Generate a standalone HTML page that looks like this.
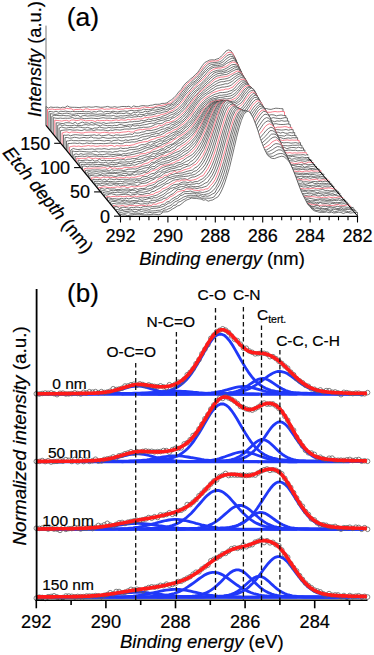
<!DOCTYPE html><html><head><meta charset="utf-8"><style>html,body{margin:0;padding:0;background:#fff;overflow:hidden}svg{display:block}</style></head><body><svg width="374" height="655" viewBox="0 0 374 655" font-family='"Liberation Sans", sans-serif'><style>text{stroke:#000;stroke-width:0.2px}</style><path d="M46.0,125.4 L46.0,106.4 L48.4,108.1 L50.7,107.0 L53.1,107.4 L55.5,107.3 L57.9,107.2 L60.2,107.9 L62.6,107.2 L65.0,107.5 L67.3,105.9 L69.7,107.1 L72.1,107.3 L74.4,107.3 L76.8,107.4 L79.2,107.6 L81.5,107.3 L83.9,107.0 L86.3,107.2 L88.7,106.8 L91.0,107.2 L93.4,107.1 L95.8,106.6 L98.1,106.9 L100.5,107.3 L102.9,107.2 L105.2,106.9 L107.6,106.4 L110.0,107.2 L112.4,107.2 L114.7,106.7 L117.1,107.3 L119.5,107.0 L121.8,106.5 L124.2,106.5 L126.6,106.6 L128.9,106.3 L131.3,107.5 L133.7,105.9 L136.1,106.6 L138.4,106.7 L140.8,105.9 L143.2,105.6 L145.5,105.9 L147.9,106.0 L150.3,105.3 L152.6,105.1 L155.0,104.3 L157.4,104.3 L159.8,104.2 L162.1,103.4 L164.5,103.4 L166.9,102.9 L169.2,101.2 L171.6,99.7 L174.0,97.7 L176.3,95.2 L178.7,92.0 L181.1,89.5 L183.5,85.8 L185.8,83.1 L188.2,81.2 L190.6,78.9 L192.9,77.2 L195.3,74.6 L197.7,72.5 L200.0,69.1 L202.4,65.5 L204.8,62.5 L207.2,61.3 L209.5,60.1 L211.9,59.8 L214.3,60.0 L216.6,59.1 L219.0,58.4 L221.4,56.0 L223.8,53.8 L226.1,50.9 L228.5,49.9 L230.9,50.7 L233.2,54.2 L235.6,59.5 L238.0,67.8 L240.3,76.9 L242.7,85.7 L245.1,93.4 L247.4,99.5 L249.8,103.7 L252.2,106.2 L254.6,106.8 L256.9,108.7 L259.3,108.7 L261.7,108.7 L264.0,108.6 L266.4,108.5 L268.8,109.2 L271.1,109.4 L273.5,108.7 L275.9,108.2 L278.3,108.4 L280.6,108.6 L283.0,108.8 L283.0,125.4" fill="#fff" stroke="#3a3a3a" stroke-width="0.72"/>
<path d="M47.5,127.2 L47.5,109.2 L49.8,109.4 L52.2,109.0 L54.6,109.6 L56.9,109.3 L59.3,109.3 L61.7,109.1 L64.1,109.2 L66.4,108.3 L68.8,108.7 L71.2,108.7 L73.5,110.1 L75.9,109.4 L78.3,109.5 L80.6,109.1 L83.0,110.2 L85.4,108.9 L87.8,108.9 L90.1,109.8 L92.5,109.7 L94.9,109.6 L97.2,109.3 L99.6,109.1 L102.0,108.5 L104.3,109.4 L106.7,109.0 L109.1,109.2 L111.5,108.6 L113.8,108.9 L116.2,108.7 L118.6,109.5 L120.9,109.1 L123.3,109.2 L125.7,108.3 L128.0,108.5 L130.4,108.7 L132.8,108.6 L135.2,108.1 L137.5,108.5 L139.9,108.4 L142.3,107.7 L144.6,106.8 L147.0,107.6 L149.4,107.5 L151.7,107.4 L154.1,107.2 L156.5,106.2 L158.9,105.7 L161.2,105.6 L163.6,105.0 L166.0,104.4 L168.3,103.5 L170.7,102.8 L173.1,100.6 L175.4,98.2 L177.8,95.7 L180.2,92.6 L182.6,89.5 L184.9,86.4 L187.3,83.5 L189.7,81.5 L192.0,79.5 L194.4,77.4 L196.8,75.1 L199.1,72.1 L201.5,69.8 L203.9,66.1 L206.3,63.8 L208.6,62.0 L211.0,61.2 L213.4,61.0 L215.7,61.0 L218.1,60.6 L220.5,59.0 L222.8,57.3 L225.2,54.9 L227.6,52.7 L230.0,52.1 L232.3,52.8 L234.7,56.9 L237.1,63.0 L239.4,71.8 L241.8,81.0 L244.2,89.6 L246.5,96.9 L248.9,103.0 L251.3,106.5 L253.7,109.2 L256.0,109.9 L258.4,111.5 L260.8,111.2 L263.1,112.0 L265.5,112.2 L267.9,112.2 L270.2,112.3 L272.6,111.8 L275.0,111.5 L277.4,111.8 L279.7,111.7 L282.1,111.3 L284.5,111.8 L284.5,127.2" fill="#fff" stroke="#f64a5e" stroke-width="0.72"/>
<path d="M48.9,129.0 L48.9,111.4 L51.3,111.6 L53.7,112.1 L56.0,111.2 L58.4,112.2 L60.8,111.2 L63.1,111.5 L65.5,111.1 L67.9,111.5 L70.3,111.8 L72.6,111.4 L75.0,111.7 L77.4,111.6 L79.7,111.5 L82.1,111.5 L84.5,111.6 L86.8,111.8 L89.2,111.6 L91.6,112.3 L94.0,111.6 L96.3,112.0 L98.7,111.1 L101.1,111.0 L103.4,112.2 L105.8,111.4 L108.2,111.5 L110.5,111.9 L112.9,111.2 L115.3,111.6 L117.7,112.0 L120.0,111.4 L122.4,111.2 L124.8,111.0 L127.1,111.4 L129.5,110.6 L131.9,110.4 L134.2,110.9 L136.6,110.6 L139.0,110.2 L141.4,110.2 L143.7,109.1 L146.1,109.5 L148.5,109.7 L150.8,109.3 L153.2,108.6 L155.6,107.4 L157.9,107.9 L160.3,107.4 L162.7,106.8 L165.1,106.4 L167.4,104.8 L169.8,104.8 L172.2,103.0 L174.5,101.2 L176.9,98.7 L179.3,96.2 L181.6,92.6 L184.0,89.8 L186.4,86.8 L188.8,84.5 L191.1,82.2 L193.5,80.0 L195.9,77.9 L198.2,75.6 L200.6,72.7 L203.0,69.7 L205.3,67.0 L207.7,64.5 L210.1,63.1 L212.5,62.7 L214.8,62.5 L217.2,62.3 L219.6,61.8 L221.9,60.6 L224.3,58.3 L226.7,55.8 L229.0,54.6 L231.4,54.2 L233.8,56.0 L236.2,60.1 L238.5,67.6 L240.9,75.6 L243.3,84.6 L245.6,93.5 L248.0,100.3 L250.4,105.9 L252.7,110.2 L255.1,112.3 L257.5,114.3 L259.9,114.6 L262.2,114.1 L264.6,115.3 L267.0,114.3 L269.3,115.1 L271.7,114.7 L274.1,115.0 L276.4,115.9 L278.8,115.3 L281.2,115.0 L283.6,115.5 L285.9,115.6 L285.9,129.0" fill="#fff" stroke="#3a3a3a" stroke-width="0.72"/>
<path d="M50.4,130.7 L50.4,113.6 L52.8,114.0 L55.1,114.4 L57.5,114.0 L59.9,113.4 L62.2,113.9 L64.6,113.4 L67.0,113.1 L69.3,113.7 L71.7,114.2 L74.1,114.2 L76.5,113.7 L78.8,113.4 L81.2,113.6 L83.6,113.5 L85.9,113.9 L88.3,113.6 L90.7,113.9 L93.0,113.8 L95.4,114.2 L97.8,114.3 L100.2,113.9 L102.5,114.1 L104.9,114.1 L107.3,113.4 L109.6,113.7 L112.0,112.6 L114.4,113.3 L116.7,113.8 L119.1,113.2 L121.5,113.3 L123.9,113.6 L126.2,112.8 L128.6,113.3 L131.0,114.1 L133.3,112.4 L135.7,112.8 L138.1,111.8 L140.4,112.4 L142.8,112.4 L145.2,111.1 L147.6,111.8 L149.9,111.0 L152.3,110.1 L154.7,110.2 L157.0,109.8 L159.4,109.3 L161.8,108.5 L164.1,108.6 L166.5,107.4 L168.9,106.5 L171.3,105.1 L173.6,104.0 L176.0,102.1 L178.4,99.2 L180.7,96.5 L183.1,93.3 L185.5,90.2 L187.8,87.1 L190.2,85.0 L192.6,82.7 L195.0,81.2 L197.3,78.8 L199.7,75.9 L202.1,73.6 L204.4,70.6 L206.8,68.0 L209.2,65.6 L211.5,64.5 L213.9,64.3 L216.3,63.9 L218.7,63.8 L221.0,63.0 L223.4,61.8 L225.8,59.3 L228.1,57.6 L230.5,56.3 L232.9,56.6 L235.2,58.9 L237.6,63.6 L240.0,71.0 L242.4,79.4 L244.7,88.6 L247.1,96.9 L249.5,104.0 L251.8,109.6 L254.2,113.9 L256.6,115.4 L258.9,116.5 L261.3,117.5 L263.7,117.7 L266.1,118.2 L268.4,118.3 L270.8,118.5 L273.2,117.6 L275.5,118.1 L277.9,118.4 L280.3,118.7 L282.6,118.2 L285.0,117.6 L287.4,118.0 L287.4,130.7" fill="#fff" stroke="#3a3a3a" stroke-width="0.72"/>
<path d="M51.8,132.5 L51.8,116.3 L54.2,115.4 L56.6,115.4 L59.0,115.6 L61.3,115.7 L63.7,115.5 L66.1,115.8 L68.4,115.7 L70.8,116.3 L73.2,115.4 L75.5,115.9 L77.9,115.2 L80.3,116.8 L82.7,115.7 L85.0,115.6 L87.4,116.1 L89.8,115.8 L92.1,115.7 L94.5,115.8 L96.9,116.2 L99.2,116.0 L101.6,115.6 L104.0,115.5 L106.4,115.9 L108.7,115.9 L111.1,115.9 L113.5,115.5 L115.8,116.3 L118.2,116.3 L120.6,115.7 L122.9,116.0 L125.3,115.7 L127.7,115.3 L130.1,115.0 L132.4,115.4 L134.8,114.5 L137.2,115.3 L139.5,114.1 L141.9,114.7 L144.3,114.3 L146.6,113.3 L149.0,113.3 L151.4,113.1 L153.8,112.5 L156.1,111.7 L158.5,111.4 L160.9,110.8 L163.2,109.8 L165.6,109.9 L168.0,109.0 L170.3,108.0 L172.7,106.2 L175.1,104.5 L177.5,102.3 L179.8,99.9 L182.2,97.0 L184.6,93.6 L186.9,90.8 L189.3,87.8 L191.7,85.3 L194.0,83.5 L196.4,81.4 L198.8,79.3 L201.2,76.5 L203.5,73.5 L205.9,71.2 L208.3,68.7 L210.6,67.3 L213.0,65.8 L215.4,65.5 L217.7,65.7 L220.1,65.1 L222.5,64.7 L224.9,62.9 L227.2,60.9 L229.6,59.4 L232.0,58.0 L234.3,58.7 L236.7,62.2 L239.1,67.6 L241.4,74.7 L243.8,83.6 L246.2,92.9 L248.6,101.0 L250.9,107.8 L253.3,112.9 L255.7,116.1 L258.0,118.5 L260.4,119.2 L262.8,120.1 L265.1,120.7 L267.5,120.7 L269.9,120.7 L272.3,120.9 L274.6,121.7 L277.0,120.9 L279.4,121.2 L281.7,120.6 L284.1,121.2 L286.5,121.0 L288.8,121.1 L288.8,132.5" fill="#fff" stroke="#3a3a3a" stroke-width="0.72"/>
<path d="M53.3,134.3 L53.3,117.6 L55.7,118.2 L58.0,118.4 L60.4,118.1 L62.8,118.4 L65.2,118.2 L67.5,118.3 L69.9,118.2 L72.3,117.5 L74.6,118.4 L77.0,118.3 L79.4,118.3 L81.7,118.0 L84.1,118.7 L86.5,118.5 L88.9,118.3 L91.2,118.1 L93.6,118.3 L96.0,118.5 L98.3,118.6 L100.7,118.1 L103.1,117.7 L105.4,118.1 L107.8,118.2 L110.2,118.1 L112.6,118.6 L114.9,118.3 L117.3,118.2 L119.7,117.9 L122.0,118.0 L124.4,118.3 L126.8,117.3 L129.1,116.9 L131.5,117.4 L133.9,116.9 L136.3,116.8 L138.6,116.3 L141.0,116.9 L143.4,115.5 L145.7,115.9 L148.1,114.9 L150.5,115.0 L152.8,114.7 L155.2,114.1 L157.6,113.1 L160.0,113.2 L162.3,112.4 L164.7,111.8 L167.1,111.5 L169.4,109.5 L171.8,108.8 L174.2,107.4 L176.5,105.3 L178.9,103.4 L181.3,100.5 L183.7,97.1 L186.0,94.1 L188.4,91.7 L190.8,89.2 L193.1,86.4 L195.5,83.9 L197.9,82.2 L200.2,79.9 L202.6,77.3 L205.0,74.9 L207.4,71.9 L209.7,69.5 L212.1,68.0 L214.5,67.2 L216.8,67.1 L219.2,66.8 L221.6,66.6 L223.9,65.4 L226.3,63.6 L228.7,62.4 L231.1,61.1 L233.4,60.3 L235.8,61.4 L238.2,64.8 L240.5,70.6 L242.9,78.8 L245.3,87.7 L247.6,96.3 L250.0,104.8 L252.4,110.8 L254.8,116.3 L257.1,119.3 L259.5,121.4 L261.9,122.6 L264.2,123.3 L266.6,124.3 L269.0,123.9 L271.3,124.1 L273.7,124.0 L276.1,123.7 L278.5,124.3 L280.8,124.5 L283.2,124.5 L285.6,124.3 L287.9,123.9 L290.3,124.5 L290.3,134.3" fill="#fff" stroke="#3a3a3a" stroke-width="0.72"/>
<path d="M54.8,136.1 L54.8,120.1 L57.1,120.5 L59.5,120.7 L61.9,121.1 L64.2,120.5 L66.6,120.3 L69.0,121.3 L71.4,120.1 L73.7,120.0 L76.1,120.5 L78.5,120.4 L80.8,119.7 L83.2,120.1 L85.6,120.9 L87.9,120.6 L90.3,120.6 L92.7,120.6 L95.1,121.5 L97.4,120.3 L99.8,120.8 L102.2,120.5 L104.5,120.6 L106.9,120.2 L109.3,120.7 L111.6,120.8 L114.0,120.3 L116.4,119.9 L118.8,120.5 L121.1,119.8 L123.5,120.1 L125.9,120.2 L128.2,119.3 L130.6,120.0 L133.0,119.1 L135.3,119.4 L137.7,118.8 L140.1,119.1 L142.5,118.7 L144.8,117.6 L147.2,117.6 L149.6,117.2 L151.9,117.0 L154.3,116.1 L156.7,116.2 L159.0,115.5 L161.4,114.5 L163.8,114.1 L166.2,113.3 L168.5,112.2 L170.9,111.2 L173.3,110.0 L175.6,108.0 L178.0,106.1 L180.4,103.6 L182.7,101.1 L185.1,98.1 L187.5,95.1 L189.9,92.0 L192.2,89.6 L194.6,87.0 L197.0,84.7 L199.3,82.5 L201.7,80.4 L204.1,78.3 L206.4,75.3 L208.8,73.0 L211.2,70.6 L213.6,69.4 L215.9,68.5 L218.3,68.0 L220.7,68.2 L223.0,67.4 L225.4,66.8 L227.8,65.4 L230.1,63.4 L232.5,62.0 L234.9,62.4 L237.3,64.1 L239.6,68.5 L242.0,74.5 L244.4,82.4 L246.7,91.6 L249.1,100.5 L251.5,108.6 L253.8,114.6 L256.2,119.2 L258.6,122.5 L261.0,124.6 L263.3,126.4 L265.7,125.8 L268.1,126.8 L270.4,127.0 L272.8,126.8 L275.2,127.9 L277.5,127.1 L279.9,127.2 L282.3,127.0 L284.7,126.6 L287.0,126.9 L289.4,127.8 L291.8,127.3 L291.8,136.1" fill="#fff" stroke="#f64a5e" stroke-width="0.72"/>
<path d="M56.2,137.9 L56.2,122.8 L58.6,122.9 L61.0,123.4 L63.3,123.6 L65.7,122.7 L68.1,122.8 L70.4,122.9 L72.8,123.6 L75.2,122.2 L77.6,124.0 L79.9,123.1 L82.3,122.1 L84.7,123.0 L87.0,122.8 L89.4,123.4 L91.8,122.4 L94.1,123.4 L96.5,122.8 L98.9,122.9 L101.3,123.3 L103.6,122.6 L106.0,123.5 L108.4,123.2 L110.7,122.9 L113.1,123.0 L115.5,122.6 L117.8,122.4 L120.2,122.8 L122.6,122.8 L125.0,122.6 L127.3,122.4 L129.7,121.8 L132.1,121.9 L134.4,121.4 L136.8,121.4 L139.2,121.3 L141.5,120.4 L143.9,120.8 L146.3,120.0 L148.7,119.0 L151.0,119.6 L153.4,118.6 L155.8,118.6 L158.1,117.6 L160.5,117.3 L162.9,116.1 L165.2,115.4 L167.6,114.4 L170.0,112.9 L172.4,112.3 L174.7,110.9 L177.1,109.3 L179.5,107.2 L181.8,104.8 L184.2,102.0 L186.6,98.6 L188.9,95.1 L191.3,92.5 L193.7,90.1 L196.1,87.4 L198.4,85.7 L200.8,83.7 L203.2,81.5 L205.5,79.0 L207.9,76.3 L210.3,73.4 L212.6,72.0 L215.0,71.0 L217.4,70.3 L219.8,70.1 L222.1,70.2 L224.5,69.2 L226.9,68.0 L229.2,66.5 L231.6,64.9 L234.0,64.4 L236.3,64.8 L238.7,66.6 L241.1,71.2 L243.5,78.5 L245.8,86.5 L248.2,95.6 L250.6,104.2 L252.9,112.0 L255.3,118.3 L257.7,122.6 L260.0,125.7 L262.4,127.7 L264.8,129.5 L267.2,130.5 L269.5,130.0 L271.9,130.4 L274.3,129.8 L276.6,129.6 L279.0,129.8 L281.4,130.1 L283.7,129.9 L286.1,129.5 L288.5,130.2 L290.9,129.6 L293.2,129.7 L293.2,137.9" fill="#fff" stroke="#3a3a3a" stroke-width="0.72"/>
<path d="M57.7,139.6 L57.7,125.2 L60.1,124.7 L62.4,125.6 L64.8,124.9 L67.2,125.6 L69.5,125.6 L71.9,125.7 L74.3,125.1 L76.6,125.6 L79.0,125.3 L81.4,125.7 L83.8,124.9 L86.1,124.6 L88.5,125.2 L90.9,124.7 L93.2,125.1 L95.6,124.5 L98.0,125.2 L100.3,125.9 L102.7,124.7 L105.1,125.3 L107.5,125.7 L109.8,125.5 L112.2,125.9 L114.6,125.3 L116.9,125.6 L119.3,124.5 L121.7,124.7 L124.0,125.5 L126.4,125.3 L128.8,124.7 L131.2,125.0 L133.5,124.1 L135.9,123.8 L138.3,123.7 L140.6,123.3 L143.0,122.6 L145.4,121.9 L147.7,121.4 L150.1,121.5 L152.5,120.7 L154.9,120.7 L157.2,119.6 L159.6,119.4 L162.0,118.0 L164.3,118.0 L166.7,117.1 L169.1,115.8 L171.4,114.6 L173.8,113.9 L176.2,112.2 L178.6,110.2 L180.9,108.0 L183.3,105.5 L185.7,102.3 L188.0,99.3 L190.4,95.9 L192.8,93.2 L195.1,91.0 L197.5,89.0 L199.9,86.4 L202.3,84.1 L204.6,82.1 L207.0,79.5 L209.4,77.3 L211.7,75.2 L214.1,73.1 L216.5,72.2 L218.8,71.6 L221.2,71.9 L223.6,71.3 L226.0,70.7 L228.3,69.3 L230.7,68.0 L233.1,66.7 L235.4,66.1 L237.8,66.6 L240.2,69.7 L242.5,75.0 L244.9,82.2 L247.3,90.7 L249.7,99.3 L252.0,108.5 L254.4,115.9 L256.8,121.3 L259.1,125.4 L261.5,128.8 L263.9,130.2 L266.2,131.3 L268.6,131.7 L271.0,132.4 L273.4,131.9 L275.7,132.5 L278.1,132.1 L280.5,133.1 L282.8,132.3 L285.2,133.2 L287.6,133.3 L289.9,132.5 L292.3,133.0 L294.7,132.5 L294.7,139.6" fill="#fff" stroke="#3a3a3a" stroke-width="0.72"/>
<path d="M59.1,141.4 L59.1,128.1 L61.5,127.0 L63.9,127.7 L66.3,128.1 L68.6,127.6 L71.0,127.3 L73.4,127.9 L75.7,127.5 L78.1,126.9 L80.5,127.3 L82.8,127.7 L85.2,127.9 L87.6,127.4 L90.0,128.2 L92.3,128.8 L94.7,127.9 L97.1,128.1 L99.4,127.0 L101.8,127.6 L104.2,128.0 L106.5,128.1 L108.9,127.4 L111.3,127.9 L113.7,127.8 L116.0,127.6 L118.4,127.4 L120.8,127.4 L123.1,127.2 L125.5,126.6 L127.9,126.3 L130.2,127.3 L132.6,125.5 L135.0,126.1 L137.4,125.4 L139.7,125.8 L142.1,125.1 L144.5,124.7 L146.8,124.4 L149.2,123.6 L151.6,123.2 L153.9,123.3 L156.3,122.3 L158.7,121.2 L161.1,120.5 L163.4,120.1 L165.8,119.2 L168.2,118.3 L170.5,117.7 L172.9,116.4 L175.3,114.5 L177.6,113.3 L180.0,111.2 L182.4,109.0 L184.8,105.9 L187.1,102.7 L189.5,100.0 L191.9,96.8 L194.2,94.2 L196.6,91.3 L199.0,89.2 L201.3,87.5 L203.7,85.0 L206.1,82.9 L208.5,80.5 L210.8,78.1 L213.2,76.2 L215.6,74.7 L217.9,73.6 L220.3,73.3 L222.7,73.3 L225.0,72.4 L227.4,72.0 L229.8,70.8 L232.2,69.4 L234.5,67.9 L236.9,67.7 L239.3,69.2 L241.6,72.5 L244.0,78.6 L246.4,85.9 L248.7,94.6 L251.1,103.5 L253.5,111.8 L255.9,119.9 L258.2,123.6 L260.6,129.2 L263.0,131.5 L265.3,133.0 L267.7,133.9 L270.1,134.7 L272.4,136.2 L274.8,135.6 L277.2,135.0 L279.6,135.6 L281.9,135.7 L284.3,136.2 L286.7,134.9 L289.0,135.1 L291.4,135.7 L293.8,135.4 L296.1,135.4 L296.1,141.4" fill="#fff" stroke="#3a3a3a" stroke-width="0.72"/>
<path d="M60.6,143.2 L60.6,130.5 L63.0,130.2 L65.3,130.0 L67.7,129.9 L70.1,129.6 L72.5,130.1 L74.8,130.2 L77.2,129.9 L79.6,130.3 L81.9,130.5 L84.3,129.6 L86.7,130.2 L89.0,130.0 L91.4,129.8 L93.8,130.5 L96.2,129.8 L98.5,129.9 L100.9,130.1 L103.3,129.9 L105.6,130.4 L108.0,130.9 L110.4,130.1 L112.7,130.4 L115.1,129.7 L117.5,129.8 L119.9,130.1 L122.2,129.7 L124.6,129.1 L127.0,129.0 L129.3,129.1 L131.7,128.8 L134.1,128.8 L136.4,128.4 L138.8,127.8 L141.2,127.7 L143.6,127.2 L145.9,127.3 L148.3,127.1 L150.7,126.6 L153.0,125.6 L155.4,124.3 L157.8,123.6 L160.1,123.7 L162.5,123.1 L164.9,121.3 L167.3,120.6 L169.6,120.3 L172.0,118.3 L174.4,117.5 L176.7,115.9 L179.1,114.3 L181.5,112.1 L183.8,109.7 L186.2,107.1 L188.6,103.9 L191.0,100.8 L193.3,97.5 L195.7,95.1 L198.1,92.8 L200.4,90.1 L202.8,88.0 L205.2,85.8 L207.5,83.6 L209.9,81.8 L212.3,79.4 L214.7,77.5 L217.0,76.0 L219.4,75.7 L221.8,75.0 L224.1,74.7 L226.5,74.5 L228.9,73.3 L231.2,71.8 L233.6,70.6 L236.0,69.5 L238.4,69.6 L240.7,71.6 L243.1,75.6 L245.5,81.8 L247.8,89.3 L250.2,98.5 L252.6,107.5 L254.9,115.5 L257.3,122.9 L259.7,127.8 L262.1,131.5 L264.4,134.4 L266.8,135.9 L269.2,136.5 L271.5,137.1 L273.9,138.2 L276.3,138.3 L278.6,137.3 L281.0,137.7 L283.4,138.7 L285.8,138.4 L288.1,137.9 L290.5,138.3 L292.9,137.7 L295.2,137.9 L297.6,137.7 L297.6,143.2" fill="#fff" stroke="#3a3a3a" stroke-width="0.72"/>
<path d="M62.1,145.0 L62.1,133.0 L64.4,132.3 L66.8,131.8 L69.2,132.8 L71.5,132.0 L73.9,132.2 L76.3,132.3 L78.7,132.6 L81.0,133.0 L83.4,132.9 L85.8,132.3 L88.1,132.2 L90.5,132.1 L92.9,132.2 L95.2,132.2 L97.6,132.7 L100.0,133.0 L102.4,132.5 L104.7,132.3 L107.1,132.5 L109.5,133.1 L111.8,132.7 L114.2,133.0 L116.6,132.4 L118.9,132.8 L121.3,132.3 L123.7,132.0 L126.1,131.9 L128.4,131.3 L130.8,132.0 L133.2,132.1 L135.5,130.6 L137.9,130.0 L140.3,129.6 L142.6,129.7 L145.0,129.2 L147.4,128.9 L149.8,129.0 L152.1,128.1 L154.5,127.1 L156.9,126.9 L159.2,125.2 L161.6,125.7 L164.0,124.4 L166.3,122.8 L168.7,122.5 L171.1,121.7 L173.5,120.6 L175.8,119.0 L178.2,117.0 L180.6,115.3 L182.9,113.0 L185.3,110.5 L187.7,107.1 L190.0,104.1 L192.4,101.0 L194.8,97.8 L197.2,95.0 L199.5,92.4 L201.9,90.5 L204.3,88.4 L206.6,86.1 L209.0,84.5 L211.4,82.5 L213.7,80.1 L216.1,78.6 L218.5,77.7 L220.9,77.1 L223.2,77.0 L225.6,76.5 L228.0,76.0 L230.3,74.7 L232.7,73.6 L235.1,72.1 L237.4,71.0 L239.8,71.6 L242.2,73.6 L244.6,78.2 L246.9,84.8 L249.3,92.9 L251.7,102.0 L254.0,111.2 L256.4,119.3 L258.8,126.1 L261.1,131.2 L263.5,134.7 L265.9,136.8 L268.3,138.4 L270.6,138.8 L273.0,139.4 L275.4,140.2 L277.7,139.6 L280.1,139.8 L282.5,140.5 L284.8,140.2 L287.2,139.9 L289.6,140.3 L292.0,140.0 L294.3,140.2 L296.7,140.1 L299.1,140.5 L299.1,145.0" fill="#fff" stroke="#f64a5e" stroke-width="0.72"/>
<path d="M63.5,146.8 L63.5,135.0 L65.9,135.3 L68.3,134.9 L70.6,135.8 L73.0,135.0 L75.4,134.7 L77.7,134.9 L80.1,135.2 L82.5,135.0 L84.9,135.5 L87.2,135.5 L89.6,135.3 L92.0,135.2 L94.3,134.8 L96.7,135.5 L99.1,134.8 L101.4,135.8 L103.8,135.5 L106.2,135.2 L108.6,134.7 L110.9,135.4 L113.3,135.9 L115.7,134.9 L118.0,135.0 L120.4,135.3 L122.8,135.2 L125.1,134.9 L127.5,134.4 L129.9,134.0 L132.3,134.5 L134.6,132.7 L137.0,133.2 L139.4,132.9 L141.7,132.1 L144.1,131.9 L146.5,130.6 L148.8,130.6 L151.2,130.6 L153.6,130.0 L156.0,129.4 L158.3,128.6 L160.7,127.4 L163.1,127.0 L165.4,125.2 L167.8,124.8 L170.2,123.8 L172.5,122.3 L174.9,121.8 L177.3,120.2 L179.7,118.2 L182.0,116.3 L184.4,113.8 L186.8,110.8 L189.1,107.9 L191.5,104.4 L193.9,101.4 L196.2,98.4 L198.6,95.1 L201.0,93.2 L203.4,91.1 L205.7,88.8 L208.1,87.0 L210.5,85.4 L212.8,83.5 L215.2,81.7 L217.6,80.7 L219.9,79.6 L222.3,79.3 L224.7,79.0 L227.1,78.5 L229.4,77.6 L231.8,76.0 L234.2,74.4 L236.5,73.6 L238.9,72.4 L241.3,73.5 L243.6,76.3 L246.0,80.8 L248.4,88.1 L250.8,96.6 L253.1,105.5 L255.5,114.8 L257.9,123.0 L260.2,129.1 L262.6,133.7 L265.0,137.4 L267.3,140.4 L269.7,141.5 L272.1,142.1 L274.5,141.7 L276.8,142.3 L279.2,142.4 L281.6,142.3 L283.9,142.9 L286.3,142.6 L288.7,142.7 L291.0,143.2 L293.4,142.9 L295.8,142.6 L298.2,143.3 L300.5,142.6 L300.5,146.8" fill="#fff" stroke="#3a3a3a" stroke-width="0.72"/>
<path d="M65.0,148.5 L65.0,137.6 L67.4,137.5 L69.7,138.2 L72.1,137.9 L74.5,137.3 L76.8,137.6 L79.2,138.2 L81.6,137.8 L84.0,137.4 L86.3,137.9 L88.7,137.8 L91.1,136.9 L93.4,137.9 L95.8,137.9 L98.2,138.3 L100.5,138.1 L102.9,137.3 L105.3,137.9 L107.7,138.3 L110.0,138.2 L112.4,137.9 L114.8,137.5 L117.1,138.1 L119.5,137.4 L121.9,137.8 L124.2,137.3 L126.6,137.0 L129.0,136.8 L131.4,136.9 L133.7,136.4 L136.1,135.7 L138.5,136.0 L140.8,135.0 L143.2,134.4 L145.6,133.7 L147.9,133.6 L150.3,133.1 L152.7,132.4 L155.1,132.1 L157.4,131.2 L159.8,130.2 L162.2,129.3 L164.5,128.8 L166.9,127.5 L169.3,127.1 L171.6,124.9 L174.0,124.2 L176.4,122.6 L178.8,121.4 L181.1,119.3 L183.5,117.0 L185.9,114.3 L188.2,111.8 L190.6,108.0 L193.0,104.8 L195.3,101.7 L197.7,98.4 L200.1,95.9 L202.5,93.7 L204.8,91.8 L207.2,89.9 L209.6,88.2 L211.9,86.5 L214.3,85.0 L216.7,83.6 L219.0,82.4 L221.4,81.7 L223.8,81.7 L226.2,81.0 L228.5,80.7 L230.9,79.8 L233.3,77.8 L235.6,76.3 L238.0,74.6 L240.4,73.9 L242.7,75.3 L245.1,78.5 L247.5,83.5 L249.9,91.4 L252.2,100.2 L254.6,109.4 L257.0,118.5 L259.3,126.3 L261.7,132.4 L264.1,138.2 L266.4,140.0 L268.8,143.0 L271.2,144.3 L273.6,144.4 L275.9,144.9 L278.3,145.6 L280.7,145.2 L283.0,145.7 L285.4,145.6 L287.8,145.9 L290.1,145.7 L292.5,145.2 L294.9,145.3 L297.3,145.2 L299.6,145.0 L302.0,145.4 L302.0,148.5" fill="#fff" stroke="#3a3a3a" stroke-width="0.72"/>
<path d="M66.5,150.3 L66.5,141.0 L68.8,140.8 L71.2,140.1 L73.6,140.7 L75.9,140.6 L78.3,140.8 L80.7,140.6 L83.0,140.6 L85.4,140.7 L87.8,140.8 L90.2,141.0 L92.5,141.0 L94.9,140.6 L97.3,140.4 L99.6,140.4 L102.0,140.7 L104.4,141.0 L106.7,140.5 L109.1,140.5 L111.5,141.3 L113.9,140.4 L116.2,140.4 L118.6,139.9 L121.0,140.9 L123.3,140.8 L125.7,139.8 L128.1,140.5 L130.4,139.8 L132.8,139.6 L135.2,139.2 L137.6,139.0 L139.9,137.9 L142.3,136.9 L144.7,136.6 L147.0,136.0 L149.4,135.8 L151.8,134.5 L154.1,134.2 L156.5,133.3 L158.9,133.5 L161.3,131.9 L163.6,131.5 L166.0,129.9 L168.4,128.8 L170.7,128.1 L173.1,126.4 L175.5,125.0 L177.8,123.7 L180.2,122.1 L182.6,120.4 L185.0,118.1 L187.3,115.4 L189.7,112.0 L192.1,108.5 L194.4,105.2 L196.8,102.0 L199.2,99.3 L201.5,96.5 L203.9,94.5 L206.3,93.0 L208.7,91.4 L211.0,89.5 L213.4,88.1 L215.8,86.3 L218.1,85.5 L220.5,85.0 L222.9,84.5 L225.2,83.8 L227.6,83.8 L230.0,82.6 L232.4,81.2 L234.7,79.1 L237.1,77.4 L239.5,76.1 L241.8,75.7 L244.2,77.4 L246.6,81.0 L248.9,87.2 L251.3,94.8 L253.7,104.3 L256.1,113.5 L258.4,122.5 L260.8,129.9 L263.2,135.9 L265.5,140.3 L267.9,143.0 L270.3,145.5 L272.6,146.8 L275.0,146.7 L277.4,147.5 L279.8,147.9 L282.1,147.3 L284.5,147.4 L286.9,148.8 L289.2,147.9 L291.6,147.5 L294.0,147.5 L296.3,148.0 L298.7,147.2 L301.1,148.1 L303.5,147.9 L303.5,150.3" fill="#fff" stroke="#3a3a3a" stroke-width="0.72"/>
<path d="M67.9,152.1 L67.9,143.5 L70.3,143.5 L72.7,143.2 L75.0,143.1 L77.4,143.5 L79.8,143.0 L82.1,143.8 L84.5,143.6 L86.9,142.9 L89.2,143.5 L91.6,143.1 L94.0,143.7 L96.4,143.6 L98.7,143.6 L101.1,143.5 L103.5,143.7 L105.8,143.5 L108.2,143.3 L110.6,143.0 L112.9,143.4 L115.3,143.2 L117.7,143.0 L120.1,143.7 L122.4,143.7 L124.8,142.4 L127.2,142.2 L129.5,142.4 L131.9,141.9 L134.3,142.0 L136.6,141.6 L139.0,140.5 L141.4,140.6 L143.8,139.1 L146.1,139.1 L148.5,138.1 L150.9,136.9 L153.2,136.3 L155.6,136.4 L158.0,135.1 L160.3,135.1 L162.7,133.9 L165.1,132.5 L167.5,130.9 L169.8,130.5 L172.2,128.8 L174.6,127.7 L176.9,126.6 L179.3,124.9 L181.7,122.9 L184.0,121.1 L186.4,118.6 L188.8,115.6 L191.2,112.8 L193.5,109.0 L195.9,105.5 L198.3,102.3 L200.6,99.5 L203.0,97.5 L205.4,95.5 L207.7,93.9 L210.1,92.5 L212.5,91.1 L214.9,89.5 L217.2,88.3 L219.6,87.9 L222.0,87.1 L224.3,87.1 L226.7,86.6 L229.1,86.1 L231.4,85.0 L233.8,82.9 L236.2,80.8 L238.6,78.9 L240.9,77.6 L243.3,77.8 L245.7,79.7 L248.0,84.1 L250.4,90.5 L252.8,99.2 L255.1,108.2 L257.5,117.5 L259.9,126.0 L262.3,133.2 L264.6,139.2 L267.0,143.7 L269.4,146.9 L271.7,148.0 L274.1,148.5 L276.5,149.0 L278.8,150.9 L281.2,150.3 L283.6,150.3 L286.0,150.6 L288.3,150.1 L290.7,150.2 L293.1,150.4 L295.4,150.2 L297.8,150.8 L300.2,150.6 L302.5,150.6 L304.9,149.9 L304.9,152.1" fill="#fff" stroke="#3a3a3a" stroke-width="0.72"/>
<path d="M69.4,153.9 L69.4,147.0 L71.7,146.4 L74.1,146.0 L76.5,146.4 L78.9,146.0 L81.2,146.6 L83.6,146.2 L86.0,146.0 L88.3,145.5 L90.7,146.1 L93.1,145.8 L95.4,146.3 L97.8,146.3 L100.2,145.7 L102.6,146.1 L104.9,145.8 L107.3,146.1 L109.7,145.5 L112.0,145.4 L114.4,146.6 L116.8,145.5 L119.1,146.0 L121.5,145.8 L123.9,145.9 L126.3,145.3 L128.6,145.7 L131.0,145.2 L133.4,144.8 L135.7,143.9 L138.1,143.1 L140.5,142.5 L142.8,142.0 L145.2,141.7 L147.6,141.5 L150.0,140.1 L152.3,139.5 L154.7,138.7 L157.1,137.6 L159.4,137.3 L161.8,136.4 L164.2,136.1 L166.5,133.9 L168.9,132.8 L171.3,131.8 L173.7,130.1 L176.0,129.3 L178.4,127.6 L180.8,125.5 L183.1,124.0 L185.5,121.8 L187.9,119.2 L190.2,116.3 L192.6,113.1 L195.0,109.3 L197.4,106.4 L199.7,103.1 L202.1,100.6 L204.5,98.4 L206.8,97.0 L209.2,95.4 L211.6,93.4 L213.9,92.3 L216.3,91.6 L218.7,90.7 L221.1,90.0 L223.4,89.9 L225.8,89.0 L228.2,89.1 L230.5,88.1 L232.9,87.1 L235.3,84.2 L237.6,82.2 L240.0,79.8 L242.4,79.2 L244.8,79.3 L247.1,82.0 L249.5,86.9 L251.9,93.6 L254.2,102.3 L256.6,112.0 L259.0,121.7 L261.3,129.7 L263.7,136.6 L266.1,142.3 L268.5,146.1 L270.8,148.8 L273.2,150.9 L275.6,151.4 L277.9,151.4 L280.3,152.7 L282.7,152.4 L285.0,152.2 L287.4,153.0 L289.8,152.6 L292.2,153.2 L294.5,152.8 L296.9,153.1 L299.3,152.9 L301.6,152.8 L304.0,152.7 L306.4,152.7 L306.4,153.9" fill="#fff" stroke="#f64a5e" stroke-width="0.72"/>
<path d="M70.8,155.7 L70.8,150.0 L73.2,148.5 L75.6,149.2 L77.9,149.5 L80.3,149.3 L82.7,148.9 L85.1,149.4 L87.4,149.2 L89.8,149.2 L92.2,148.9 L94.5,149.4 L96.9,148.9 L99.3,148.9 L101.6,149.1 L104.0,148.6 L106.4,149.0 L108.8,149.5 L111.1,148.9 L113.5,149.0 L115.9,149.0 L118.2,148.8 L120.6,147.9 L123.0,148.6 L125.3,148.3 L127.7,148.3 L130.1,147.3 L132.5,147.4 L134.8,147.2 L137.2,146.7 L139.6,145.4 L141.9,144.6 L144.3,144.8 L146.7,143.8 L149.0,142.6 L151.4,141.7 L153.8,141.9 L156.2,140.8 L158.5,139.5 L160.9,139.1 L163.3,138.0 L165.6,136.9 L168.0,135.9 L170.4,134.1 L172.7,132.7 L175.1,131.9 L177.5,130.0 L179.9,128.3 L182.2,126.9 L184.6,124.8 L187.0,122.8 L189.3,119.8 L191.7,117.2 L194.1,113.3 L196.4,110.4 L198.8,107.1 L201.2,104.1 L203.6,101.5 L205.9,99.4 L208.3,97.8 L210.7,96.4 L213.0,95.1 L215.4,94.1 L217.8,93.5 L220.1,92.6 L222.5,92.6 L224.9,92.4 L227.3,92.0 L229.6,91.1 L232.0,90.3 L234.4,88.5 L236.7,85.6 L239.1,83.0 L241.5,81.1 L243.8,80.7 L246.2,81.3 L248.6,84.3 L251.0,89.9 L253.3,97.9 L255.7,106.7 L258.1,116.6 L260.4,125.8 L262.8,133.0 L265.2,140.2 L267.5,146.2 L269.9,149.8 L272.3,151.4 L274.7,153.3 L277.0,153.7 L279.4,154.6 L281.8,154.7 L284.1,154.6 L286.5,155.2 L288.9,155.5 L291.2,155.3 L293.6,155.1 L296.0,154.9 L298.4,154.9 L300.7,154.9 L303.1,154.6 L305.5,155.2 L307.8,154.3 L307.8,155.7" fill="#fff" stroke="#3a3a3a" stroke-width="0.72"/>
<path d="M72.3,157.4 L72.3,150.9 L74.7,151.5 L77.0,151.6 L79.4,151.2 L81.8,151.4 L84.1,151.6 L86.5,151.8 L88.9,152.0 L91.3,152.1 L93.6,151.4 L96.0,151.2 L98.4,152.1 L100.7,151.7 L103.1,151.6 L105.5,151.8 L107.8,152.0 L110.2,151.8 L112.6,152.4 L115.0,151.6 L117.3,151.7 L119.7,150.7 L122.1,151.0 L124.4,151.3 L126.8,150.9 L129.2,149.9 L131.5,149.6 L133.9,149.6 L136.3,149.1 L138.7,148.9 L141.0,147.8 L143.4,147.0 L145.8,146.4 L148.1,144.7 L150.5,145.3 L152.9,143.9 L155.2,143.0 L157.6,142.2 L160.0,140.8 L162.4,141.0 L164.7,139.6 L167.1,138.0 L169.5,136.7 L171.8,135.5 L174.2,134.2 L176.6,132.1 L178.9,131.3 L181.3,129.6 L183.7,127.5 L186.1,125.5 L188.4,123.3 L190.8,120.9 L193.2,117.7 L195.5,114.3 L197.9,111.0 L200.3,107.5 L202.6,104.3 L205.0,102.1 L207.4,100.4 L209.8,98.9 L212.1,97.9 L214.5,96.5 L216.9,96.4 L219.2,95.3 L221.6,95.3 L224.0,94.9 L226.3,94.8 L228.7,93.9 L231.1,93.3 L233.5,91.2 L235.8,89.9 L238.2,87.3 L240.6,84.4 L242.9,82.4 L245.3,81.9 L247.7,83.6 L250.0,86.6 L252.4,92.9 L254.8,101.0 L257.2,110.5 L259.5,120.0 L261.9,129.4 L264.3,137.3 L266.6,143.8 L269.0,148.1 L271.4,152.1 L273.7,154.2 L276.1,155.0 L278.5,156.1 L280.9,156.6 L283.2,156.9 L285.6,156.5 L288.0,157.2 L290.3,156.8 L292.7,156.2 L295.1,156.9 L297.4,157.3 L299.8,157.5 L302.2,157.0 L304.6,157.5 L306.9,157.6 L309.3,157.3 L309.3,157.4" fill="#fff" stroke="#3a3a3a" stroke-width="0.72"/>
<path d="M73.8,159.2 L73.8,154.6 L76.1,153.8 L78.5,154.7 L80.9,153.6 L83.2,154.4 L85.6,154.1 L88.0,153.9 L90.3,154.1 L92.7,153.9 L95.1,154.5 L97.5,155.0 L99.8,154.2 L102.2,154.8 L104.6,154.4 L106.9,153.8 L109.3,154.2 L111.7,154.4 L114.0,154.5 L116.4,154.2 L118.8,154.1 L121.2,154.5 L123.5,153.6 L125.9,153.9 L128.3,153.1 L130.6,153.0 L133.0,152.0 L135.4,151.5 L137.7,151.1 L140.1,150.4 L142.5,149.4 L144.9,148.3 L147.2,147.6 L149.6,147.1 L152.0,146.3 L154.3,145.0 L156.7,145.4 L159.1,143.7 L161.4,143.3 L163.8,141.4 L166.2,140.9 L168.6,139.4 L170.9,138.4 L173.3,136.5 L175.7,134.7 L178.0,133.2 L180.4,132.3 L182.8,130.6 L185.1,127.9 L187.5,126.4 L189.9,124.1 L192.3,121.1 L194.6,118.5 L197.0,114.2 L199.4,111.1 L201.7,108.1 L204.1,104.8 L206.5,102.9 L208.8,101.2 L211.2,99.6 L213.6,98.7 L216.0,98.2 L218.3,97.6 L220.7,97.4 L223.1,97.2 L225.4,96.6 L227.8,96.4 L230.2,96.0 L232.5,95.0 L234.9,93.4 L237.3,91.0 L239.7,88.3 L242.0,85.1 L244.4,83.7 L246.8,83.1 L249.1,85.0 L251.5,89.6 L253.9,95.5 L256.2,104.5 L258.6,114.2 L261.0,123.8 L263.4,133.1 L265.7,140.6 L268.1,147.2 L270.5,151.1 L272.8,154.4 L275.2,156.9 L277.6,157.2 L279.9,158.2 L282.3,159.1 L284.7,158.7 L287.1,158.8 L289.4,158.3 L291.8,159.3 L294.2,158.7 L296.5,159.1 L298.9,158.8 L301.3,159.1 L303.6,159.1 L306.0,158.9 L308.4,159.5 L310.8,159.9 L310.8,159.2" fill="#fff" stroke="#3a3a3a" stroke-width="0.72"/>
<path d="M75.2,161.0 L75.2,156.4 L77.6,156.6 L80.0,156.3 L82.3,156.1 L84.7,156.5 L87.1,155.9 L89.4,156.4 L91.8,156.3 L94.2,156.1 L96.5,156.2 L98.9,156.4 L101.3,156.3 L103.7,156.7 L106.0,156.6 L108.4,156.3 L110.8,156.0 L113.1,156.5 L115.5,156.0 L117.9,155.5 L120.2,155.3 L122.6,156.0 L125.0,155.5 L127.4,155.4 L129.7,155.0 L132.1,154.5 L134.5,154.1 L136.8,153.4 L139.2,152.9 L141.6,152.3 L143.9,151.2 L146.3,150.3 L148.7,149.1 L151.1,148.6 L153.4,147.7 L155.8,146.6 L158.2,146.6 L160.5,145.5 L162.9,144.2 L165.3,143.2 L167.6,142.3 L170.0,140.2 L172.4,139.1 L174.8,138.0 L177.1,135.4 L179.5,134.8 L181.9,133.1 L184.2,131.5 L186.6,129.5 L189.0,127.2 L191.3,124.8 L193.7,121.7 L196.1,118.3 L198.5,114.9 L200.8,111.0 L203.2,108.0 L205.6,105.4 L207.9,103.3 L210.3,101.6 L212.7,100.4 L215.0,99.8 L217.4,99.0 L219.8,99.4 L222.2,99.2 L224.5,98.7 L226.9,99.0 L229.3,98.5 L231.6,98.0 L234.0,96.5 L236.4,94.5 L238.7,91.7 L241.1,88.8 L243.5,86.0 L245.9,84.4 L248.2,84.3 L250.6,86.7 L253.0,91.7 L255.3,99.0 L257.7,107.9 L260.1,117.4 L262.4,127.8 L264.8,136.1 L267.2,144.0 L269.6,149.3 L271.9,153.8 L274.3,157.0 L276.7,158.6 L279.0,160.5 L281.4,160.2 L283.8,160.4 L286.1,161.5 L288.5,160.5 L290.9,160.9 L293.3,160.9 L295.6,161.5 L298.0,160.7 L300.4,160.7 L302.7,161.0 L305.1,161.3 L307.5,160.7 L309.8,160.5 L312.2,160.8 L312.2,161.0" fill="#fff" stroke="#3a3a3a" stroke-width="0.72"/>
<path d="M76.7,162.8 L76.7,158.0 L79.0,158.6 L81.4,158.4 L83.8,158.3 L86.2,158.4 L88.5,157.3 L90.9,158.2 L93.3,158.6 L95.6,158.1 L98.0,158.8 L100.4,158.3 L102.7,158.1 L105.1,158.6 L107.5,158.5 L109.9,158.7 L112.2,158.3 L114.6,158.6 L117.0,157.6 L119.3,158.0 L121.7,158.2 L124.1,158.5 L126.4,157.0 L128.8,157.0 L131.2,157.0 L133.6,156.6 L135.9,156.0 L138.3,155.6 L140.7,153.9 L143.0,153.7 L145.4,153.5 L147.8,152.3 L150.1,152.1 L152.5,150.0 L154.9,149.1 L157.3,147.9 L159.6,146.9 L162.0,147.1 L164.4,145.5 L166.7,144.1 L169.1,142.9 L171.5,141.9 L173.8,139.9 L176.2,138.5 L178.6,136.9 L181.0,135.6 L183.3,134.1 L185.7,132.4 L188.1,130.3 L190.4,128.1 L192.8,125.2 L195.2,121.8 L197.5,118.3 L199.9,114.5 L202.3,111.0 L204.7,107.9 L207.0,105.6 L209.4,103.2 L211.8,101.6 L214.1,101.2 L216.5,100.6 L218.9,100.3 L221.2,100.2 L223.6,100.1 L226.0,100.3 L228.4,100.2 L230.7,100.3 L233.1,99.4 L235.5,98.0 L237.8,95.9 L240.2,92.6 L242.6,89.7 L244.9,86.8 L247.3,85.5 L249.7,85.6 L252.1,88.3 L254.4,93.8 L256.8,101.8 L259.2,110.5 L261.5,120.6 L263.9,130.5 L266.3,139.2 L268.6,146.5 L271.0,152.1 L273.4,156.6 L275.8,158.9 L278.1,160.5 L280.5,161.8 L282.9,162.5 L285.2,161.7 L287.6,162.3 L290.0,162.8 L292.3,162.9 L294.7,163.7 L297.1,163.3 L299.5,162.8 L301.8,162.2 L304.2,163.5 L306.6,163.0 L308.9,162.0 L311.3,162.5 L313.7,162.6 L313.7,162.8" fill="#fff" stroke="#f64a5e" stroke-width="0.72"/>
<path d="M78.1,164.6 L78.1,160.0 L80.5,160.5 L82.9,160.5 L85.2,160.1 L87.6,160.1 L90.0,160.8 L92.4,159.8 L94.7,161.1 L97.1,160.7 L99.5,159.2 L101.8,160.6 L104.2,160.2 L106.6,160.8 L108.9,160.5 L111.3,160.7 L113.7,160.5 L116.1,160.1 L118.4,159.6 L120.8,159.9 L123.2,159.5 L125.5,160.1 L127.9,159.2 L130.3,159.2 L132.6,158.5 L135.0,158.7 L137.4,158.0 L139.8,156.6 L142.1,156.1 L144.5,155.4 L146.9,154.8 L149.2,153.6 L151.6,152.5 L154.0,151.5 L156.3,151.1 L158.7,150.2 L161.1,149.0 L163.5,148.6 L165.8,146.7 L168.2,145.8 L170.6,144.5 L172.9,143.9 L175.3,142.0 L177.7,140.2 L180.0,138.3 L182.4,136.9 L184.8,134.9 L187.2,133.1 L189.5,131.0 L191.9,128.8 L194.3,125.2 L196.6,122.1 L199.0,118.2 L201.4,114.7 L203.7,111.0 L206.1,107.7 L208.5,105.2 L210.9,103.1 L213.2,102.1 L215.6,100.9 L218.0,101.3 L220.3,100.9 L222.7,100.8 L225.1,101.3 L227.4,101.6 L229.8,102.1 L232.2,101.3 L234.6,101.1 L236.9,99.0 L239.3,96.6 L241.7,93.3 L244.0,90.0 L246.4,87.7 L248.8,86.4 L251.1,87.0 L253.5,90.5 L255.9,95.9 L258.3,104.2 L260.6,113.7 L263.0,124.1 L265.4,133.7 L267.7,142.6 L270.1,149.4 L272.5,155.2 L274.8,158.1 L277.2,161.3 L279.6,163.6 L282.0,163.3 L284.3,164.1 L286.7,164.6 L289.1,163.4 L291.4,164.5 L293.8,165.0 L296.2,164.7 L298.5,164.4 L300.9,164.6 L303.3,164.0 L305.7,164.1 L308.0,164.8 L310.4,164.5 L312.8,164.3 L315.1,164.7 L315.1,164.6" fill="#fff" stroke="#3a3a3a" stroke-width="0.72"/>
<path d="M79.6,166.3 L79.6,162.6 L82.0,162.1 L84.3,162.2 L86.7,162.9 L89.1,162.6 L91.4,162.6 L93.8,162.5 L96.2,162.7 L98.6,161.9 L100.9,162.8 L103.3,162.8 L105.7,162.3 L108.0,163.3 L110.4,162.8 L112.8,162.1 L115.1,162.9 L117.5,162.7 L119.9,161.9 L122.3,162.0 L124.6,162.1 L127.0,161.8 L129.4,161.9 L131.7,161.2 L134.1,160.9 L136.5,159.3 L138.8,159.4 L141.2,159.0 L143.6,158.0 L146.0,157.0 L148.3,156.6 L150.7,155.5 L153.1,153.6 L155.4,153.8 L157.8,152.7 L160.2,151.2 L162.5,150.0 L164.9,150.0 L167.3,147.9 L169.7,147.2 L172.0,145.0 L174.4,143.9 L176.8,142.6 L179.1,140.7 L181.5,139.1 L183.9,137.8 L186.2,135.4 L188.6,134.0 L191.0,131.4 L193.4,129.0 L195.7,126.0 L198.1,122.3 L200.5,118.2 L202.8,114.1 L205.2,110.3 L207.6,107.4 L209.9,105.0 L212.3,103.4 L214.7,102.1 L217.1,101.5 L219.4,101.8 L221.8,101.3 L224.2,101.7 L226.5,101.9 L228.9,103.0 L231.3,103.1 L233.6,102.8 L236.0,102.2 L238.4,100.2 L240.8,97.6 L243.1,94.0 L245.5,90.7 L247.9,87.9 L250.2,87.2 L252.6,88.5 L255.0,91.9 L257.3,98.3 L259.7,106.8 L262.1,116.6 L264.5,127.2 L266.8,136.7 L269.2,145.7 L271.6,152.0 L273.9,156.9 L276.3,160.8 L278.7,163.0 L281.0,165.0 L283.4,165.6 L285.8,165.7 L288.2,166.4 L290.5,166.4 L292.9,165.2 L295.3,166.1 L297.6,166.5 L300.0,166.6 L302.4,165.7 L304.7,167.3 L307.1,166.4 L309.5,166.0 L311.9,166.5 L314.2,166.1 L316.6,166.7 L316.6,166.3" fill="#fff" stroke="#3a3a3a" stroke-width="0.72"/>
<path d="M81.1,168.1 L81.1,164.4 L83.4,164.4 L85.8,164.4 L88.2,164.3 L90.5,164.4 L92.9,164.0 L95.3,164.5 L97.6,164.6 L100.0,164.5 L102.4,164.5 L104.8,165.0 L107.1,165.1 L109.5,164.9 L111.9,164.3 L114.2,164.6 L116.6,164.5 L119.0,163.2 L121.3,163.8 L123.7,164.2 L126.1,164.2 L128.5,163.3 L130.8,163.8 L133.2,162.7 L135.6,162.4 L137.9,161.5 L140.3,161.6 L142.7,160.2 L145.0,160.3 L147.4,158.7 L149.8,157.2 L152.2,156.4 L154.5,156.4 L156.9,154.5 L159.3,153.7 L161.6,153.0 L164.0,152.3 L166.4,151.1 L168.7,150.0 L171.1,148.1 L173.5,146.8 L175.9,145.0 L178.2,143.5 L180.6,142.4 L183.0,140.5 L185.3,138.3 L187.7,137.1 L190.1,134.7 L192.4,132.4 L194.8,129.5 L197.2,125.8 L199.6,121.8 L201.9,117.7 L204.3,113.7 L206.7,109.9 L209.0,107.3 L211.4,104.4 L213.8,102.9 L216.1,102.1 L218.5,101.8 L220.9,102.1 L223.3,102.2 L225.6,103.2 L228.0,104.1 L230.4,104.4 L232.7,104.8 L235.1,104.4 L237.5,102.9 L239.8,101.2 L242.2,98.2 L244.6,94.4 L247.0,91.8 L249.3,89.0 L251.7,88.1 L254.1,89.7 L256.4,93.9 L258.8,101.4 L261.2,110.1 L263.5,120.4 L265.9,130.7 L268.3,140.4 L270.7,149.0 L273.0,154.8 L275.4,159.4 L277.8,163.4 L280.1,164.9 L282.5,166.6 L284.9,167.6 L287.2,168.6 L289.6,167.3 L292.0,167.6 L294.4,168.0 L296.7,168.1 L299.1,168.4 L301.5,167.8 L303.8,168.0 L306.2,167.8 L308.6,167.9 L310.9,168.5 L313.3,168.6 L315.7,167.8 L318.1,168.6 L318.1,168.1" fill="#fff" stroke="#3a3a3a" stroke-width="0.72"/>
<path d="M82.5,169.9 L82.5,166.2 L84.9,166.0 L87.3,166.8 L89.6,166.0 L92.0,166.3 L94.4,166.1 L96.7,166.5 L99.1,166.3 L101.5,166.1 L103.8,165.6 L106.2,166.0 L108.6,166.1 L111.0,166.8 L113.3,166.1 L115.7,166.5 L118.1,166.3 L120.4,166.1 L122.8,165.7 L125.2,165.8 L127.5,165.8 L129.9,165.6 L132.3,164.8 L134.7,165.2 L137.0,164.3 L139.4,163.2 L141.8,163.0 L144.1,161.7 L146.5,160.7 L148.9,159.3 L151.2,158.6 L153.6,158.6 L156.0,157.1 L158.4,156.0 L160.7,154.9 L163.1,154.2 L165.5,152.7 L167.8,152.0 L170.2,151.7 L172.6,150.1 L174.9,149.2 L177.3,146.2 L179.7,145.3 L182.1,143.6 L184.4,142.2 L186.8,140.2 L189.2,138.0 L191.5,135.9 L193.9,133.1 L196.3,129.8 L198.6,125.5 L201.0,121.8 L203.4,117.6 L205.8,113.2 L208.1,109.4 L210.5,106.2 L212.9,104.0 L215.2,102.8 L217.6,102.1 L220.0,102.1 L222.3,103.0 L224.7,103.2 L227.1,104.2 L229.5,105.9 L231.8,106.4 L234.2,106.4 L236.6,105.8 L238.9,104.4 L241.3,102.8 L243.7,99.5 L246.0,95.9 L248.4,92.5 L250.8,90.8 L253.2,90.2 L255.5,92.5 L257.9,97.3 L260.3,105.1 L262.6,114.1 L265.0,124.3 L267.4,134.6 L269.7,143.5 L272.1,151.8 L274.5,157.2 L276.9,162.4 L279.2,164.6 L281.6,166.5 L284.0,168.6 L286.3,168.8 L288.7,169.2 L291.1,169.8 L293.4,169.2 L295.8,169.4 L298.2,169.9 L300.6,169.6 L302.9,169.3 L305.3,169.7 L307.7,169.9 L310.0,169.0 L312.4,170.0 L314.8,169.5 L317.1,169.2 L319.5,169.3 L319.5,169.9" fill="#fff" stroke="#3a3a3a" stroke-width="0.72"/>
<path d="M84.0,171.7 L84.0,168.9 L86.4,168.3 L88.7,168.2 L91.1,168.3 L93.5,168.0 L95.8,168.0 L98.2,168.1 L100.6,168.1 L102.9,167.8 L105.3,167.7 L107.7,168.9 L110.1,167.3 L112.4,168.4 L114.8,167.9 L117.2,168.8 L119.5,168.3 L121.9,168.5 L124.3,167.6 L126.6,167.5 L129.0,167.7 L131.4,167.5 L133.8,166.9 L136.1,167.0 L138.5,166.3 L140.9,165.6 L143.2,164.2 L145.6,163.5 L148.0,163.0 L150.3,161.3 L152.7,160.2 L155.1,158.8 L157.5,158.6 L159.8,157.4 L162.2,155.8 L164.6,155.9 L166.9,155.0 L169.3,153.6 L171.7,152.9 L174.0,151.4 L176.4,150.1 L178.8,148.7 L181.2,146.4 L183.5,145.2 L185.9,143.6 L188.3,141.5 L190.6,139.3 L193.0,136.6 L195.4,133.4 L197.7,129.6 L200.1,126.1 L202.5,121.3 L204.9,117.0 L207.2,112.2 L209.6,108.3 L212.0,105.5 L214.3,103.5 L216.7,102.4 L219.1,102.3 L221.4,102.4 L223.8,103.1 L226.2,105.0 L228.6,105.8 L230.9,107.3 L233.3,108.4 L235.7,108.3 L238.0,107.6 L240.4,106.0 L242.8,103.6 L245.1,99.9 L247.5,96.8 L249.9,93.6 L252.3,91.9 L254.6,92.5 L257.0,95.5 L259.4,101.0 L261.7,108.6 L264.1,117.9 L266.5,128.6 L268.8,138.4 L271.2,146.6 L273.6,155.4 L276.0,160.3 L278.3,164.4 L280.7,167.0 L283.1,169.7 L285.4,170.0 L287.8,171.2 L290.2,170.5 L292.5,171.5 L294.9,171.1 L297.3,171.6 L299.7,171.2 L302.0,171.9 L304.4,171.2 L306.8,171.1 L309.1,171.3 L311.5,170.7 L313.9,171.2 L316.2,171.0 L318.6,171.1 L321.0,170.6 L321.0,171.7" fill="#fff" stroke="#f64a5e" stroke-width="0.72"/>
<path d="M85.4,173.5 L85.4,170.4 L87.8,170.2 L90.2,170.2 L92.6,169.9 L94.9,170.0 L97.3,169.8 L99.7,170.0 L102.0,170.3 L104.4,170.1 L106.8,169.9 L109.1,171.0 L111.5,169.6 L113.9,170.3 L116.3,170.2 L118.6,170.0 L121.0,170.1 L123.4,170.5 L125.7,170.0 L128.1,169.2 L130.5,169.1 L132.8,168.8 L135.2,169.1 L137.6,168.4 L140.0,167.3 L142.3,166.4 L144.7,166.0 L147.1,165.4 L149.4,164.7 L151.8,162.3 L154.2,162.4 L156.5,160.6 L158.9,159.5 L161.3,157.6 L163.7,158.0 L166.0,157.2 L168.4,156.1 L170.8,155.1 L173.1,153.6 L175.5,152.6 L177.9,151.7 L180.2,150.7 L182.6,148.2 L185.0,146.8 L187.4,144.5 L189.7,143.0 L192.1,140.3 L194.5,137.7 L196.8,134.3 L199.2,129.8 L201.6,125.6 L203.9,120.8 L206.3,115.7 L208.7,111.5 L211.1,107.5 L213.4,104.6 L215.8,102.3 L218.2,101.8 L220.5,102.0 L222.9,102.8 L225.3,104.5 L227.6,106.1 L230.0,108.1 L232.4,109.0 L234.8,110.0 L237.1,110.3 L239.5,109.1 L241.9,107.8 L244.2,104.6 L246.6,101.5 L249.0,98.0 L251.3,95.0 L253.7,93.4 L256.1,94.7 L258.5,98.1 L260.8,104.1 L263.2,111.6 L265.6,121.6 L267.9,131.9 L270.3,141.4 L272.7,150.4 L275.0,158.4 L277.4,163.2 L279.8,167.3 L282.2,168.6 L284.5,171.5 L286.9,171.8 L289.3,172.6 L291.6,172.9 L294.0,172.8 L296.4,172.9 L298.7,173.2 L301.1,173.4 L303.5,173.2 L305.9,173.4 L308.2,173.3 L310.6,172.9 L313.0,173.0 L315.3,172.8 L317.7,173.0 L320.1,172.2 L322.4,173.2 L322.4,173.5" fill="#fff" stroke="#3a3a3a" stroke-width="0.72"/>
<path d="M86.9,175.3 L86.9,172.4 L89.3,171.6 L91.6,172.2 L94.0,171.9 L96.4,171.6 L98.8,172.0 L101.1,172.1 L103.5,171.6 L105.9,171.8 L108.2,172.2 L110.6,172.4 L113.0,172.1 L115.3,172.6 L117.7,172.3 L120.1,172.3 L122.5,171.8 L124.8,171.5 L127.2,172.0 L129.6,171.7 L131.9,171.8 L134.3,171.6 L136.7,170.8 L139.0,169.8 L141.4,169.2 L143.8,168.3 L146.2,167.7 L148.5,167.6 L150.9,165.1 L153.3,163.8 L155.6,162.8 L158.0,161.8 L160.4,160.7 L162.7,159.2 L165.1,159.3 L167.5,158.0 L169.9,157.4 L172.2,156.5 L174.6,155.7 L177.0,154.5 L179.3,153.4 L181.7,151.3 L184.1,149.9 L186.4,148.4 L188.8,146.4 L191.2,144.3 L193.6,141.1 L195.9,138.4 L198.3,134.6 L200.7,130.5 L203.0,125.6 L205.4,120.0 L207.8,115.1 L210.1,110.4 L212.5,106.1 L214.9,103.3 L217.3,101.9 L219.6,101.6 L222.0,102.2 L224.4,103.7 L226.7,105.0 L229.1,107.7 L231.5,109.4 L233.8,111.4 L236.2,112.2 L238.6,111.9 L241.0,110.8 L243.3,108.7 L245.7,105.9 L248.1,102.4 L250.4,99.0 L252.8,96.4 L255.2,95.2 L257.5,96.4 L259.9,100.5 L262.3,107.2 L264.7,115.8 L267.0,125.4 L269.4,135.6 L271.8,145.6 L274.1,153.1 L276.5,160.4 L278.9,165.6 L281.2,169.4 L283.6,171.8 L286.0,172.5 L288.4,174.1 L290.7,174.1 L293.1,174.1 L295.5,173.8 L297.8,174.3 L300.2,174.6 L302.6,174.8 L304.9,174.3 L307.3,174.2 L309.7,174.8 L312.1,174.4 L314.4,174.7 L316.8,175.3 L319.2,175.0 L321.5,174.3 L323.9,174.1 L323.9,175.3" fill="#fff" stroke="#3a3a3a" stroke-width="0.72"/>
<path d="M88.4,177.0 L88.4,173.6 L90.7,173.9 L93.1,174.1 L95.5,173.6 L97.8,173.7 L100.2,174.5 L102.6,173.6 L105.0,174.1 L107.3,173.6 L109.7,173.6 L112.1,173.6 L114.4,173.4 L116.8,173.6 L119.2,174.2 L121.5,174.2 L123.9,173.3 L126.3,173.5 L128.7,174.2 L131.0,174.2 L133.4,172.8 L135.8,171.9 L138.1,172.0 L140.5,171.8 L142.9,170.9 L145.2,171.2 L147.6,169.5 L150.0,167.6 L152.4,166.5 L154.7,166.5 L157.1,164.1 L159.5,163.3 L161.8,162.2 L164.2,161.8 L166.6,160.9 L168.9,160.5 L171.3,159.1 L173.7,157.9 L176.1,157.5 L178.4,155.8 L180.8,154.8 L183.2,152.7 L185.5,151.2 L187.9,150.2 L190.3,147.6 L192.6,145.1 L195.0,142.6 L197.4,139.2 L199.8,135.1 L202.1,130.5 L204.5,125.1 L206.9,119.3 L209.2,114.2 L211.6,109.1 L214.0,105.4 L216.3,102.7 L218.7,101.6 L221.1,101.3 L223.5,102.1 L225.8,104.0 L228.2,106.5 L230.6,109.1 L232.9,111.4 L235.3,112.9 L237.7,113.8 L240.0,114.1 L242.4,112.4 L244.8,110.1 L247.2,106.9 L249.5,103.5 L251.9,99.6 L254.3,97.6 L256.6,97.5 L259.0,99.2 L261.4,103.3 L263.7,110.2 L266.1,119.0 L268.5,129.0 L270.9,139.1 L273.2,148.6 L275.6,157.0 L278.0,162.8 L280.3,169.0 L282.7,171.5 L285.1,172.9 L287.4,175.0 L289.8,176.0 L292.2,175.2 L294.6,175.7 L296.9,176.3 L299.3,176.5 L301.7,176.4 L304.0,176.4 L306.4,176.4 L308.8,176.6 L311.1,176.1 L313.5,176.6 L315.9,177.0 L318.3,176.8 L320.6,176.3 L323.0,176.7 L325.4,177.3 L325.4,177.0" fill="#fff" stroke="#3a3a3a" stroke-width="0.72"/>
<path d="M89.8,178.8 L89.8,175.2 L92.2,175.6 L94.6,176.0 L96.9,176.0 L99.3,175.6 L101.7,175.2 L104.0,176.0 L106.4,175.6 L108.8,176.0 L111.2,175.6 L113.5,176.2 L115.9,176.5 L118.3,175.7 L120.6,175.8 L123.0,175.4 L125.4,175.9 L127.7,175.0 L130.1,175.4 L132.5,174.6 L134.9,175.1 L137.2,174.0 L139.6,174.1 L142.0,173.4 L144.3,172.3 L146.7,172.4 L149.1,171.1 L151.4,168.8 L153.8,168.9 L156.2,167.3 L158.6,165.8 L160.9,164.3 L163.3,164.2 L165.7,163.1 L168.0,162.8 L170.4,161.7 L172.8,160.3 L175.1,159.7 L177.5,158.8 L179.9,157.4 L182.3,156.2 L184.6,154.7 L187.0,153.1 L189.4,151.4 L191.7,149.0 L194.1,146.8 L196.5,143.3 L198.8,139.4 L201.2,135.1 L203.6,129.9 L206.0,125.0 L208.3,119.0 L210.7,113.6 L213.1,108.7 L215.4,105.1 L217.8,102.5 L220.2,101.0 L222.5,101.3 L224.9,102.7 L227.3,104.9 L229.7,107.7 L232.0,110.8 L234.4,113.1 L236.8,114.8 L239.1,115.5 L241.5,115.6 L243.9,114.2 L246.2,111.6 L248.6,107.8 L251.0,104.4 L253.4,101.4 L255.7,99.5 L258.1,99.1 L260.5,101.7 L262.8,106.3 L265.2,113.5 L267.6,122.6 L269.9,132.4 L272.3,142.3 L274.7,151.0 L277.1,159.4 L279.4,165.4 L281.8,170.5 L284.2,174.0 L286.5,174.9 L288.9,175.8 L291.3,177.7 L293.6,177.7 L296.0,177.4 L298.4,177.9 L300.8,178.9 L303.1,177.6 L305.5,178.1 L307.9,177.7 L310.2,178.4 L312.6,177.7 L315.0,177.6 L317.3,178.3 L319.7,177.8 L322.1,178.3 L324.5,178.2 L326.8,178.4 L326.8,178.8" fill="#fff" stroke="#3a3a3a" stroke-width="0.72"/>
<path d="M91.3,180.6 L91.3,177.8 L93.7,177.9 L96.0,177.2 L98.4,177.7 L100.8,178.1 L103.1,177.1 L105.5,177.4 L107.9,177.2 L110.2,177.7 L112.6,177.4 L115.0,177.7 L117.4,178.0 L119.7,177.6 L122.1,177.5 L124.5,177.5 L126.8,177.2 L129.2,178.1 L131.6,177.1 L133.9,177.4 L136.3,176.9 L138.7,176.2 L141.1,175.8 L143.4,175.4 L145.8,174.0 L148.2,173.3 L150.5,171.8 L152.9,170.5 L155.3,169.9 L157.6,168.9 L160.0,167.3 L162.4,165.9 L164.8,165.2 L167.1,164.9 L169.5,164.4 L171.9,163.3 L174.2,162.6 L176.6,161.1 L179.0,160.3 L181.3,158.8 L183.7,157.9 L186.1,155.7 L188.5,154.7 L190.8,152.7 L193.2,150.6 L195.6,147.8 L197.9,144.3 L200.3,140.4 L202.7,135.5 L205.0,130.5 L207.4,124.4 L209.8,118.1 L212.2,112.7 L214.5,107.8 L216.9,104.0 L219.3,101.8 L221.6,100.9 L224.0,101.3 L226.4,103.3 L228.7,106.1 L231.1,109.4 L233.5,112.6 L235.9,114.5 L238.2,117.0 L240.6,117.7 L243.0,117.4 L245.3,115.6 L247.7,112.9 L250.1,109.3 L252.4,105.4 L254.8,102.8 L257.2,100.8 L259.6,101.1 L261.9,103.6 L264.3,109.1 L266.7,116.4 L269.0,125.9 L271.4,136.0 L273.8,145.8 L276.1,154.7 L278.5,162.6 L280.9,168.2 L283.3,172.0 L285.6,175.8 L288.0,177.1 L290.4,178.4 L292.7,179.3 L295.1,179.8 L297.5,179.4 L299.8,179.5 L302.2,179.8 L304.6,179.8 L307.0,179.7 L309.3,180.3 L311.7,179.7 L314.1,179.6 L316.4,179.1 L318.8,180.3 L321.2,180.1 L323.5,179.7 L325.9,180.0 L328.3,179.9 L328.3,180.6" fill="#fff" stroke="#f64a5e" stroke-width="0.72"/>
<path d="M92.7,182.4 L92.7,179.5 L95.1,179.7 L97.5,179.6 L99.9,179.4 L102.2,180.2 L104.6,179.3 L107.0,180.4 L109.3,178.9 L111.7,179.2 L114.1,179.8 L116.4,179.1 L118.8,179.6 L121.2,179.3 L123.6,179.2 L125.9,179.3 L128.3,179.4 L130.7,179.0 L133.0,179.2 L135.4,179.0 L137.8,178.9 L140.1,178.8 L142.5,176.9 L144.9,176.5 L147.3,176.4 L149.6,174.7 L152.0,173.6 L154.4,173.3 L156.7,171.5 L159.1,169.9 L161.5,168.1 L163.8,167.2 L166.2,166.3 L168.6,165.8 L171.0,164.8 L173.3,165.0 L175.7,163.5 L178.1,162.7 L180.4,162.5 L182.8,160.8 L185.2,159.0 L187.5,157.4 L189.9,156.1 L192.3,154.6 L194.7,152.1 L197.0,149.3 L199.4,145.4 L201.8,141.5 L204.1,136.4 L206.5,130.8 L208.9,124.2 L211.2,117.8 L213.6,112.2 L216.0,107.2 L218.4,103.4 L220.7,101.0 L223.1,101.0 L225.5,101.8 L227.8,104.1 L230.2,107.2 L232.6,110.5 L234.9,114.0 L237.3,117.0 L239.7,118.7 L242.1,119.5 L244.4,119.1 L246.8,117.1 L249.2,114.4 L251.5,110.5 L253.9,107.1 L256.3,104.3 L258.6,102.6 L261.0,103.5 L263.4,106.4 L265.8,111.9 L268.1,119.5 L270.5,129.0 L272.9,138.8 L275.2,148.3 L277.6,157.1 L280.0,165.2 L282.3,171.2 L284.7,175.0 L287.1,177.8 L289.5,180.0 L291.8,180.9 L294.2,181.5 L296.6,181.4 L298.9,180.8 L301.3,180.8 L303.7,181.9 L306.0,181.7 L308.4,182.0 L310.8,182.1 L313.2,181.5 L315.5,181.5 L317.9,181.8 L320.3,181.3 L322.6,181.7 L325.0,181.1 L327.4,181.7 L329.7,181.2 L329.7,182.4" fill="#fff" stroke="#3a3a3a" stroke-width="0.72"/>
<path d="M94.2,184.2 L94.2,181.5 L96.6,181.4 L98.9,181.2 L101.3,182.0 L103.7,181.7 L106.1,181.5 L108.4,181.6 L110.8,181.4 L113.2,181.8 L115.5,182.0 L117.9,181.5 L120.3,181.3 L122.6,181.7 L125.0,180.9 L127.4,181.1 L129.8,181.0 L132.1,180.9 L134.5,181.3 L136.9,179.9 L139.2,180.7 L141.6,179.8 L144.0,179.0 L146.3,178.4 L148.7,177.5 L151.1,176.7 L153.5,175.4 L155.8,173.9 L158.2,172.1 L160.6,171.6 L162.9,169.9 L165.3,168.9 L167.7,168.1 L170.0,167.6 L172.4,166.8 L174.8,166.7 L177.2,165.4 L179.5,164.5 L181.9,163.9 L184.3,162.5 L186.6,161.3 L189.0,160.2 L191.4,158.1 L193.7,156.3 L196.1,153.2 L198.5,150.8 L200.9,146.9 L203.2,142.3 L205.6,136.6 L208.0,130.3 L210.3,123.9 L212.7,117.5 L215.1,111.0 L217.4,106.2 L219.8,102.8 L222.2,100.9 L224.6,101.1 L226.9,102.2 L229.3,104.6 L231.7,108.8 L234.0,112.7 L236.4,116.1 L238.8,119.6 L241.1,120.8 L243.5,122.0 L245.9,121.0 L248.3,118.7 L250.6,115.3 L253.0,111.7 L255.4,108.6 L257.7,105.8 L260.1,104.3 L262.5,105.7 L264.8,108.8 L267.2,114.9 L269.6,122.6 L272.0,131.9 L274.3,142.6 L276.7,151.7 L279.1,160.1 L281.4,167.7 L283.8,173.1 L286.2,177.3 L288.5,179.6 L290.9,181.0 L293.3,181.6 L295.7,182.1 L298.0,183.1 L300.4,183.4 L302.8,182.8 L305.1,184.3 L307.5,183.8 L309.9,183.0 L312.2,182.4 L314.6,183.6 L317.0,183.2 L319.4,183.7 L321.7,183.3 L324.1,183.3 L326.5,183.6 L328.8,183.1 L331.2,183.3 L331.2,184.2" fill="#fff" stroke="#3a3a3a" stroke-width="0.72"/>
<path d="M95.7,185.9 L95.7,183.1 L98.0,183.4 L100.4,183.8 L102.8,183.3 L105.1,183.0 L107.5,183.6 L109.9,182.8 L112.3,183.2 L114.6,183.5 L117.0,183.3 L119.4,183.5 L121.7,183.7 L124.1,182.9 L126.5,182.9 L128.8,183.4 L131.2,183.2 L133.6,183.1 L136.0,182.6 L138.3,182.0 L140.7,182.4 L143.1,181.5 L145.4,181.0 L147.8,179.9 L150.2,178.6 L152.5,178.3 L154.9,177.5 L157.3,175.4 L159.7,174.6 L162.0,172.1 L164.4,171.8 L166.8,170.6 L169.1,169.5 L171.5,168.8 L173.9,168.5 L176.2,167.7 L178.6,166.8 L181.0,166.5 L183.4,164.9 L185.7,164.5 L188.1,164.3 L190.5,161.6 L192.8,160.5 L195.2,158.0 L197.6,154.9 L199.9,151.9 L202.3,148.2 L204.7,143.1 L207.1,137.1 L209.4,130.3 L211.8,123.9 L214.2,116.7 L216.5,110.7 L218.9,105.8 L221.3,102.3 L223.6,100.3 L226.0,101.2 L228.4,103.0 L230.8,105.7 L233.1,109.7 L235.5,114.4 L237.9,118.3 L240.2,121.5 L242.6,123.1 L245.0,123.8 L247.3,122.3 L249.7,120.0 L252.1,116.7 L254.5,112.9 L256.8,109.3 L259.2,106.7 L261.6,106.1 L263.9,107.4 L266.3,111.2 L268.7,117.6 L271.0,125.6 L273.4,135.4 L275.8,145.4 L278.2,154.7 L280.5,162.5 L282.9,169.4 L285.3,175.8 L287.6,178.9 L290.0,181.7 L292.4,183.2 L294.7,184.1 L297.1,184.6 L299.5,184.9 L301.9,185.0 L304.2,184.9 L306.6,185.4 L309.0,185.5 L311.3,185.4 L313.7,185.4 L316.1,184.8 L318.4,185.4 L320.8,185.0 L323.2,185.0 L325.6,184.8 L327.9,185.0 L330.3,184.6 L332.7,185.0 L332.7,185.9" fill="#fff" stroke="#3a3a3a" stroke-width="0.72"/>
<path d="M97.1,187.7 L97.1,185.1 L99.5,184.9 L101.9,185.8 L104.2,185.1 L106.6,184.6 L109.0,185.2 L111.3,185.3 L113.7,184.5 L116.1,185.2 L118.5,184.7 L120.8,186.1 L123.2,185.1 L125.6,185.4 L127.9,185.0 L130.3,184.6 L132.7,185.0 L135.0,184.9 L137.4,185.7 L139.8,184.0 L142.2,183.4 L144.5,183.3 L146.9,182.8 L149.3,181.6 L151.6,180.3 L154.0,179.3 L156.4,177.4 L158.7,177.0 L161.1,175.9 L163.5,173.9 L165.9,172.5 L168.2,172.1 L170.6,171.1 L173.0,170.7 L175.3,170.4 L177.7,169.7 L180.1,169.7 L182.4,168.2 L184.8,167.3 L187.2,166.2 L189.6,165.7 L191.9,164.2 L194.3,162.5 L196.7,160.2 L199.0,156.9 L201.4,153.0 L203.8,149.4 L206.1,143.9 L208.5,137.4 L210.9,130.9 L213.3,123.4 L215.6,116.6 L218.0,110.3 L220.4,105.0 L222.7,101.9 L225.1,100.7 L227.5,100.9 L229.8,103.3 L232.2,107.1 L234.6,111.5 L237.0,115.8 L239.3,120.3 L241.7,123.3 L244.1,125.0 L246.4,125.6 L248.8,124.1 L251.2,121.9 L253.5,117.9 L255.9,114.1 L258.3,110.4 L260.7,108.4 L263.0,107.7 L265.4,109.7 L267.8,114.1 L270.1,120.6 L272.5,129.1 L274.9,138.4 L277.2,148.5 L279.6,157.7 L282.0,165.5 L284.4,172.0 L286.7,177.2 L289.1,180.5 L291.5,183.9 L293.8,185.1 L296.2,185.7 L298.6,185.9 L300.9,186.3 L303.3,187.0 L305.7,186.8 L308.1,187.4 L310.4,186.5 L312.8,187.4 L315.2,186.7 L317.5,186.4 L319.9,186.4 L322.3,187.4 L324.6,186.7 L327.0,186.9 L329.4,186.9 L331.8,186.2 L334.1,186.7 L334.1,187.7" fill="#fff" stroke="#3a3a3a" stroke-width="0.72"/>
<path d="M98.6,189.5 L98.6,187.6 L101.0,187.5 L103.3,186.8 L105.7,187.0 L108.1,187.5 L110.4,187.7 L112.8,187.3 L115.2,187.3 L117.5,186.8 L119.9,187.3 L122.3,186.8 L124.7,186.6 L127.0,187.7 L129.4,187.2 L131.8,186.4 L134.1,187.0 L136.5,186.7 L138.9,186.1 L141.2,186.4 L143.6,185.9 L146.0,185.7 L148.4,184.1 L150.7,183.6 L153.1,182.5 L155.5,182.0 L157.8,179.3 L160.2,178.0 L162.6,177.2 L164.9,175.1 L167.3,175.3 L169.7,173.4 L172.1,173.3 L174.4,171.0 L176.8,172.5 L179.2,171.6 L181.5,171.0 L183.9,169.9 L186.3,169.2 L188.6,168.5 L191.0,167.6 L193.4,165.2 L195.8,164.4 L198.1,161.8 L200.5,158.6 L202.9,155.4 L205.2,150.6 L207.6,144.5 L210.0,138.0 L212.3,131.1 L214.7,123.4 L217.1,115.7 L219.5,109.8 L221.8,104.5 L224.2,101.5 L226.6,100.5 L228.9,100.9 L231.3,103.8 L233.7,107.8 L236.0,112.9 L238.4,117.7 L240.8,122.1 L243.2,125.4 L245.5,127.4 L247.9,127.5 L250.3,125.7 L252.6,123.3 L255.0,119.4 L257.4,115.5 L259.7,112.2 L262.1,110.2 L264.5,109.9 L266.9,111.7 L269.2,116.5 L271.6,123.5 L274.0,131.6 L276.3,141.9 L278.7,151.2 L281.1,160.5 L283.4,169.0 L285.8,175.1 L288.2,179.9 L290.6,182.7 L292.9,185.1 L295.3,187.0 L297.7,188.1 L300.0,188.8 L302.4,188.4 L304.8,189.0 L307.1,188.6 L309.5,188.6 L311.9,188.4 L314.3,188.2 L316.6,188.5 L319.0,188.4 L321.4,188.6 L323.7,188.2 L326.1,188.3 L328.5,188.0 L330.8,188.1 L333.2,188.9 L335.6,189.1 L335.6,189.5" fill="#fff" stroke="#f64a5e" stroke-width="0.72"/>
<path d="M100.0,191.3 L100.0,188.8 L102.4,188.6 L104.8,189.3 L107.2,188.4 L109.5,189.0 L111.9,189.0 L114.3,188.9 L116.6,189.5 L119.0,189.6 L121.4,189.1 L123.7,189.4 L126.1,189.0 L128.5,189.0 L130.9,189.9 L133.2,189.2 L135.6,188.5 L138.0,189.5 L140.3,188.5 L142.7,188.5 L145.1,188.3 L147.4,186.5 L149.8,185.7 L152.2,185.2 L154.6,184.1 L156.9,182.1 L159.3,180.7 L161.7,179.8 L164.0,178.0 L166.4,177.0 L168.8,176.0 L171.1,174.7 L173.5,174.3 L175.9,173.4 L178.3,173.3 L180.6,173.1 L183.0,172.8 L185.4,171.9 L187.7,171.2 L190.1,170.6 L192.5,170.0 L194.8,168.0 L197.2,166.7 L199.6,164.1 L202.0,160.8 L204.3,156.5 L206.7,151.5 L209.1,145.5 L211.4,138.4 L213.8,130.9 L216.2,123.3 L218.5,115.6 L220.9,109.2 L223.3,104.1 L225.7,101.0 L228.0,100.3 L230.4,101.8 L232.8,104.6 L235.1,109.2 L237.5,114.3 L239.9,119.6 L242.2,124.4 L244.6,127.8 L247.0,129.1 L249.4,129.1 L251.7,127.5 L254.1,124.5 L256.5,120.2 L258.8,116.6 L261.2,113.4 L263.6,111.4 L265.9,111.7 L268.3,114.0 L270.7,118.9 L273.1,126.0 L275.4,134.8 L277.8,144.6 L280.2,154.1 L282.5,163.0 L284.9,171.4 L287.3,177.5 L289.6,182.3 L292.0,184.9 L294.4,187.4 L296.8,188.3 L299.1,189.8 L301.5,189.6 L303.9,190.3 L306.2,190.4 L308.6,190.1 L311.0,190.4 L313.3,190.5 L315.7,190.0 L318.1,190.3 L320.5,189.8 L322.8,189.4 L325.2,190.5 L327.6,190.4 L329.9,190.9 L332.3,190.8 L334.7,190.1 L337.0,190.2 L337.0,191.3" fill="#fff" stroke="#3a3a3a" stroke-width="0.72"/>
<path d="M101.5,193.1 L101.5,190.8 L103.9,190.7 L106.2,191.2 L108.6,191.5 L111.0,190.5 L113.4,190.8 L115.7,190.4 L118.1,190.9 L120.5,190.6 L122.8,191.1 L125.2,190.8 L127.6,190.9 L129.9,190.7 L132.3,190.2 L134.7,190.4 L137.1,191.7 L139.4,190.4 L141.8,190.1 L144.2,189.5 L146.5,189.2 L148.9,188.9 L151.3,188.0 L153.6,186.9 L156.0,185.8 L158.4,183.6 L160.8,182.5 L163.1,181.2 L165.5,179.5 L167.9,177.7 L170.2,177.5 L172.6,176.5 L175.0,175.9 L177.3,175.8 L179.7,175.2 L182.1,175.1 L184.5,174.3 L186.8,173.9 L189.2,173.2 L191.6,173.1 L193.9,171.4 L196.3,170.7 L198.7,168.5 L201.0,165.7 L203.4,162.4 L205.8,158.2 L208.2,152.8 L210.5,146.7 L212.9,139.7 L215.3,131.9 L217.6,124.0 L220.0,116.2 L222.4,109.9 L224.7,104.9 L227.1,102.1 L229.5,101.5 L231.9,102.2 L234.2,105.8 L236.6,111.1 L239.0,116.0 L241.3,121.6 L243.7,126.6 L246.1,129.6 L248.4,131.3 L250.8,131.2 L253.2,129.3 L255.6,126.7 L257.9,122.7 L260.3,118.8 L262.7,115.8 L265.0,114.2 L267.4,114.6 L269.8,117.0 L272.1,122.6 L274.5,129.8 L276.9,137.9 L279.3,147.7 L281.6,157.1 L284.0,166.0 L286.4,173.7 L288.7,179.8 L291.1,184.0 L293.5,187.4 L295.8,189.3 L298.2,190.5 L300.6,190.9 L303.0,191.3 L305.3,191.2 L307.7,192.2 L310.1,192.0 L312.4,191.7 L314.8,191.9 L317.2,192.9 L319.5,191.9 L321.9,192.0 L324.3,192.2 L326.7,192.2 L329.0,192.3 L331.4,191.6 L333.8,191.8 L336.1,192.0 L338.5,191.6 L338.5,193.1" fill="#fff" stroke="#3a3a3a" stroke-width="0.72"/>
<path d="M103.0,194.8 L103.0,192.3 L105.3,193.0 L107.7,193.1 L110.1,193.1 L112.5,192.4 L114.8,192.7 L117.2,192.2 L119.6,192.5 L121.9,192.8 L124.3,193.1 L126.7,192.8 L129.0,191.8 L131.4,192.9 L133.8,192.9 L136.2,192.6 L138.5,191.9 L140.9,192.2 L143.3,192.3 L145.6,191.7 L148.0,191.0 L150.4,190.3 L152.7,189.1 L155.1,187.4 L157.5,186.6 L159.9,185.5 L162.2,184.3 L164.6,183.1 L167.0,181.2 L169.3,179.6 L171.7,178.7 L174.1,178.2 L176.4,177.2 L178.8,177.1 L181.2,176.8 L183.6,176.6 L185.9,176.3 L188.3,176.1 L190.7,175.2 L193.0,174.9 L195.4,174.0 L197.8,172.1 L200.1,170.4 L202.5,167.8 L204.9,164.8 L207.3,160.1 L209.6,154.9 L212.0,148.6 L214.4,141.1 L216.7,133.3 L219.1,125.2 L221.5,117.4 L223.8,110.6 L226.2,106.2 L228.6,103.0 L231.0,102.6 L233.3,103.8 L235.7,107.6 L238.1,112.3 L240.4,117.7 L242.8,123.6 L245.2,128.2 L247.5,131.9 L249.9,133.5 L252.3,133.3 L254.7,131.8 L257.0,128.7 L259.4,125.3 L261.8,121.8 L264.1,118.9 L266.5,117.6 L268.9,118.2 L271.2,121.1 L273.6,126.0 L276.0,133.0 L278.4,142.0 L280.7,151.2 L283.1,160.8 L285.5,169.1 L287.8,176.1 L290.2,182.4 L292.6,186.0 L294.9,189.3 L297.3,191.0 L299.7,192.6 L302.1,193.6 L304.4,193.4 L306.8,193.4 L309.2,193.9 L311.5,193.6 L313.9,194.1 L316.3,193.9 L318.6,193.4 L321.0,193.8 L323.4,194.2 L325.8,193.6 L328.1,193.8 L330.5,194.0 L332.9,193.6 L335.2,194.9 L337.6,193.6 L340.0,193.1 L340.0,194.8" fill="#fff" stroke="#3a3a3a" stroke-width="0.72"/>
<path d="M104.4,196.6 L104.4,194.5 L106.8,195.3 L109.2,194.1 L111.5,193.7 L113.9,194.4 L116.3,195.0 L118.7,194.8 L121.0,194.6 L123.4,194.5 L125.8,194.2 L128.1,194.4 L130.5,195.4 L132.9,194.6 L135.2,194.5 L137.6,193.7 L140.0,194.5 L142.4,194.6 L144.7,193.9 L147.1,193.3 L149.5,193.5 L151.8,191.7 L154.2,191.3 L156.6,189.8 L158.9,188.6 L161.3,187.3 L163.7,185.5 L166.1,183.9 L168.4,183.3 L170.8,181.8 L173.2,180.3 L175.5,179.8 L177.9,179.5 L180.3,178.8 L182.6,179.0 L185.0,178.7 L187.4,179.6 L189.8,178.1 L192.1,177.1 L194.5,176.9 L196.9,175.9 L199.2,174.7 L201.6,173.1 L204.0,170.1 L206.3,166.7 L208.7,162.3 L211.1,156.7 L213.5,150.2 L215.8,142.5 L218.2,134.3 L220.6,126.0 L222.9,118.5 L225.3,111.8 L227.7,107.0 L230.0,104.7 L232.4,104.2 L234.8,105.6 L237.2,109.3 L239.5,113.9 L241.9,119.9 L244.3,125.3 L246.6,130.1 L249.0,133.7 L251.4,135.5 L253.7,135.5 L256.1,134.0 L258.5,131.4 L260.9,127.8 L263.2,124.4 L265.6,121.9 L268.0,120.8 L270.3,121.5 L272.7,124.4 L275.1,129.6 L277.4,136.6 L279.8,144.5 L282.2,154.0 L284.6,163.2 L286.9,171.3 L289.3,178.3 L291.7,183.6 L294.0,187.7 L296.4,191.4 L298.8,192.1 L301.1,194.4 L303.5,194.8 L305.9,195.5 L308.3,196.0 L310.6,196.1 L313.0,194.8 L315.4,195.0 L317.7,195.9 L320.1,195.9 L322.5,195.0 L324.8,195.9 L327.2,195.4 L329.6,194.8 L332.0,195.3 L334.3,195.0 L336.7,195.5 L339.1,196.2 L341.4,195.8 L341.4,196.6" fill="#fff" stroke="#3a3a3a" stroke-width="0.72"/>
<path d="M105.9,198.4 L105.9,197.1 L108.3,196.3 L110.6,196.9 L113.0,196.4 L115.4,196.6 L117.7,196.7 L120.1,196.2 L122.5,196.6 L124.9,196.7 L127.2,196.1 L129.6,196.4 L132.0,196.9 L134.3,195.9 L136.7,196.8 L139.1,196.1 L141.4,195.9 L143.8,196.0 L146.2,195.9 L148.6,195.3 L150.9,194.7 L153.3,194.3 L155.7,192.7 L158.0,192.1 L160.4,190.9 L162.8,188.7 L165.1,188.0 L167.5,186.8 L169.9,184.8 L172.3,183.5 L174.6,182.4 L177.0,180.8 L179.4,181.2 L181.7,180.1 L184.1,180.1 L186.5,179.8 L188.8,180.4 L191.2,180.3 L193.6,179.9 L196.0,179.2 L198.3,178.0 L200.7,176.4 L203.1,175.7 L205.4,172.2 L207.8,168.7 L210.2,164.2 L212.5,158.7 L214.9,151.7 L217.3,144.4 L219.7,135.6 L222.0,127.7 L224.4,119.7 L226.8,113.1 L229.1,108.0 L231.5,105.6 L233.9,104.8 L236.2,106.6 L238.6,110.1 L241.0,115.4 L243.4,121.2 L245.7,127.2 L248.1,131.8 L250.5,135.1 L252.8,137.5 L255.2,137.8 L257.6,136.4 L259.9,133.6 L262.3,130.9 L264.7,127.1 L267.1,124.9 L269.4,123.8 L271.8,124.8 L274.2,127.4 L276.5,133.0 L278.9,139.7 L281.3,148.1 L283.6,157.3 L286.0,165.9 L288.4,173.6 L290.8,180.8 L293.1,186.3 L295.5,190.1 L297.9,193.3 L300.2,195.2 L302.6,195.9 L305.0,196.9 L307.3,196.7 L309.7,196.8 L312.1,196.7 L314.5,196.9 L316.8,197.3 L319.2,197.1 L321.6,197.7 L323.9,197.1 L326.3,197.5 L328.7,196.8 L331.0,197.5 L333.4,197.2 L335.8,197.6 L338.2,197.0 L340.5,197.0 L342.9,197.6 L342.9,198.4" fill="#fff" stroke="#f64a5e" stroke-width="0.72"/>
<path d="M107.4,200.2 L107.4,197.5 L109.7,198.1 L112.1,198.8 L114.5,198.6 L116.8,199.0 L119.2,199.0 L121.6,198.3 L123.9,199.1 L126.3,198.1 L128.7,198.9 L131.1,198.4 L133.4,197.6 L135.8,198.3 L138.2,198.2 L140.5,197.6 L142.9,198.0 L145.3,197.5 L147.6,197.7 L150.0,197.1 L152.4,196.4 L154.8,195.7 L157.1,195.0 L159.5,193.5 L161.9,192.1 L164.2,190.6 L166.6,189.4 L169.0,188.2 L171.3,186.2 L173.7,184.8 L176.1,184.4 L178.5,184.1 L180.8,182.8 L183.2,182.0 L185.6,182.0 L187.9,182.7 L190.3,181.8 L192.7,182.5 L195.0,181.6 L197.4,181.6 L199.8,180.2 L202.2,179.0 L204.5,177.3 L206.9,174.4 L209.3,171.0 L211.6,166.3 L214.0,160.4 L216.4,153.6 L218.7,145.4 L221.1,137.0 L223.5,128.7 L225.9,121.0 L228.2,114.0 L230.6,109.1 L233.0,106.3 L235.3,106.0 L237.7,107.9 L240.1,111.3 L242.4,116.8 L244.8,122.6 L247.2,128.7 L249.6,133.5 L251.9,137.3 L254.3,139.5 L256.7,139.7 L259.0,138.8 L261.4,136.2 L263.8,133.4 L266.1,130.5 L268.5,128.5 L270.9,127.2 L273.3,128.1 L275.6,131.4 L278.0,136.3 L280.4,143.4 L282.7,151.2 L285.1,160.1 L287.5,168.3 L289.8,176.3 L292.2,182.6 L294.6,188.4 L297.0,192.7 L299.3,194.8 L301.7,196.8 L304.1,197.0 L306.4,198.2 L308.8,198.1 L311.2,198.6 L313.5,199.1 L315.9,199.5 L318.3,199.1 L320.7,198.8 L323.0,199.0 L325.4,198.9 L327.8,198.9 L330.1,199.5 L332.5,198.9 L334.9,199.3 L337.2,199.0 L339.6,198.5 L342.0,199.8 L344.4,199.1 L344.4,200.2" fill="#fff" stroke="#3a3a3a" stroke-width="0.72"/>
<path d="M108.8,202.0 L108.8,200.1 L111.2,199.8 L113.6,200.2 L115.9,200.5 L118.3,199.9 L120.7,200.0 L123.0,200.8 L125.4,200.2 L127.8,200.8 L130.1,201.2 L132.5,200.5 L134.9,200.5 L137.3,200.9 L139.6,199.3 L142.0,200.4 L144.4,199.7 L146.7,199.3 L149.1,198.4 L151.5,198.9 L153.8,197.6 L156.2,197.9 L158.6,196.5 L161.0,195.5 L163.3,194.4 L165.7,192.5 L168.1,190.4 L170.4,188.7 L172.8,187.8 L175.2,187.2 L177.5,186.1 L179.9,184.7 L182.3,184.2 L184.7,184.0 L187.0,184.2 L189.4,184.5 L191.8,184.1 L194.1,184.2 L196.5,183.5 L198.9,183.8 L201.2,182.4 L203.6,180.9 L206.0,178.7 L208.4,176.3 L210.7,173.1 L213.1,168.4 L215.5,162.1 L217.8,155.3 L220.2,147.6 L222.6,138.2 L224.9,129.8 L227.3,121.7 L229.7,115.0 L232.1,109.8 L234.4,107.2 L236.8,106.9 L239.2,108.4 L241.5,112.9 L243.9,117.7 L246.3,124.1 L248.6,129.4 L251.0,135.0 L253.4,139.2 L255.8,141.6 L258.1,141.9 L260.5,140.6 L262.9,138.7 L265.2,136.4 L267.6,133.7 L270.0,130.7 L272.3,130.6 L274.7,131.8 L277.1,134.5 L279.5,139.4 L281.8,145.9 L284.2,154.2 L286.6,162.7 L288.9,170.8 L291.3,178.8 L293.7,184.8 L296.0,190.0 L298.4,193.5 L300.8,196.8 L303.2,198.5 L305.5,199.2 L307.9,199.8 L310.3,200.8 L312.6,200.8 L315.0,200.5 L317.4,200.7 L319.7,199.7 L322.1,200.3 L324.5,200.1 L326.9,200.6 L329.2,200.6 L331.6,200.6 L334.0,200.2 L336.3,200.7 L338.7,200.0 L341.1,200.9 L343.4,200.2 L345.8,200.5 L345.8,202.0" fill="#fff" stroke="#3a3a3a" stroke-width="0.72"/>
<path d="M110.3,203.7 L110.3,202.1 L112.6,201.4 L115.0,201.6 L117.4,202.1 L119.8,202.3 L122.1,201.7 L124.5,202.3 L126.9,201.8 L129.2,202.3 L131.6,201.9 L134.0,202.3 L136.3,202.0 L138.7,201.3 L141.1,201.2 L143.5,201.9 L145.8,201.7 L148.2,202.0 L150.6,200.9 L152.9,200.2 L155.3,200.3 L157.7,199.6 L160.0,198.1 L162.4,197.3 L164.8,195.7 L167.2,193.7 L169.5,192.6 L171.9,191.0 L174.3,189.0 L176.6,188.4 L179.0,187.2 L181.4,186.6 L183.7,186.5 L186.1,185.4 L188.5,186.5 L190.9,186.0 L193.2,186.6 L195.6,186.6 L198.0,186.6 L200.3,185.8 L202.7,184.7 L205.1,183.1 L207.4,182.3 L209.8,178.7 L212.2,175.1 L214.6,170.2 L216.9,164.0 L219.3,156.7 L221.7,148.5 L224.0,139.8 L226.4,130.6 L228.8,122.8 L231.1,115.9 L233.5,111.1 L235.9,107.9 L238.3,107.8 L240.6,109.7 L243.0,113.7 L245.4,118.9 L247.7,125.2 L250.1,131.3 L252.5,136.7 L254.8,140.6 L257.2,143.1 L259.6,143.8 L262.0,142.9 L264.3,140.9 L266.7,138.9 L269.1,136.4 L271.4,134.2 L273.8,134.0 L276.2,134.6 L278.5,137.7 L280.9,143.0 L283.3,149.2 L285.7,156.8 L288.0,165.2 L290.4,173.4 L292.8,180.7 L295.1,186.7 L297.5,192.2 L299.9,195.4 L302.2,198.3 L304.6,200.1 L307.0,201.3 L309.4,201.3 L311.7,202.2 L314.1,201.9 L316.5,202.8 L318.8,202.2 L321.2,202.1 L323.6,202.0 L325.9,201.8 L328.3,202.0 L330.7,202.0 L333.1,202.3 L335.4,202.6 L337.8,202.6 L340.2,202.5 L342.5,202.1 L344.9,201.8 L347.3,202.1 L347.3,203.7" fill="#fff" stroke="#3a3a3a" stroke-width="0.72"/>
<path d="M111.7,205.5 L111.7,203.8 L114.1,203.5 L116.5,204.0 L118.8,203.8 L121.2,203.9 L123.6,203.7 L126.0,203.9 L128.3,204.3 L130.7,204.0 L133.1,204.1 L135.4,203.1 L137.8,203.2 L140.2,204.0 L142.5,204.0 L144.9,203.6 L147.3,204.0 L149.7,202.7 L152.0,202.9 L154.4,202.6 L156.8,201.4 L159.1,200.5 L161.5,199.9 L163.9,198.4 L166.2,198.1 L168.6,196.3 L171.0,194.7 L173.4,193.5 L175.7,191.1 L178.1,189.2 L180.5,189.6 L182.8,188.6 L185.2,187.5 L187.6,187.9 L189.9,187.8 L192.3,188.3 L194.7,188.0 L197.1,188.6 L199.4,187.9 L201.8,187.7 L204.2,186.9 L206.5,186.1 L208.9,183.8 L211.3,180.7 L213.6,177.2 L216.0,172.1 L218.4,166.1 L220.8,158.4 L223.1,149.9 L225.5,140.8 L227.9,132.3 L230.2,124.1 L232.6,116.5 L235.0,111.4 L237.3,109.0 L239.7,108.5 L242.1,110.8 L244.5,114.4 L246.8,119.6 L249.2,125.9 L251.6,132.5 L253.9,137.8 L256.3,142.3 L258.7,144.8 L261.0,146.0 L263.4,145.3 L265.8,143.5 L268.2,141.4 L270.5,139.1 L272.9,137.4 L275.3,136.9 L277.6,138.3 L280.0,141.2 L282.4,146.1 L284.7,152.2 L287.1,159.9 L289.5,167.8 L291.9,175.8 L294.2,183.4 L296.6,189.0 L299.0,193.6 L301.3,197.4 L303.7,200.0 L306.1,201.6 L308.4,202.3 L310.8,202.9 L313.2,203.4 L315.6,204.0 L317.9,203.9 L320.3,202.4 L322.7,203.8 L325.0,203.5 L327.4,203.6 L329.8,204.3 L332.1,203.3 L334.5,203.7 L336.9,204.1 L339.3,203.5 L341.6,204.0 L344.0,203.6 L346.4,204.3 L348.7,203.8 L348.7,205.5" fill="#fff" stroke="#3a3a3a" stroke-width="0.72"/>
<path d="M113.2,207.3 L113.2,205.4 L115.6,205.9 L117.9,206.2 L120.3,206.0 L122.7,205.4 L125.0,206.3 L127.4,206.2 L129.8,205.4 L132.2,205.6 L134.5,205.7 L136.9,205.8 L139.3,205.5 L141.6,205.3 L144.0,205.4 L146.4,206.1 L148.7,205.0 L151.1,205.6 L153.5,204.0 L155.9,204.4 L158.2,203.3 L160.6,202.6 L163.0,202.0 L165.3,200.1 L167.7,199.1 L170.1,196.9 L172.4,195.9 L174.8,194.4 L177.2,192.1 L179.6,191.3 L181.9,190.8 L184.3,190.4 L186.7,188.9 L189.0,189.1 L191.4,189.2 L193.8,190.0 L196.1,190.3 L198.5,190.6 L200.9,189.9 L203.3,190.0 L205.6,189.0 L208.0,188.8 L210.4,185.5 L212.7,183.3 L215.1,179.5 L217.5,174.1 L219.8,167.3 L222.2,159.5 L224.6,151.8 L227.0,142.4 L229.3,133.0 L231.7,124.9 L234.1,117.6 L236.4,112.5 L238.8,109.4 L241.2,109.4 L243.5,111.2 L245.9,115.3 L248.3,120.7 L250.7,127.1 L253.0,133.2 L255.4,139.1 L257.8,143.3 L260.1,147.0 L262.5,148.0 L264.9,147.5 L267.2,146.2 L269.6,144.7 L272.0,142.0 L274.4,140.7 L276.7,139.8 L279.1,141.5 L281.5,144.4 L283.8,149.5 L286.2,155.4 L288.6,163.4 L290.9,170.7 L293.3,178.2 L295.7,185.6 L298.1,190.5 L300.4,195.5 L302.8,198.4 L305.2,202.0 L307.5,203.4 L309.9,203.8 L312.3,204.8 L314.6,204.7 L317.0,204.9 L319.4,205.5 L321.8,205.2 L324.1,205.1 L326.5,205.2 L328.9,205.4 L331.2,205.5 L333.6,205.4 L336.0,204.9 L338.3,204.5 L340.7,205.8 L343.1,205.7 L345.5,205.3 L347.8,204.7 L350.2,205.6 L350.2,207.3" fill="#fff" stroke="#f64a5e" stroke-width="0.72"/>
<path d="M114.7,209.1 L114.7,206.6 L117.0,206.7 L119.4,208.4 L121.8,207.3 L124.1,207.3 L126.5,207.7 L128.9,208.2 L131.2,207.4 L133.6,207.7 L136.0,207.0 L138.4,207.3 L140.7,207.8 L143.1,206.7 L145.5,206.6 L147.8,206.7 L150.2,207.0 L152.6,206.5 L154.9,206.4 L157.3,206.2 L159.7,206.0 L162.1,204.4 L164.4,204.2 L166.8,202.0 L169.2,201.4 L171.5,199.3 L173.9,197.9 L176.3,196.6 L178.6,195.1 L181.0,193.7 L183.4,191.9 L185.8,191.6 L188.1,191.5 L190.5,191.0 L192.9,191.9 L195.2,192.3 L197.6,192.4 L200.0,191.9 L202.3,192.5 L204.7,192.1 L207.1,191.4 L209.5,190.3 L211.8,187.6 L214.2,184.8 L216.6,181.2 L218.9,175.9 L221.3,169.1 L223.7,161.5 L226.0,152.5 L228.4,143.1 L230.8,134.0 L233.2,125.4 L235.5,118.3 L237.9,113.1 L240.3,110.2 L242.6,109.4 L245.0,111.8 L247.4,115.8 L249.7,121.5 L252.1,127.9 L254.5,134.6 L256.9,140.8 L259.2,144.7 L261.6,148.6 L264.0,149.7 L266.3,150.1 L268.7,148.6 L271.1,147.1 L273.4,144.7 L275.8,143.6 L278.2,143.9 L280.6,144.5 L282.9,148.2 L285.3,152.6 L287.7,158.4 L290.0,165.7 L292.4,172.9 L294.8,180.4 L297.1,187.4 L299.5,192.3 L301.9,197.3 L304.3,200.9 L306.6,202.7 L309.0,204.7 L311.4,206.1 L313.7,206.5 L316.1,205.5 L318.5,205.8 L320.8,207.3 L323.2,206.4 L325.6,206.3 L328.0,206.9 L330.3,206.5 L332.7,207.2 L335.1,206.9 L337.4,206.4 L339.8,206.8 L342.2,206.8 L344.5,206.9 L346.9,207.3 L349.3,207.2 L351.7,207.0 L351.7,209.1" fill="#fff" stroke="#3a3a3a" stroke-width="0.72"/>
<path d="M116.1,210.9 L116.1,209.4 L118.5,209.7 L120.9,208.6 L123.2,210.1 L125.6,209.8 L128.0,209.6 L130.3,209.2 L132.7,209.9 L135.1,209.3 L137.4,209.7 L139.8,209.7 L142.2,209.2 L144.6,209.0 L146.9,208.8 L149.3,209.5 L151.7,208.5 L154.0,208.2 L156.4,208.2 L158.8,207.6 L161.1,207.1 L163.5,206.3 L165.9,204.9 L168.3,203.3 L170.6,202.7 L173.0,200.9 L175.4,199.1 L177.7,198.4 L180.1,195.8 L182.5,195.0 L184.8,193.6 L187.2,193.6 L189.6,193.5 L192.0,193.2 L194.3,193.2 L196.7,194.0 L199.1,193.7 L201.4,194.3 L203.8,194.9 L206.2,194.1 L208.5,193.7 L210.9,192.3 L213.3,190.4 L215.7,187.5 L218.0,183.2 L220.4,177.5 L222.8,170.7 L225.1,162.7 L227.5,154.0 L229.9,144.2 L232.2,134.7 L234.6,126.4 L237.0,118.7 L239.4,113.0 L241.7,110.6 L244.1,110.2 L246.5,112.2 L248.8,116.5 L251.2,122.0 L253.6,128.8 L255.9,135.6 L258.3,141.8 L260.7,146.5 L263.1,150.0 L265.4,151.9 L267.8,152.1 L270.2,150.8 L272.5,149.6 L274.9,147.9 L277.3,146.6 L279.6,146.8 L282.0,148.0 L284.4,151.4 L286.8,155.6 L289.1,162.1 L291.5,168.4 L293.9,175.8 L296.2,182.9 L298.6,188.8 L301.0,194.4 L303.3,198.7 L305.7,201.7 L308.1,204.4 L310.5,205.9 L312.8,207.1 L315.2,206.9 L317.6,207.6 L319.9,208.4 L322.3,208.5 L324.7,208.5 L327.0,208.5 L329.4,207.7 L331.8,208.1 L334.2,207.8 L336.5,208.5 L338.9,208.5 L341.3,207.8 L343.6,209.0 L346.0,208.7 L348.4,209.1 L350.7,208.5 L353.1,207.2 L353.1,210.9" fill="#fff" stroke="#3a3a3a" stroke-width="0.72"/>
<path d="M117.6,212.6 L117.6,211.5 L119.9,210.8 L122.3,210.6 L124.7,211.5 L127.1,211.5 L129.4,211.1 L131.8,210.9 L134.2,211.8 L136.5,211.5 L138.9,210.5 L141.3,211.5 L143.6,211.0 L146.0,210.7 L148.4,211.1 L150.8,211.0 L153.1,210.9 L155.5,210.7 L157.9,210.3 L160.2,210.2 L162.6,209.1 L165.0,208.1 L167.3,206.7 L169.7,205.9 L172.1,204.5 L174.5,202.0 L176.8,201.1 L179.2,199.7 L181.6,198.3 L183.9,196.9 L186.3,196.2 L188.7,195.4 L191.0,195.2 L193.4,195.4 L195.8,195.3 L198.2,196.1 L200.5,195.4 L202.9,196.9 L205.3,195.9 L207.6,196.3 L210.0,195.5 L212.4,194.0 L214.7,193.0 L217.1,188.6 L219.5,184.9 L221.9,179.4 L224.2,172.6 L226.6,164.1 L229.0,155.4 L231.3,145.0 L233.7,135.8 L236.1,126.7 L238.4,119.3 L240.8,114.0 L243.2,111.0 L245.6,110.7 L247.9,112.4 L250.3,116.9 L252.7,122.7 L255.0,129.5 L257.4,136.4 L259.8,142.7 L262.1,147.7 L264.5,151.8 L266.9,153.9 L269.3,154.2 L271.6,153.7 L274.0,152.3 L276.4,150.7 L278.7,149.8 L281.1,150.0 L283.5,151.7 L285.8,154.4 L288.2,158.9 L290.6,164.5 L293.0,171.3 L295.3,178.3 L297.7,185.0 L300.1,191.5 L302.4,196.9 L304.8,200.7 L307.2,203.9 L309.5,205.8 L311.9,207.6 L314.3,209.0 L316.7,208.6 L319.0,208.8 L321.4,210.0 L323.8,209.8 L326.1,209.3 L328.5,209.6 L330.9,210.2 L333.2,209.2 L335.6,209.6 L338.0,209.5 L340.4,209.2 L342.7,209.9 L345.1,209.9 L347.5,209.4 L349.8,209.3 L352.2,209.6 L354.6,209.2 L354.6,212.6" fill="#fff" stroke="#3a3a3a" stroke-width="0.72"/>
<path d="M119.0,214.4 L119.0,212.8 L121.4,212.6 L123.8,213.3 L126.1,213.1 L128.5,212.6 L130.9,213.3 L133.3,213.3 L135.6,213.0 L138.0,213.1 L140.4,213.3 L142.7,213.6 L145.1,212.4 L147.5,212.9 L149.8,212.3 L152.2,213.0 L154.6,212.5 L157.0,212.3 L159.3,211.8 L161.7,211.9 L164.1,210.2 L166.4,209.9 L168.8,208.6 L171.2,207.8 L173.5,205.4 L175.9,205.0 L178.3,202.1 L180.7,201.4 L183.0,199.9 L185.4,198.8 L187.8,197.0 L190.1,197.3 L192.5,197.0 L194.9,197.0 L197.2,196.8 L199.6,197.3 L202.0,198.3 L204.4,198.2 L206.7,198.1 L209.1,198.3 L211.5,197.8 L213.8,197.1 L216.2,194.0 L218.6,191.1 L220.9,187.2 L223.3,181.3 L225.7,174.6 L228.1,165.6 L230.4,156.5 L232.8,146.5 L235.2,136.3 L237.5,127.8 L239.9,119.7 L242.3,114.4 L244.6,111.5 L247.0,110.6 L249.4,113.0 L251.8,117.6 L254.1,123.3 L256.5,130.5 L258.9,137.6 L261.2,144.0 L263.6,149.2 L266.0,153.6 L268.3,155.9 L270.7,156.2 L273.1,156.4 L275.5,155.1 L277.8,154.0 L280.2,153.5 L282.6,153.6 L284.9,154.9 L287.3,157.9 L289.7,162.1 L292.0,167.7 L294.4,173.9 L296.8,180.8 L299.2,187.5 L301.5,193.1 L303.9,198.3 L306.3,202.2 L308.6,205.6 L311.0,207.8 L313.4,209.2 L315.7,210.6 L318.1,210.4 L320.5,211.1 L322.9,211.3 L325.2,211.2 L327.6,210.3 L330.0,211.4 L332.3,210.6 L334.7,211.9 L337.1,211.2 L339.4,210.4 L341.8,211.1 L344.2,211.0 L346.6,211.3 L348.9,211.9 L351.3,210.9 L353.7,210.8 L356.0,210.7 L356.0,214.4" fill="#fff" stroke="#3a3a3a" stroke-width="0.72"/>
<path d="M120.5,216.2 L120.5,214.1 L122.9,214.9 L125.2,214.7 L127.6,215.7 L130.0,215.0 L132.3,214.8 L134.7,214.4 L137.1,214.2 L139.5,214.2 L141.8,214.7 L144.2,214.9 L146.6,214.8 L148.9,214.7 L151.3,214.6 L153.7,214.1 L156.1,214.4 L158.4,214.7 L160.8,214.1 L163.2,212.0 L165.5,211.9 L167.9,211.7 L170.3,210.5 L172.6,208.9 L175.0,207.6 L177.4,206.0 L179.8,205.2 L182.1,203.4 L184.5,201.4 L186.9,199.9 L189.2,199.1 L191.6,198.0 L194.0,198.4 L196.3,198.4 L198.7,198.8 L201.1,199.0 L203.4,200.2 L205.8,199.7 L208.2,201.2 L210.6,200.4 L212.9,199.9 L215.3,198.3 L217.7,197.1 L220.0,193.8 L222.4,188.9 L224.8,182.8 L227.1,175.5 L229.5,167.6 L231.9,157.6 L234.3,147.3 L236.6,137.3 L239.0,128.0 L241.4,120.4 L243.7,114.7 L246.1,111.9 L248.5,111.0 L250.8,113.8 L253.2,117.8 L255.6,124.1 L258.0,130.9 L260.3,138.5 L262.7,144.9 L265.1,150.6 L267.4,154.8 L269.8,157.3 L272.2,158.4 L274.5,158.6 L276.9,157.6 L279.3,156.8 L281.7,156.2 L284.0,156.7 L286.4,158.8 L288.8,161.2 L291.1,165.4 L293.5,170.9 L295.9,177.1 L298.2,183.4 L300.6,189.8 L303.0,195.2 L305.4,199.8 L307.7,204.2 L310.1,206.8 L312.5,209.7 L314.8,211.0 L317.2,211.6 L319.6,212.4 L321.9,212.3 L324.3,212.4 L326.7,211.9 L329.1,212.8 L331.4,212.1 L333.8,213.0 L336.2,212.7 L338.5,212.2 L340.9,212.4 L343.3,213.5 L345.6,212.6 L348.0,212.4 L350.4,213.1 L352.8,212.7 L355.1,212.7 L357.5,212.4 L357.5,216.2" fill="#fff" stroke="#3a3a3a" stroke-width="0.72"/>
<line x1="308" y1="157.5" x2="357.8" y2="216.3" stroke="#000" stroke-width="1"/>
<line x1="46" y1="25.6" x2="46" y2="125.5" stroke="#777" stroke-width="1"/>
<line x1="46" y1="125.4" x2="120.6" y2="216.3" stroke="#000" stroke-width="1.2"/>
<line x1="120.5" y1="216.3" x2="357.8" y2="216.3" stroke="#000" stroke-width="1.2"/>
<line x1="120.5" y1="216.3" x2="120.5" y2="222.5" stroke="#000" stroke-width="1.1"/>
<text x="120.5" y="242.2" font-size="18" text-anchor="middle">292</text>
<line x1="130.0" y1="216.3" x2="130.0" y2="220.3" stroke="#000" stroke-width="1.1"/>
<line x1="139.5" y1="216.3" x2="139.5" y2="220.3" stroke="#000" stroke-width="1.1"/>
<line x1="148.9" y1="216.3" x2="148.9" y2="220.3" stroke="#000" stroke-width="1.1"/>
<line x1="158.4" y1="216.3" x2="158.4" y2="220.3" stroke="#000" stroke-width="1.1"/>
<line x1="167.9" y1="216.3" x2="167.9" y2="222.5" stroke="#000" stroke-width="1.1"/>
<text x="167.9" y="242.2" font-size="18" text-anchor="middle">290</text>
<line x1="177.4" y1="216.3" x2="177.4" y2="220.3" stroke="#000" stroke-width="1.1"/>
<line x1="186.9" y1="216.3" x2="186.9" y2="220.3" stroke="#000" stroke-width="1.1"/>
<line x1="196.3" y1="216.3" x2="196.3" y2="220.3" stroke="#000" stroke-width="1.1"/>
<line x1="205.8" y1="216.3" x2="205.8" y2="220.3" stroke="#000" stroke-width="1.1"/>
<line x1="215.3" y1="216.3" x2="215.3" y2="222.5" stroke="#000" stroke-width="1.1"/>
<text x="215.3" y="242.2" font-size="18" text-anchor="middle">288</text>
<line x1="224.8" y1="216.3" x2="224.8" y2="220.3" stroke="#000" stroke-width="1.1"/>
<line x1="234.3" y1="216.3" x2="234.3" y2="220.3" stroke="#000" stroke-width="1.1"/>
<line x1="243.7" y1="216.3" x2="243.7" y2="220.3" stroke="#000" stroke-width="1.1"/>
<line x1="253.2" y1="216.3" x2="253.2" y2="220.3" stroke="#000" stroke-width="1.1"/>
<line x1="262.7" y1="216.3" x2="262.7" y2="222.5" stroke="#000" stroke-width="1.1"/>
<text x="262.7" y="242.2" font-size="18" text-anchor="middle">286</text>
<line x1="272.2" y1="216.3" x2="272.2" y2="220.3" stroke="#000" stroke-width="1.1"/>
<line x1="281.7" y1="216.3" x2="281.7" y2="220.3" stroke="#000" stroke-width="1.1"/>
<line x1="291.1" y1="216.3" x2="291.1" y2="220.3" stroke="#000" stroke-width="1.1"/>
<line x1="300.6" y1="216.3" x2="300.6" y2="220.3" stroke="#000" stroke-width="1.1"/>
<line x1="310.1" y1="216.3" x2="310.1" y2="222.5" stroke="#000" stroke-width="1.1"/>
<text x="310.1" y="242.2" font-size="18" text-anchor="middle">284</text>
<line x1="319.6" y1="216.3" x2="319.6" y2="220.3" stroke="#000" stroke-width="1.1"/>
<line x1="329.1" y1="216.3" x2="329.1" y2="220.3" stroke="#000" stroke-width="1.1"/>
<line x1="338.5" y1="216.3" x2="338.5" y2="220.3" stroke="#000" stroke-width="1.1"/>
<line x1="348.0" y1="216.3" x2="348.0" y2="220.3" stroke="#000" stroke-width="1.1"/>
<line x1="357.5" y1="216.3" x2="357.5" y2="222.5" stroke="#000" stroke-width="1.1"/>
<text x="357.5" y="242.2" font-size="18" text-anchor="middle">282</text>
<line x1="54.2" y1="143.3" x2="60.7" y2="143.3" stroke="#000" stroke-width="1.1"/>
<text x="50.2" y="149.6" font-size="18" text-anchor="end">150</text>
<line x1="74.1" y1="167.6" x2="80.6" y2="167.6" stroke="#000" stroke-width="1.1"/>
<text x="70.1" y="173.9" font-size="18" text-anchor="end">100</text>
<line x1="94.1" y1="191.9" x2="100.6" y2="191.9" stroke="#000" stroke-width="1.1"/>
<text x="90.1" y="198.2" font-size="18" text-anchor="end">50</text>
<line x1="114.0" y1="216.2" x2="120.5" y2="216.2" stroke="#000" stroke-width="1.1"/>
<text x="110.0" y="222.5" font-size="18" text-anchor="end">0</text>
<text x="222" y="265.1" font-size="18.4" text-anchor="middle"><tspan font-style="italic">Binding energy</tspan> (nm)</text>
<text transform="translate(40.5,59) rotate(-90)" font-size="18.3" text-anchor="middle"><tspan font-style="italic">Intensity</tspan> (a.u.)</text>
<text transform="translate(2,153) rotate(50.8)" font-size="18.4"><tspan font-style="italic">Etch depth</tspan> (nm)</text>
<text x="83" y="26" font-size="26.5" text-anchor="middle">(a)</text>
<polyline points="259.0,394.1 256.5,394.1 254.0,394.1 251.5,394.1 249.0,394.1 246.5,394.1 244.0,394.0 241.5,394.0 239.0,394.0 236.5,394.0 234.0,394.0 231.5,394.0 229.0,394.0 226.5,394.0 224.0,394.0 221.5,394.0 219.0,394.0 216.5,394.0 214.0,394.0 211.5,394.0 209.0,394.0 206.5,394.0 204.0,394.0 201.5,394.0 199.0,394.0 196.5,393.9 194.0,393.9 191.5,393.9 189.0,393.9 186.4,393.8 183.9,393.8 181.4,393.7 178.9,393.6 176.4,393.5 173.9,393.3 171.4,393.1 168.9,392.9 166.4,392.5 163.9,392.1 161.4,391.6 158.9,391.0 156.4,390.3 153.9,389.6 151.4,388.9 148.9,388.1 146.4,387.4 143.9,386.8 141.4,386.4 138.9,386.2 136.4,386.1 133.9,386.3 131.4,386.7 128.9,387.2 126.4,387.9 123.9,388.6 121.4,389.3 118.9,390.1 116.4,390.8 113.9,391.4 111.4,391.9 108.9,392.4 106.4,392.7 103.9,393.0 101.4,393.3 98.9,393.5 96.4,393.6 93.9,393.7 91.4,393.8 88.9,393.8 86.3,393.9 83.8,393.9 81.3,393.9 78.8,393.9 76.3,393.9 73.8,394.0 71.3,394.0 68.8,394.0 66.3,394.0 63.8,394.0 61.3,394.0 58.8,394.0 56.3,394.0 53.8,394.0 51.3,394.0 48.8,394.0 46.3,394.0 43.8,394.0 41.3,394.0 38.8,394.0 36.3,394.0" fill="none" stroke="#2038f8" stroke-width="2.8"/>
<polyline points="297.3,394.1 294.6,394.1 291.8,394.1 289.1,394.1 286.4,394.1 283.6,394.1 280.9,394.1 278.1,394.1 275.4,394.1 272.7,394.1 269.9,394.1 267.2,394.1 264.5,394.1 261.7,394.1 259.0,394.1 256.2,394.1 253.5,394.0 250.8,394.0 248.0,394.0 245.3,394.0 242.6,394.0 239.8,394.0 237.1,394.0 234.3,394.0 231.6,394.0 228.9,394.0 226.1,393.9 223.4,393.9 220.7,393.8 217.9,393.8 215.2,393.7 212.5,393.6 209.7,393.4 207.0,393.3 204.2,393.1 201.5,392.9 198.8,392.7 196.0,392.4 193.3,392.2 190.6,391.9 187.8,391.7 185.1,391.5 182.3,391.3 179.6,391.2 176.9,391.1 174.1,391.1 171.4,391.2 168.7,391.3 165.9,391.5 163.2,391.7 160.4,391.9 157.7,392.2 155.0,392.4 152.2,392.7 149.5,392.9 146.8,393.1 144.0,393.3 141.3,393.4 138.5,393.6 135.8,393.7 133.1,393.8 130.3,393.8 127.6,393.9 124.9,393.9 122.1,394.0 119.4,394.0 116.7,394.0 113.9,394.0 111.2,394.0 108.4,394.0 105.7,394.0 103.0,394.0 100.2,394.0 97.5,394.0 94.8,394.1 92.0,394.1 89.3,394.1 86.5,394.1 83.8,394.1 81.1,394.1 78.3,394.1 75.6,394.1 72.9,394.1 70.1,394.1 67.4,394.1 64.6,394.1 61.9,394.1 59.2,394.1 56.4,394.1 53.7,394.1" fill="none" stroke="#2038f8" stroke-width="2.8"/>
<polyline points="342.2,393.6 339.5,393.6 336.7,393.6 334.0,393.6 331.2,393.6 328.5,393.5 325.8,393.5 323.0,393.5 320.3,393.4 317.6,393.4 314.8,393.4 312.1,393.3 309.3,393.3 306.6,393.2 303.9,393.2 301.1,393.1 298.4,393.0 295.7,393.0 292.9,392.9 290.2,392.7 287.5,392.6 284.7,392.4 282.0,392.2 279.2,391.9 276.5,391.5 273.8,390.9 271.0,390.3 268.3,389.4 265.6,388.2 262.8,386.7 260.1,384.9 257.3,382.7 254.6,380.0 251.9,376.8 249.1,373.2 246.4,369.1 243.7,364.6 240.9,359.9 238.2,355.0 235.4,350.1 232.7,345.5 230.0,341.4 227.2,338.0 224.5,335.5 221.8,334.3 219.0,334.3 216.3,335.5 213.5,338.0 210.8,341.4 208.1,345.5 205.3,350.1 202.6,355.0 199.9,359.9 197.1,364.6 194.4,369.1 191.7,373.2 188.9,376.8 186.2,380.0 183.4,382.7 180.7,384.9 178.0,386.7 175.2,388.2 172.5,389.4 169.8,390.3 167.0,390.9 164.3,391.5 161.5,391.9 158.8,392.2 156.1,392.4 153.3,392.6 150.6,392.7 147.9,392.9 145.1,393.0 142.4,393.0 139.6,393.1 136.9,393.2 134.2,393.2 131.4,393.3 128.7,393.3 126.0,393.4 123.2,393.4 120.5,393.4 117.8,393.5 115.0,393.5 112.3,393.5 109.5,393.6 106.8,393.6 104.1,393.6 101.3,393.6 98.6,393.6" fill="none" stroke="#2038f8" stroke-width="2.8"/>
<polyline points="363.4,394.1 360.7,394.1 358.0,394.1 355.3,394.1 352.5,394.1 349.8,394.1 347.1,394.0 344.4,394.0 341.7,394.0 339.0,394.0 336.2,394.0 333.5,394.0 330.8,394.0 328.1,394.0 325.4,394.0 322.7,394.0 319.9,394.0 317.2,394.0 314.5,394.0 311.8,394.0 309.1,394.0 306.4,394.0 303.6,394.0 300.9,393.9 298.2,393.9 295.5,393.9 292.8,393.9 290.0,393.8 287.3,393.7 284.6,393.6 281.9,393.5 279.2,393.3 276.5,393.1 273.7,392.7 271.0,392.3 268.3,391.8 265.6,391.3 262.9,390.6 260.2,389.9 257.4,389.1 254.7,388.3 252.0,387.6 249.3,387.1 246.6,386.7 243.8,386.5 241.1,386.6 238.4,386.9 235.7,387.4 233.0,388.1 230.3,388.8 227.5,389.6 224.8,390.3 222.1,391.0 219.4,391.6 216.7,392.2 214.0,392.6 211.2,393.0 208.5,393.2 205.8,393.4 203.1,393.6 200.4,393.7 197.7,393.8 194.9,393.8 192.2,393.9 189.5,393.9 186.8,393.9 184.1,393.9 181.3,394.0 178.6,394.0 175.9,394.0 173.2,394.0 170.5,394.0 167.8,394.0 165.0,394.0 162.3,394.0 159.6,394.0 156.9,394.0 154.2,394.0 151.5,394.0 148.7,394.0 146.0,394.0 143.3,394.0 140.6,394.0 137.9,394.1 135.1,394.1 132.4,394.1 129.7,394.1 127.0,394.1 124.3,394.1 121.6,394.1" fill="none" stroke="#2038f8" stroke-width="2.8"/>
<polyline points="363.4,394.0 360.9,394.0 358.4,394.0 355.9,394.0 353.4,394.0 350.9,394.0 348.4,394.0 345.9,394.0 343.4,394.0 340.9,394.0 338.4,394.0 335.9,394.0 333.4,393.9 330.9,393.9 328.4,393.9 325.9,393.9 323.4,393.9 320.9,393.9 318.4,393.9 315.9,393.8 313.4,393.8 310.9,393.8 308.4,393.7 305.9,393.7 303.4,393.6 300.9,393.4 298.4,393.2 295.9,393.0 293.4,392.6 290.8,392.1 288.3,391.4 285.8,390.5 283.3,389.4 280.8,388.0 278.3,386.5 275.8,384.8 273.3,383.1 270.8,381.5 268.3,380.0 265.8,379.0 263.3,378.5 260.8,378.6 258.3,379.3 255.8,380.5 253.3,382.0 250.8,383.7 248.3,385.4 245.8,387.0 243.3,388.5 240.8,389.8 238.3,390.8 235.8,391.6 233.3,392.3 230.8,392.7 228.3,393.1 225.8,393.3 223.3,393.5 220.8,393.6 218.3,393.7 215.8,393.7 213.3,393.8 210.8,393.8 208.3,393.8 205.8,393.9 203.3,393.9 200.8,393.9 198.3,393.9 195.8,393.9 193.3,393.9 190.7,393.9 188.2,394.0 185.7,394.0 183.2,394.0 180.7,394.0 178.2,394.0 175.7,394.0 173.2,394.0 170.7,394.0 168.2,394.0 165.7,394.0 163.2,394.0 160.7,394.0 158.2,394.0 155.7,394.0 153.2,394.0 150.7,394.0 148.2,394.0 145.7,394.0 143.2,394.0 140.7,394.0" fill="none" stroke="#2038f8" stroke-width="2.8"/>
<polyline points="363.4,393.8 361.1,393.8 358.8,393.8 356.5,393.8 354.2,393.7 351.9,393.7 349.6,393.7 347.2,393.7 344.9,393.6 342.6,393.6 340.3,393.6 338.0,393.5 335.7,393.4 333.4,393.3 331.1,393.2 328.8,393.0 326.4,392.8 324.1,392.6 321.8,392.2 319.5,391.8 317.2,391.3 314.9,390.6 312.6,389.8 310.3,388.8 308.0,387.7 305.6,386.4 303.3,385.0 301.0,383.5 298.7,381.8 296.4,380.0 294.1,378.3 291.8,376.6 289.5,375.0 287.2,373.6 284.9,372.5 282.5,371.8 280.2,371.4 277.9,371.5 275.6,372.0 273.3,372.9 271.0,374.2 268.7,375.6 266.4,377.3 264.1,379.0 261.7,380.8 259.4,382.5 257.1,384.1 254.8,385.6 252.5,387.0 250.2,388.2 247.9,389.3 245.6,390.1 243.3,390.9 240.9,391.5 238.6,392.0 236.3,392.4 234.0,392.7 231.7,392.9 229.4,393.1 227.1,393.3 224.8,393.4 222.5,393.4 220.1,393.5 217.8,393.6 215.5,393.6 213.2,393.7 210.9,393.7 208.6,393.7 206.3,393.7 204.0,393.8 201.7,393.8 199.3,393.8 197.0,393.8 194.7,393.8 192.4,393.8 190.1,393.9 187.8,393.9 185.5,393.9 183.2,393.9 180.9,393.9 178.5,393.9 176.2,393.9 173.9,393.9 171.6,393.9 169.3,393.9 167.0,393.9 164.7,393.9 162.4,394.0 160.1,394.0 157.8,394.0" fill="none" stroke="#2038f8" stroke-width="2.8"/>
<line x1="36.5" y1="394.1" x2="349.5" y2="394.1" stroke="#2038f8" stroke-width="2.8"/>
<circle cx="36.3" cy="393.8" r="2.3" fill="none" stroke="#606060" stroke-width="0.8"/>
<circle cx="39.3" cy="394.0" r="2.3" fill="none" stroke="#606060" stroke-width="0.8"/>
<circle cx="42.2" cy="393.5" r="2.3" fill="none" stroke="#606060" stroke-width="0.8"/>
<circle cx="45.2" cy="393.0" r="2.3" fill="none" stroke="#606060" stroke-width="0.8"/>
<circle cx="48.1" cy="393.3" r="2.3" fill="none" stroke="#606060" stroke-width="0.8"/>
<circle cx="51.1" cy="392.9" r="2.3" fill="none" stroke="#606060" stroke-width="0.8"/>
<circle cx="54.0" cy="393.7" r="2.3" fill="none" stroke="#606060" stroke-width="0.8"/>
<circle cx="57.0" cy="394.7" r="2.3" fill="none" stroke="#606060" stroke-width="0.8"/>
<circle cx="60.0" cy="393.2" r="2.3" fill="none" stroke="#606060" stroke-width="0.8"/>
<circle cx="62.9" cy="393.1" r="2.3" fill="none" stroke="#606060" stroke-width="0.8"/>
<circle cx="65.9" cy="394.0" r="2.3" fill="none" stroke="#606060" stroke-width="0.8"/>
<circle cx="68.8" cy="393.9" r="2.3" fill="none" stroke="#606060" stroke-width="0.8"/>
<circle cx="71.8" cy="393.6" r="2.3" fill="none" stroke="#606060" stroke-width="0.8"/>
<circle cx="74.8" cy="392.8" r="2.3" fill="none" stroke="#606060" stroke-width="0.8"/>
<circle cx="77.7" cy="393.5" r="2.3" fill="none" stroke="#606060" stroke-width="0.8"/>
<circle cx="80.7" cy="394.0" r="2.3" fill="none" stroke="#606060" stroke-width="0.8"/>
<circle cx="83.6" cy="392.3" r="2.3" fill="none" stroke="#606060" stroke-width="0.8"/>
<circle cx="86.6" cy="393.0" r="2.3" fill="none" stroke="#606060" stroke-width="0.8"/>
<circle cx="89.5" cy="391.7" r="2.3" fill="none" stroke="#606060" stroke-width="0.8"/>
<circle cx="92.5" cy="392.1" r="2.3" fill="none" stroke="#606060" stroke-width="0.8"/>
<circle cx="95.5" cy="391.6" r="2.3" fill="none" stroke="#606060" stroke-width="0.8"/>
<circle cx="98.4" cy="392.7" r="2.3" fill="none" stroke="#606060" stroke-width="0.8"/>
<circle cx="101.4" cy="391.6" r="2.3" fill="none" stroke="#606060" stroke-width="0.8"/>
<circle cx="104.3" cy="392.5" r="2.3" fill="none" stroke="#606060" stroke-width="0.8"/>
<circle cx="107.3" cy="392.0" r="2.3" fill="none" stroke="#606060" stroke-width="0.8"/>
<circle cx="110.2" cy="391.2" r="2.3" fill="none" stroke="#606060" stroke-width="0.8"/>
<circle cx="113.2" cy="388.7" r="2.3" fill="none" stroke="#606060" stroke-width="0.8"/>
<circle cx="116.2" cy="389.5" r="2.3" fill="none" stroke="#606060" stroke-width="0.8"/>
<circle cx="119.1" cy="389.0" r="2.3" fill="none" stroke="#606060" stroke-width="0.8"/>
<circle cx="122.1" cy="388.2" r="2.3" fill="none" stroke="#606060" stroke-width="0.8"/>
<circle cx="125.0" cy="386.0" r="2.3" fill="none" stroke="#606060" stroke-width="0.8"/>
<circle cx="128.0" cy="385.9" r="2.3" fill="none" stroke="#606060" stroke-width="0.8"/>
<circle cx="131.0" cy="384.7" r="2.3" fill="none" stroke="#606060" stroke-width="0.8"/>
<circle cx="133.9" cy="384.2" r="2.3" fill="none" stroke="#606060" stroke-width="0.8"/>
<circle cx="136.9" cy="385.3" r="2.3" fill="none" stroke="#606060" stroke-width="0.8"/>
<circle cx="139.8" cy="383.8" r="2.3" fill="none" stroke="#606060" stroke-width="0.8"/>
<circle cx="142.8" cy="384.5" r="2.3" fill="none" stroke="#606060" stroke-width="0.8"/>
<circle cx="145.7" cy="385.6" r="2.3" fill="none" stroke="#606060" stroke-width="0.8"/>
<circle cx="148.7" cy="384.9" r="2.3" fill="none" stroke="#606060" stroke-width="0.8"/>
<circle cx="151.7" cy="385.8" r="2.3" fill="none" stroke="#606060" stroke-width="0.8"/>
<circle cx="154.6" cy="386.4" r="2.3" fill="none" stroke="#606060" stroke-width="0.8"/>
<circle cx="157.6" cy="386.7" r="2.3" fill="none" stroke="#606060" stroke-width="0.8"/>
<circle cx="160.5" cy="385.8" r="2.3" fill="none" stroke="#606060" stroke-width="0.8"/>
<circle cx="163.5" cy="386.8" r="2.3" fill="none" stroke="#606060" stroke-width="0.8"/>
<circle cx="166.5" cy="387.6" r="2.3" fill="none" stroke="#606060" stroke-width="0.8"/>
<circle cx="169.4" cy="384.7" r="2.3" fill="none" stroke="#606060" stroke-width="0.8"/>
<circle cx="172.4" cy="385.9" r="2.3" fill="none" stroke="#606060" stroke-width="0.8"/>
<circle cx="175.3" cy="384.2" r="2.3" fill="none" stroke="#606060" stroke-width="0.8"/>
<circle cx="178.3" cy="382.1" r="2.3" fill="none" stroke="#606060" stroke-width="0.8"/>
<circle cx="181.2" cy="382.4" r="2.3" fill="none" stroke="#606060" stroke-width="0.8"/>
<circle cx="184.2" cy="379.1" r="2.3" fill="none" stroke="#606060" stroke-width="0.8"/>
<circle cx="187.2" cy="374.7" r="2.3" fill="none" stroke="#606060" stroke-width="0.8"/>
<circle cx="190.1" cy="372.3" r="2.3" fill="none" stroke="#606060" stroke-width="0.8"/>
<circle cx="193.1" cy="368.8" r="2.3" fill="none" stroke="#606060" stroke-width="0.8"/>
<circle cx="196.0" cy="363.7" r="2.3" fill="none" stroke="#606060" stroke-width="0.8"/>
<circle cx="199.0" cy="359.6" r="2.3" fill="none" stroke="#606060" stroke-width="0.8"/>
<circle cx="201.9" cy="353.8" r="2.3" fill="none" stroke="#606060" stroke-width="0.8"/>
<circle cx="204.9" cy="349.2" r="2.3" fill="none" stroke="#606060" stroke-width="0.8"/>
<circle cx="207.9" cy="344.7" r="2.3" fill="none" stroke="#606060" stroke-width="0.8"/>
<circle cx="210.8" cy="338.3" r="2.3" fill="none" stroke="#606060" stroke-width="0.8"/>
<circle cx="213.8" cy="335.1" r="2.3" fill="none" stroke="#606060" stroke-width="0.8"/>
<circle cx="216.7" cy="331.6" r="2.3" fill="none" stroke="#606060" stroke-width="0.8"/>
<circle cx="219.7" cy="330.3" r="2.3" fill="none" stroke="#606060" stroke-width="0.8"/>
<circle cx="222.7" cy="328.8" r="2.3" fill="none" stroke="#606060" stroke-width="0.8"/>
<circle cx="225.6" cy="330.1" r="2.3" fill="none" stroke="#606060" stroke-width="0.8"/>
<circle cx="228.6" cy="332.4" r="2.3" fill="none" stroke="#606060" stroke-width="0.8"/>
<circle cx="231.5" cy="335.9" r="2.3" fill="none" stroke="#606060" stroke-width="0.8"/>
<circle cx="234.5" cy="339.3" r="2.3" fill="none" stroke="#606060" stroke-width="0.8"/>
<circle cx="237.4" cy="340.6" r="2.3" fill="none" stroke="#606060" stroke-width="0.8"/>
<circle cx="240.4" cy="344.1" r="2.3" fill="none" stroke="#606060" stroke-width="0.8"/>
<circle cx="243.4" cy="348.1" r="2.3" fill="none" stroke="#606060" stroke-width="0.8"/>
<circle cx="246.3" cy="348.2" r="2.3" fill="none" stroke="#606060" stroke-width="0.8"/>
<circle cx="249.3" cy="351.0" r="2.3" fill="none" stroke="#606060" stroke-width="0.8"/>
<circle cx="252.2" cy="352.3" r="2.3" fill="none" stroke="#606060" stroke-width="0.8"/>
<circle cx="255.2" cy="353.9" r="2.3" fill="none" stroke="#606060" stroke-width="0.8"/>
<circle cx="258.1" cy="353.6" r="2.3" fill="none" stroke="#606060" stroke-width="0.8"/>
<circle cx="261.1" cy="353.0" r="2.3" fill="none" stroke="#606060" stroke-width="0.8"/>
<circle cx="264.1" cy="353.3" r="2.3" fill="none" stroke="#606060" stroke-width="0.8"/>
<circle cx="267.0" cy="354.1" r="2.3" fill="none" stroke="#606060" stroke-width="0.8"/>
<circle cx="270.0" cy="356.7" r="2.3" fill="none" stroke="#606060" stroke-width="0.8"/>
<circle cx="272.9" cy="356.6" r="2.3" fill="none" stroke="#606060" stroke-width="0.8"/>
<circle cx="275.9" cy="358.6" r="2.3" fill="none" stroke="#606060" stroke-width="0.8"/>
<circle cx="278.9" cy="361.3" r="2.3" fill="none" stroke="#606060" stroke-width="0.8"/>
<circle cx="281.8" cy="363.4" r="2.3" fill="none" stroke="#606060" stroke-width="0.8"/>
<circle cx="284.8" cy="366.1" r="2.3" fill="none" stroke="#606060" stroke-width="0.8"/>
<circle cx="287.7" cy="368.2" r="2.3" fill="none" stroke="#606060" stroke-width="0.8"/>
<circle cx="290.7" cy="372.1" r="2.3" fill="none" stroke="#606060" stroke-width="0.8"/>
<circle cx="293.6" cy="374.7" r="2.3" fill="none" stroke="#606060" stroke-width="0.8"/>
<circle cx="296.6" cy="378.7" r="2.3" fill="none" stroke="#606060" stroke-width="0.8"/>
<circle cx="299.6" cy="380.9" r="2.3" fill="none" stroke="#606060" stroke-width="0.8"/>
<circle cx="302.5" cy="382.7" r="2.3" fill="none" stroke="#606060" stroke-width="0.8"/>
<circle cx="305.5" cy="385.3" r="2.3" fill="none" stroke="#606060" stroke-width="0.8"/>
<circle cx="308.4" cy="386.3" r="2.3" fill="none" stroke="#606060" stroke-width="0.8"/>
<circle cx="311.4" cy="388.9" r="2.3" fill="none" stroke="#606060" stroke-width="0.8"/>
<circle cx="314.4" cy="389.2" r="2.3" fill="none" stroke="#606060" stroke-width="0.8"/>
<circle cx="317.3" cy="390.7" r="2.3" fill="none" stroke="#606060" stroke-width="0.8"/>
<circle cx="320.3" cy="389.9" r="2.3" fill="none" stroke="#606060" stroke-width="0.8"/>
<circle cx="323.2" cy="391.8" r="2.3" fill="none" stroke="#606060" stroke-width="0.8"/>
<circle cx="326.2" cy="390.6" r="2.3" fill="none" stroke="#606060" stroke-width="0.8"/>
<circle cx="329.1" cy="390.6" r="2.3" fill="none" stroke="#606060" stroke-width="0.8"/>
<circle cx="332.1" cy="392.2" r="2.3" fill="none" stroke="#606060" stroke-width="0.8"/>
<circle cx="335.1" cy="391.9" r="2.3" fill="none" stroke="#606060" stroke-width="0.8"/>
<circle cx="338.0" cy="392.9" r="2.3" fill="none" stroke="#606060" stroke-width="0.8"/>
<circle cx="341.0" cy="394.7" r="2.3" fill="none" stroke="#606060" stroke-width="0.8"/>
<circle cx="343.9" cy="392.3" r="2.3" fill="none" stroke="#606060" stroke-width="0.8"/>
<circle cx="346.9" cy="392.6" r="2.3" fill="none" stroke="#606060" stroke-width="0.8"/>
<circle cx="349.8" cy="393.3" r="2.3" fill="none" stroke="#606060" stroke-width="0.8"/>
<circle cx="352.8" cy="393.6" r="2.3" fill="none" stroke="#606060" stroke-width="0.8"/>
<circle cx="355.8" cy="393.1" r="2.3" fill="none" stroke="#606060" stroke-width="0.8"/>
<circle cx="358.7" cy="393.1" r="2.3" fill="none" stroke="#606060" stroke-width="0.8"/>
<circle cx="361.7" cy="393.9" r="2.3" fill="none" stroke="#606060" stroke-width="0.8"/>
<circle cx="364.6" cy="393.8" r="2.3" fill="none" stroke="#606060" stroke-width="0.8"/>
<circle cx="367.6" cy="392.6" r="2.3" fill="none" stroke="#606060" stroke-width="0.8"/>
<polyline points="36.3,393.8 37.1,393.8 38.0,393.8 38.8,393.7 39.6,393.7 40.4,393.7 41.3,393.7 42.1,393.7 42.9,393.7 43.8,393.7 44.6,393.7 45.4,393.7 46.2,393.7 47.1,393.7 47.9,393.7 48.7,393.7 49.6,393.7 50.4,393.7 51.2,393.7 52.0,393.7 52.9,393.7 53.7,393.7 54.5,393.7 55.4,393.7 56.2,393.7 57.0,393.7 57.8,393.7 58.7,393.6 59.5,393.6 60.3,393.6 61.2,393.6 62.0,393.6 62.8,393.6 63.6,393.6 64.5,393.6 65.3,393.6 66.1,393.6 67.0,393.6 67.8,393.6 68.6,393.6 69.4,393.6 70.3,393.6 71.1,393.5 71.9,393.5 72.8,393.5 73.6,393.5 74.4,393.5 75.2,393.5 76.1,393.5 76.9,393.5 77.7,393.5 78.6,393.5 79.4,393.5 80.2,393.4 81.0,393.4 81.9,393.4 82.7,393.4 83.5,393.4 84.4,393.4 85.2,393.4 86.0,393.4 86.8,393.3 87.7,393.3 88.5,393.3 89.3,393.3 90.2,393.2 91.0,393.2 91.8,393.2 92.6,393.2 93.5,393.1 94.3,393.1 95.1,393.1 96.0,393.0 96.8,393.0 97.6,392.9 98.4,392.9 99.3,392.8 100.1,392.7 100.9,392.7 101.8,392.6 102.6,392.5 103.4,392.4 104.2,392.3 105.1,392.2 105.9,392.1 106.7,392.0 107.6,391.8 108.4,391.7 109.2,391.6 110.0,391.4 110.9,391.2 111.7,391.1 112.5,390.9 113.4,390.7 114.2,390.5 115.0,390.3 115.8,390.0 116.7,389.8 117.5,389.6 118.3,389.3 119.2,389.1 120.0,388.8 120.8,388.6 121.6,388.3 122.5,388.0 123.3,387.8 124.1,387.5 125.0,387.2 125.8,387.0 126.6,386.7 127.4,386.4 128.3,386.2 129.1,386.0 129.9,385.7 130.8,385.5 131.6,385.3 132.4,385.1 133.2,385.0 134.1,384.8 134.9,384.7 135.7,384.6 136.6,384.5 137.4,384.5 138.2,384.4 139.0,384.4 139.9,384.4 140.7,384.4 141.5,384.5 142.4,384.5 143.2,384.6 144.0,384.7 144.8,384.8 145.7,384.9 146.5,385.0 147.3,385.2 148.2,385.3 149.0,385.4 149.8,385.6 150.6,385.7 151.5,385.8 152.3,386.0 153.1,386.1 154.0,386.2 154.8,386.3 155.6,386.4 156.4,386.5 157.3,386.6 158.1,386.7 158.9,386.7 159.8,386.7 160.6,386.8 161.4,386.8 162.2,386.8 163.1,386.8 163.9,386.7 164.7,386.7 165.6,386.6 166.4,386.5 167.2,386.4 168.0,386.2 168.9,386.1 169.7,385.9 170.5,385.7 171.4,385.5 172.2,385.2 173.0,385.0 173.8,384.7 174.7,384.4 175.5,384.0 176.3,383.6 177.2,383.2 178.0,382.8 178.8,382.3 179.6,381.9 180.5,381.3 181.3,380.8 182.1,380.2 183.0,379.5 183.8,378.8 184.6,378.1 185.4,377.4 186.3,376.6 187.1,375.7 187.9,374.8 188.8,373.9 189.6,372.9 190.4,371.9 191.2,370.8 192.1,369.7 192.9,368.6 193.7,367.4 194.6,366.2 195.4,364.9 196.2,363.6 197.0,362.3 197.9,360.9 198.7,359.5 199.5,358.1 200.4,356.7 201.2,355.2 202.0,353.8 202.8,352.3 203.7,350.8 204.5,349.3 205.3,347.9 206.2,346.4 207.0,345.0 207.8,343.6 208.6,342.2 209.5,340.9 210.3,339.6 211.1,338.4 212.0,337.2 212.8,336.1 213.6,335.1 214.4,334.1 215.3,333.3 216.1,332.5 216.9,331.8 217.8,331.2 218.6,330.7 219.4,330.3 220.2,330.0 221.1,329.8 221.9,329.8 222.7,329.8 223.6,329.9 224.4,330.1 225.2,330.4 226.0,330.8 226.9,331.3 227.7,331.9 228.5,332.5 229.4,333.2 230.2,333.9 231.0,334.7 231.8,335.5 232.7,336.4 233.5,337.3 234.3,338.2 235.2,339.1 236.0,340.0 236.8,340.9 237.6,341.8 238.5,342.7 239.3,343.6 240.1,344.5 241.0,345.3 241.8,346.1 242.6,346.9 243.4,347.6 244.3,348.3 245.1,348.9 245.9,349.5 246.8,350.1 247.6,350.6 248.4,351.0 249.2,351.4 250.1,351.7 250.9,352.0 251.7,352.3 252.6,352.5 253.4,352.7 254.2,352.8 255.0,352.9 255.9,353.0 256.7,353.0 257.5,353.0 258.4,353.1 259.2,353.1 260.0,353.1 260.8,353.2 261.7,353.3 262.5,353.3 263.3,353.5 264.2,353.6 265.0,353.8 265.8,354.0 266.6,354.2 267.5,354.5 268.3,354.8 269.1,355.1 270.0,355.4 270.8,355.8 271.6,356.2 272.4,356.7 273.3,357.1 274.1,357.6 274.9,358.2 275.8,358.7 276.6,359.3 277.4,359.9 278.2,360.5 279.1,361.1 279.9,361.8 280.7,362.5 281.6,363.2 282.4,364.0 283.2,364.7 284.0,365.5 284.9,366.3 285.7,367.1 286.5,367.9 287.4,368.8 288.2,369.6 289.0,370.4 289.8,371.2 290.7,372.1 291.5,372.9 292.3,373.7 293.2,374.5 294.0,375.3 294.8,376.1 295.6,376.9 296.5,377.7 297.3,378.4 298.1,379.2 299.0,379.9 299.8,380.6 300.6,381.3 301.4,381.9 302.3,382.6 303.1,383.2 303.9,383.8 304.8,384.3 305.6,384.9 306.4,385.4 307.2,385.9 308.1,386.4 308.9,386.8 309.7,387.3 310.6,387.7 311.4,388.0 312.2,388.4 313.0,388.7 313.9,389.1 314.7,389.4 315.5,389.6 316.4,389.9 317.2,390.2 318.0,390.4 318.8,390.6 319.7,390.8 320.5,391.0 321.3,391.1 322.2,391.3 323.0,391.4 323.8,391.6 324.6,391.7 325.5,391.8 326.3,391.9 327.1,392.0 328.0,392.1 328.8,392.2 329.6,392.3 330.4,392.3 331.3,392.4 332.1,392.5 332.9,392.5 333.8,392.6 334.6,392.6 335.4,392.7 336.2,392.7 337.1,392.7 337.9,392.8 338.7,392.8 339.6,392.8 340.4,392.9 341.2,392.9 342.0,392.9 342.9,393.0 343.7,393.0 344.5,393.0 345.4,393.0 346.2,393.0 347.0,393.1 347.8,393.1 348.7,393.1 349.5,393.1 350.3,393.1 351.2,393.2 352.0,393.2 352.8,393.2 353.6,393.2 354.5,393.2 355.3,393.2 356.1,393.2 357.0,393.3 357.8,393.3 358.6,393.3 359.4,393.3 360.3,393.3 361.1,393.3 361.9,393.3 362.8,393.3 363.6,393.4 364.4,393.4 365.2,393.4 366.1,393.4 366.9,393.4" fill="none" stroke="#ff1a1a" stroke-width="3.6" stroke-linejoin="round"/>
<polyline points="259.0,461.8 256.5,461.7 254.0,461.7 251.5,461.7 249.0,461.7 246.5,461.7 244.0,461.7 241.5,461.7 239.0,461.7 236.5,461.7 234.0,461.7 231.5,461.7 229.0,461.7 226.5,461.7 224.0,461.7 221.5,461.7 219.0,461.7 216.5,461.7 214.0,461.7 211.5,461.7 209.0,461.7 206.5,461.7 204.0,461.6 201.5,461.6 199.0,461.6 196.5,461.6 194.0,461.6 191.5,461.5 189.0,461.5 186.4,461.4 183.9,461.3 181.4,461.2 178.9,461.1 176.4,460.9 173.9,460.7 171.4,460.4 168.9,460.1 166.4,459.7 163.9,459.2 161.4,458.7 158.9,458.1 156.4,457.5 153.9,456.8 151.4,456.1 148.9,455.5 146.4,454.9 143.9,454.4 141.4,454.0 138.9,453.8 136.4,453.8 133.9,454.0 131.4,454.3 128.9,454.7 126.4,455.3 123.9,455.9 121.4,456.6 118.9,457.2 116.4,457.9 113.9,458.5 111.4,459.1 108.9,459.5 106.4,460.0 103.9,460.3 101.4,460.6 98.9,460.9 96.4,461.1 93.9,461.2 91.4,461.3 88.9,461.4 86.3,461.5 83.8,461.5 81.3,461.6 78.8,461.6 76.3,461.6 73.8,461.6 71.3,461.6 68.8,461.7 66.3,461.7 63.8,461.7 61.3,461.7 58.8,461.7 56.3,461.7 53.8,461.7 51.3,461.7 48.8,461.7 46.3,461.7 43.8,461.7 41.3,461.7 38.8,461.7 36.3,461.7" fill="none" stroke="#2038f8" stroke-width="2.8"/>
<polyline points="297.3,461.8 294.6,461.8 291.8,461.8 289.1,461.8 286.4,461.7 283.6,461.7 280.9,461.7 278.1,461.7 275.4,461.7 272.7,461.7 269.9,461.7 267.2,461.7 264.5,461.7 261.7,461.7 259.0,461.7 256.2,461.7 253.5,461.7 250.8,461.7 248.0,461.7 245.3,461.7 242.6,461.7 239.8,461.6 237.1,461.6 234.3,461.6 231.6,461.6 228.9,461.5 226.1,461.4 223.4,461.4 220.7,461.2 217.9,461.1 215.2,460.9 212.5,460.7 209.7,460.5 207.0,460.1 204.2,459.8 201.5,459.4 198.8,458.9 196.0,458.4 193.3,457.9 190.6,457.5 187.8,457.0 185.1,456.6 182.3,456.2 179.6,455.9 176.9,455.8 174.1,455.8 171.4,455.9 168.7,456.2 165.9,456.6 163.2,457.0 160.4,457.5 157.7,457.9 155.0,458.4 152.2,458.9 149.5,459.4 146.8,459.8 144.0,460.1 141.3,460.5 138.5,460.7 135.8,460.9 133.1,461.1 130.3,461.2 127.6,461.4 124.9,461.4 122.1,461.5 119.4,461.6 116.7,461.6 113.9,461.6 111.2,461.6 108.4,461.7 105.7,461.7 103.0,461.7 100.2,461.7 97.5,461.7 94.8,461.7 92.0,461.7 89.3,461.7 86.5,461.7 83.8,461.7 81.1,461.7 78.3,461.7 75.6,461.7 72.9,461.7 70.1,461.7 67.4,461.7 64.6,461.7 61.9,461.8 59.2,461.8 56.4,461.8 53.7,461.8" fill="none" stroke="#2038f8" stroke-width="2.8"/>
<polyline points="343.9,461.4 341.2,461.3 338.5,461.3 335.7,461.3 333.0,461.3 330.2,461.3 327.5,461.2 324.8,461.2 322.0,461.2 319.3,461.1 316.6,461.1 313.8,461.0 311.1,461.0 308.3,461.0 305.6,460.9 302.9,460.8 300.1,460.8 297.4,460.7 294.7,460.6 291.9,460.5 289.2,460.3 286.5,460.2 283.7,459.9 281.0,459.6 278.2,459.3 275.5,458.7 272.8,458.1 270.0,457.2 267.3,456.1 264.6,454.7 261.8,452.9 259.1,450.8 256.3,448.2 253.6,445.1 250.9,441.6 248.1,437.6 245.4,433.3 242.7,428.7 239.9,424.0 237.2,419.3 234.4,414.8 231.7,410.8 229.0,407.5 226.2,405.2 223.5,404.0 220.8,404.0 218.0,405.2 215.3,407.5 212.6,410.8 209.8,414.8 207.1,419.3 204.3,424.0 201.6,428.7 198.9,433.3 196.1,437.6 193.4,441.6 190.7,445.1 187.9,448.2 185.2,450.8 182.4,452.9 179.7,454.7 177.0,456.1 174.2,457.2 171.5,458.1 168.8,458.7 166.0,459.3 163.3,459.6 160.5,459.9 157.8,460.2 155.1,460.3 152.3,460.5 149.6,460.6 146.9,460.7 144.1,460.8 141.4,460.8 138.7,460.9 135.9,461.0 133.2,461.0 130.4,461.0 127.7,461.1 125.0,461.1 122.2,461.2 119.5,461.2 116.8,461.2 114.0,461.3 111.3,461.3 108.5,461.3 105.8,461.3 103.1,461.3 100.3,461.4" fill="none" stroke="#2038f8" stroke-width="2.8"/>
<polyline points="363.4,461.7 360.7,461.7 358.0,461.7 355.3,461.7 352.5,461.7 349.8,461.7 347.1,461.7 344.4,461.7 341.7,461.7 339.0,461.7 336.2,461.7 333.5,461.7 330.8,461.7 328.1,461.7 325.4,461.7 322.7,461.7 319.9,461.7 317.2,461.7 314.5,461.7 311.8,461.7 309.1,461.6 306.4,461.6 303.6,461.6 300.9,461.6 298.2,461.6 295.5,461.5 292.8,461.5 290.0,461.4 287.3,461.3 284.6,461.2 281.9,461.0 279.2,460.8 276.5,460.4 273.7,460.0 271.0,459.5 268.3,458.8 265.6,458.1 262.9,457.2 260.2,456.2 257.4,455.2 254.7,454.2 252.0,453.3 249.3,452.5 246.6,452.0 243.8,451.8 241.1,451.9 238.4,452.3 235.7,453.0 233.0,453.9 230.3,454.8 227.5,455.8 224.8,456.8 222.1,457.7 219.4,458.6 216.7,459.3 214.0,459.8 211.2,460.3 208.5,460.7 205.8,460.9 203.1,461.1 200.4,461.3 197.7,461.4 194.9,461.5 192.2,461.5 189.5,461.5 186.8,461.6 184.1,461.6 181.3,461.6 178.6,461.6 175.9,461.6 173.2,461.7 170.5,461.7 167.8,461.7 165.0,461.7 162.3,461.7 159.6,461.7 156.9,461.7 154.2,461.7 151.5,461.7 148.7,461.7 146.0,461.7 143.3,461.7 140.6,461.7 137.9,461.7 135.1,461.7 132.4,461.7 129.7,461.7 127.0,461.7 124.3,461.7 121.6,461.8" fill="none" stroke="#2038f8" stroke-width="2.8"/>
<polyline points="363.4,461.7 360.9,461.7 358.4,461.7 355.9,461.7 353.4,461.7 350.9,461.7 348.4,461.6 345.9,461.6 343.4,461.6 340.9,461.6 338.4,461.6 335.9,461.6 333.4,461.6 330.9,461.6 328.4,461.5 325.9,461.5 323.4,461.5 320.9,461.5 318.4,461.4 315.9,461.4 313.4,461.4 310.9,461.3 308.4,461.3 305.9,461.2 303.4,461.0 300.9,460.8 298.4,460.6 295.9,460.2 293.4,459.7 290.8,458.9 288.3,457.9 285.8,456.6 283.3,455.0 280.8,453.1 278.3,450.9 275.8,448.5 273.3,446.1 270.8,443.7 268.3,441.7 265.8,440.3 263.3,439.5 260.8,439.7 258.3,440.7 255.8,442.4 253.3,444.5 250.8,446.9 248.3,449.3 245.8,451.7 243.3,453.8 240.8,455.6 238.3,457.1 235.8,458.3 233.3,459.2 230.8,459.9 228.3,460.3 225.8,460.7 223.3,460.9 220.8,461.1 218.3,461.2 215.8,461.3 213.3,461.3 210.8,461.4 208.3,461.4 205.8,461.5 203.3,461.5 200.8,461.5 198.3,461.5 195.8,461.5 193.3,461.6 190.7,461.6 188.2,461.6 185.7,461.6 183.2,461.6 180.7,461.6 178.2,461.6 175.7,461.6 173.2,461.7 170.7,461.7 168.2,461.7 165.7,461.7 163.2,461.7 160.7,461.7 158.2,461.7 155.7,461.7 153.2,461.7 150.7,461.7 148.2,461.7 145.7,461.7 143.2,461.7 140.7,461.7" fill="none" stroke="#2038f8" stroke-width="2.8"/>
<polyline points="363.4,461.4 361.1,461.4 358.8,461.3 356.5,461.3 354.2,461.3 351.9,461.3 349.6,461.2 347.3,461.2 345.0,461.1 342.7,461.1 340.4,461.0 338.0,461.0 335.7,460.9 333.4,460.8 331.1,460.6 328.8,460.5 326.5,460.2 324.2,459.9 321.9,459.5 319.6,459.0 317.3,458.3 315.0,457.4 312.7,456.2 310.4,454.7 308.1,453.0 305.7,450.8 303.4,448.4 301.1,445.6 298.8,442.5 296.5,439.2 294.2,435.8 291.9,432.4 289.6,429.1 287.3,426.3 285.0,424.0 282.7,422.5 280.4,421.8 278.1,422.1 275.8,423.3 273.4,425.3 271.1,427.9 268.8,431.0 266.5,434.4 264.2,437.8 261.9,441.2 259.6,444.3 257.3,447.3 255.0,449.9 252.7,452.1 250.4,454.1 248.1,455.6 245.8,456.9 243.5,457.9 241.2,458.7 238.8,459.3 236.5,459.8 234.2,460.1 231.9,460.4 229.6,460.6 227.3,460.7 225.0,460.8 222.7,460.9 220.4,461.0 218.1,461.1 215.8,461.1 213.5,461.2 211.2,461.2 208.9,461.2 206.5,461.3 204.2,461.3 201.9,461.3 199.6,461.4 197.3,461.4 195.0,461.4 192.7,461.4 190.4,461.4 188.1,461.5 185.8,461.5 183.5,461.5 181.2,461.5 178.9,461.5 176.6,461.5 174.2,461.5 171.9,461.6 169.6,461.6 167.3,461.6 165.0,461.6 162.7,461.6 160.4,461.6 158.1,461.6" fill="none" stroke="#2038f8" stroke-width="2.8"/>
<line x1="36.5" y1="461.8" x2="349.5" y2="461.8" stroke="#2038f8" stroke-width="2.8"/>
<circle cx="36.3" cy="461.4" r="2.3" fill="none" stroke="#606060" stroke-width="0.8"/>
<circle cx="39.3" cy="461.4" r="2.3" fill="none" stroke="#606060" stroke-width="0.8"/>
<circle cx="42.2" cy="460.5" r="2.3" fill="none" stroke="#606060" stroke-width="0.8"/>
<circle cx="45.2" cy="461.6" r="2.3" fill="none" stroke="#606060" stroke-width="0.8"/>
<circle cx="48.1" cy="460.7" r="2.3" fill="none" stroke="#606060" stroke-width="0.8"/>
<circle cx="51.1" cy="462.1" r="2.3" fill="none" stroke="#606060" stroke-width="0.8"/>
<circle cx="54.0" cy="461.5" r="2.3" fill="none" stroke="#606060" stroke-width="0.8"/>
<circle cx="57.0" cy="461.4" r="2.3" fill="none" stroke="#606060" stroke-width="0.8"/>
<circle cx="60.0" cy="460.8" r="2.3" fill="none" stroke="#606060" stroke-width="0.8"/>
<circle cx="62.9" cy="461.2" r="2.3" fill="none" stroke="#606060" stroke-width="0.8"/>
<circle cx="65.9" cy="459.6" r="2.3" fill="none" stroke="#606060" stroke-width="0.8"/>
<circle cx="68.8" cy="460.3" r="2.3" fill="none" stroke="#606060" stroke-width="0.8"/>
<circle cx="71.8" cy="461.5" r="2.3" fill="none" stroke="#606060" stroke-width="0.8"/>
<circle cx="74.8" cy="459.4" r="2.3" fill="none" stroke="#606060" stroke-width="0.8"/>
<circle cx="77.7" cy="461.8" r="2.3" fill="none" stroke="#606060" stroke-width="0.8"/>
<circle cx="80.7" cy="459.6" r="2.3" fill="none" stroke="#606060" stroke-width="0.8"/>
<circle cx="83.6" cy="461.6" r="2.3" fill="none" stroke="#606060" stroke-width="0.8"/>
<circle cx="86.6" cy="460.2" r="2.3" fill="none" stroke="#606060" stroke-width="0.8"/>
<circle cx="89.5" cy="461.4" r="2.3" fill="none" stroke="#606060" stroke-width="0.8"/>
<circle cx="92.5" cy="460.7" r="2.3" fill="none" stroke="#606060" stroke-width="0.8"/>
<circle cx="95.5" cy="459.2" r="2.3" fill="none" stroke="#606060" stroke-width="0.8"/>
<circle cx="98.4" cy="461.2" r="2.3" fill="none" stroke="#606060" stroke-width="0.8"/>
<circle cx="101.4" cy="461.0" r="2.3" fill="none" stroke="#606060" stroke-width="0.8"/>
<circle cx="104.3" cy="459.4" r="2.3" fill="none" stroke="#606060" stroke-width="0.8"/>
<circle cx="107.3" cy="458.8" r="2.3" fill="none" stroke="#606060" stroke-width="0.8"/>
<circle cx="110.2" cy="458.3" r="2.3" fill="none" stroke="#606060" stroke-width="0.8"/>
<circle cx="113.2" cy="456.9" r="2.3" fill="none" stroke="#606060" stroke-width="0.8"/>
<circle cx="116.2" cy="457.8" r="2.3" fill="none" stroke="#606060" stroke-width="0.8"/>
<circle cx="119.1" cy="455.7" r="2.3" fill="none" stroke="#606060" stroke-width="0.8"/>
<circle cx="122.1" cy="455.2" r="2.3" fill="none" stroke="#606060" stroke-width="0.8"/>
<circle cx="125.0" cy="453.7" r="2.3" fill="none" stroke="#606060" stroke-width="0.8"/>
<circle cx="128.0" cy="453.0" r="2.3" fill="none" stroke="#606060" stroke-width="0.8"/>
<circle cx="131.0" cy="451.7" r="2.3" fill="none" stroke="#606060" stroke-width="0.8"/>
<circle cx="133.9" cy="453.1" r="2.3" fill="none" stroke="#606060" stroke-width="0.8"/>
<circle cx="136.9" cy="451.6" r="2.3" fill="none" stroke="#606060" stroke-width="0.8"/>
<circle cx="139.8" cy="452.2" r="2.3" fill="none" stroke="#606060" stroke-width="0.8"/>
<circle cx="142.8" cy="451.4" r="2.3" fill="none" stroke="#606060" stroke-width="0.8"/>
<circle cx="145.7" cy="450.9" r="2.3" fill="none" stroke="#606060" stroke-width="0.8"/>
<circle cx="148.7" cy="451.4" r="2.3" fill="none" stroke="#606060" stroke-width="0.8"/>
<circle cx="151.7" cy="451.3" r="2.3" fill="none" stroke="#606060" stroke-width="0.8"/>
<circle cx="154.6" cy="451.9" r="2.3" fill="none" stroke="#606060" stroke-width="0.8"/>
<circle cx="157.6" cy="451.6" r="2.3" fill="none" stroke="#606060" stroke-width="0.8"/>
<circle cx="160.5" cy="451.6" r="2.3" fill="none" stroke="#606060" stroke-width="0.8"/>
<circle cx="163.5" cy="450.5" r="2.3" fill="none" stroke="#606060" stroke-width="0.8"/>
<circle cx="166.5" cy="450.6" r="2.3" fill="none" stroke="#606060" stroke-width="0.8"/>
<circle cx="169.4" cy="452.1" r="2.3" fill="none" stroke="#606060" stroke-width="0.8"/>
<circle cx="172.4" cy="449.6" r="2.3" fill="none" stroke="#606060" stroke-width="0.8"/>
<circle cx="175.3" cy="448.4" r="2.3" fill="none" stroke="#606060" stroke-width="0.8"/>
<circle cx="178.3" cy="448.5" r="2.3" fill="none" stroke="#606060" stroke-width="0.8"/>
<circle cx="181.2" cy="447.9" r="2.3" fill="none" stroke="#606060" stroke-width="0.8"/>
<circle cx="184.2" cy="443.9" r="2.3" fill="none" stroke="#606060" stroke-width="0.8"/>
<circle cx="187.2" cy="442.7" r="2.3" fill="none" stroke="#606060" stroke-width="0.8"/>
<circle cx="190.1" cy="439.7" r="2.3" fill="none" stroke="#606060" stroke-width="0.8"/>
<circle cx="193.1" cy="435.5" r="2.3" fill="none" stroke="#606060" stroke-width="0.8"/>
<circle cx="196.0" cy="433.8" r="2.3" fill="none" stroke="#606060" stroke-width="0.8"/>
<circle cx="199.0" cy="428.9" r="2.3" fill="none" stroke="#606060" stroke-width="0.8"/>
<circle cx="201.9" cy="424.3" r="2.3" fill="none" stroke="#606060" stroke-width="0.8"/>
<circle cx="204.9" cy="418.7" r="2.3" fill="none" stroke="#606060" stroke-width="0.8"/>
<circle cx="207.9" cy="414.7" r="2.3" fill="none" stroke="#606060" stroke-width="0.8"/>
<circle cx="210.8" cy="409.1" r="2.3" fill="none" stroke="#606060" stroke-width="0.8"/>
<circle cx="213.8" cy="405.0" r="2.3" fill="none" stroke="#606060" stroke-width="0.8"/>
<circle cx="216.7" cy="400.6" r="2.3" fill="none" stroke="#606060" stroke-width="0.8"/>
<circle cx="219.7" cy="397.9" r="2.3" fill="none" stroke="#606060" stroke-width="0.8"/>
<circle cx="222.7" cy="398.4" r="2.3" fill="none" stroke="#606060" stroke-width="0.8"/>
<circle cx="225.6" cy="396.6" r="2.3" fill="none" stroke="#606060" stroke-width="0.8"/>
<circle cx="228.6" cy="398.0" r="2.3" fill="none" stroke="#606060" stroke-width="0.8"/>
<circle cx="231.5" cy="399.3" r="2.3" fill="none" stroke="#606060" stroke-width="0.8"/>
<circle cx="234.5" cy="401.1" r="2.3" fill="none" stroke="#606060" stroke-width="0.8"/>
<circle cx="237.4" cy="403.4" r="2.3" fill="none" stroke="#606060" stroke-width="0.8"/>
<circle cx="240.4" cy="406.5" r="2.3" fill="none" stroke="#606060" stroke-width="0.8"/>
<circle cx="243.4" cy="407.6" r="2.3" fill="none" stroke="#606060" stroke-width="0.8"/>
<circle cx="246.3" cy="408.9" r="2.3" fill="none" stroke="#606060" stroke-width="0.8"/>
<circle cx="249.3" cy="409.6" r="2.3" fill="none" stroke="#606060" stroke-width="0.8"/>
<circle cx="252.2" cy="410.2" r="2.3" fill="none" stroke="#606060" stroke-width="0.8"/>
<circle cx="255.2" cy="408.8" r="2.3" fill="none" stroke="#606060" stroke-width="0.8"/>
<circle cx="258.1" cy="407.1" r="2.3" fill="none" stroke="#606060" stroke-width="0.8"/>
<circle cx="261.1" cy="404.9" r="2.3" fill="none" stroke="#606060" stroke-width="0.8"/>
<circle cx="264.1" cy="403.0" r="2.3" fill="none" stroke="#606060" stroke-width="0.8"/>
<circle cx="267.0" cy="404.2" r="2.3" fill="none" stroke="#606060" stroke-width="0.8"/>
<circle cx="270.0" cy="404.1" r="2.3" fill="none" stroke="#606060" stroke-width="0.8"/>
<circle cx="272.9" cy="403.9" r="2.3" fill="none" stroke="#606060" stroke-width="0.8"/>
<circle cx="275.9" cy="405.9" r="2.3" fill="none" stroke="#606060" stroke-width="0.8"/>
<circle cx="278.9" cy="408.5" r="2.3" fill="none" stroke="#606060" stroke-width="0.8"/>
<circle cx="281.8" cy="411.9" r="2.3" fill="none" stroke="#606060" stroke-width="0.8"/>
<circle cx="284.8" cy="416.3" r="2.3" fill="none" stroke="#606060" stroke-width="0.8"/>
<circle cx="287.7" cy="420.2" r="2.3" fill="none" stroke="#606060" stroke-width="0.8"/>
<circle cx="290.7" cy="427.1" r="2.3" fill="none" stroke="#606060" stroke-width="0.8"/>
<circle cx="293.6" cy="430.2" r="2.3" fill="none" stroke="#606060" stroke-width="0.8"/>
<circle cx="296.6" cy="437.1" r="2.3" fill="none" stroke="#606060" stroke-width="0.8"/>
<circle cx="299.6" cy="441.5" r="2.3" fill="none" stroke="#606060" stroke-width="0.8"/>
<circle cx="302.5" cy="445.9" r="2.3" fill="none" stroke="#606060" stroke-width="0.8"/>
<circle cx="305.5" cy="450.3" r="2.3" fill="none" stroke="#606060" stroke-width="0.8"/>
<circle cx="308.4" cy="452.8" r="2.3" fill="none" stroke="#606060" stroke-width="0.8"/>
<circle cx="311.4" cy="453.0" r="2.3" fill="none" stroke="#606060" stroke-width="0.8"/>
<circle cx="314.4" cy="454.4" r="2.3" fill="none" stroke="#606060" stroke-width="0.8"/>
<circle cx="317.3" cy="457.7" r="2.3" fill="none" stroke="#606060" stroke-width="0.8"/>
<circle cx="320.3" cy="457.2" r="2.3" fill="none" stroke="#606060" stroke-width="0.8"/>
<circle cx="323.2" cy="458.7" r="2.3" fill="none" stroke="#606060" stroke-width="0.8"/>
<circle cx="326.2" cy="459.8" r="2.3" fill="none" stroke="#606060" stroke-width="0.8"/>
<circle cx="329.1" cy="458.2" r="2.3" fill="none" stroke="#606060" stroke-width="0.8"/>
<circle cx="332.1" cy="458.1" r="2.3" fill="none" stroke="#606060" stroke-width="0.8"/>
<circle cx="335.1" cy="460.2" r="2.3" fill="none" stroke="#606060" stroke-width="0.8"/>
<circle cx="338.0" cy="460.2" r="2.3" fill="none" stroke="#606060" stroke-width="0.8"/>
<circle cx="341.0" cy="460.1" r="2.3" fill="none" stroke="#606060" stroke-width="0.8"/>
<circle cx="343.9" cy="460.4" r="2.3" fill="none" stroke="#606060" stroke-width="0.8"/>
<circle cx="346.9" cy="459.8" r="2.3" fill="none" stroke="#606060" stroke-width="0.8"/>
<circle cx="349.8" cy="459.4" r="2.3" fill="none" stroke="#606060" stroke-width="0.8"/>
<circle cx="352.8" cy="460.5" r="2.3" fill="none" stroke="#606060" stroke-width="0.8"/>
<circle cx="355.8" cy="459.9" r="2.3" fill="none" stroke="#606060" stroke-width="0.8"/>
<circle cx="358.7" cy="459.5" r="2.3" fill="none" stroke="#606060" stroke-width="0.8"/>
<circle cx="361.7" cy="461.2" r="2.3" fill="none" stroke="#606060" stroke-width="0.8"/>
<circle cx="364.6" cy="460.8" r="2.3" fill="none" stroke="#606060" stroke-width="0.8"/>
<circle cx="367.6" cy="461.3" r="2.3" fill="none" stroke="#606060" stroke-width="0.8"/>
<polyline points="36.3,461.4 37.1,461.4 38.0,461.4 38.8,461.4 39.6,461.4 40.4,461.4 41.3,461.4 42.1,461.4 42.9,461.4 43.8,461.4 44.6,461.4 45.4,461.4 46.2,461.4 47.1,461.4 47.9,461.4 48.7,461.3 49.6,461.3 50.4,461.3 51.2,461.3 52.0,461.3 52.9,461.3 53.7,461.3 54.5,461.3 55.4,461.3 56.2,461.3 57.0,461.3 57.8,461.3 58.7,461.3 59.5,461.3 60.3,461.3 61.2,461.3 62.0,461.3 62.8,461.2 63.6,461.2 64.5,461.2 65.3,461.2 66.1,461.2 67.0,461.2 67.8,461.2 68.6,461.2 69.4,461.2 70.3,461.2 71.1,461.2 71.9,461.2 72.8,461.1 73.6,461.1 74.4,461.1 75.2,461.1 76.1,461.1 76.9,461.1 77.7,461.1 78.6,461.1 79.4,461.1 80.2,461.0 81.0,461.0 81.9,461.0 82.7,461.0 83.5,461.0 84.4,460.9 85.2,460.9 86.0,460.9 86.8,460.9 87.7,460.8 88.5,460.8 89.3,460.8 90.2,460.7 91.0,460.7 91.8,460.7 92.6,460.6 93.5,460.6 94.3,460.5 95.1,460.5 96.0,460.4 96.8,460.3 97.6,460.3 98.4,460.2 99.3,460.1 100.1,460.0 100.9,459.9 101.8,459.8 102.6,459.7 103.4,459.6 104.2,459.5 105.1,459.4 105.9,459.2 106.7,459.1 107.6,459.0 108.4,458.8 109.2,458.6 110.0,458.5 110.9,458.3 111.7,458.1 112.5,457.9 113.4,457.7 114.2,457.5 115.0,457.3 115.8,457.0 116.7,456.8 117.5,456.6 118.3,456.3 119.2,456.1 120.0,455.9 120.8,455.6 121.6,455.4 122.5,455.1 123.3,454.9 124.1,454.6 125.0,454.4 125.8,454.1 126.6,453.9 127.4,453.6 128.3,453.4 129.1,453.2 129.9,453.0 130.8,452.8 131.6,452.6 132.4,452.4 133.2,452.3 134.1,452.1 134.9,452.0 135.7,451.9 136.6,451.7 137.4,451.7 138.2,451.6 139.0,451.5 139.9,451.5 140.7,451.4 141.5,451.4 142.4,451.4 143.2,451.4 144.0,451.4 144.8,451.5 145.7,451.5 146.5,451.5 147.3,451.6 148.2,451.6 149.0,451.6 149.8,451.7 150.6,451.7 151.5,451.8 152.3,451.8 153.1,451.8 154.0,451.9 154.8,451.9 155.6,451.9 156.4,451.9 157.3,451.9 158.1,451.9 158.9,451.9 159.8,451.9 160.6,451.8 161.4,451.8 162.2,451.7 163.1,451.7 163.9,451.6 164.7,451.5 165.6,451.4 166.4,451.3 167.2,451.2 168.0,451.0 168.9,450.9 169.7,450.7 170.5,450.6 171.4,450.4 172.2,450.2 173.0,450.0 173.8,449.7 174.7,449.5 175.5,449.2 176.3,448.9 177.2,448.6 178.0,448.3 178.8,448.0 179.6,447.6 180.5,447.2 181.3,446.8 182.1,446.3 183.0,445.8 183.8,445.3 184.6,444.8 185.4,444.2 186.3,443.6 187.1,442.9 187.9,442.2 188.8,441.5 189.6,440.7 190.4,439.9 191.2,439.0 192.1,438.1 192.9,437.2 193.7,436.2 194.6,435.1 195.4,434.1 196.2,432.9 197.0,431.8 197.9,430.6 198.7,429.4 199.5,428.1 200.4,426.8 201.2,425.5 202.0,424.1 202.8,422.8 203.7,421.4 204.5,420.0 205.3,418.6 206.2,417.2 207.0,415.8 207.8,414.4 208.6,413.0 209.5,411.7 210.3,410.3 211.1,409.0 212.0,407.8 212.8,406.5 213.6,405.4 214.4,404.2 215.3,403.2 216.1,402.2 216.9,401.3 217.8,400.5 218.6,399.7 219.4,399.0 220.2,398.5 221.1,398.0 221.9,397.6 222.7,397.3 223.6,397.1 224.4,397.0 225.2,397.0 226.0,397.1 226.9,397.2 227.7,397.4 228.5,397.7 229.4,398.1 230.2,398.5 231.0,399.0 231.8,399.6 232.7,400.1 233.5,400.7 234.3,401.4 235.2,402.0 236.0,402.6 236.8,403.3 237.6,404.0 238.5,404.6 239.3,405.2 240.1,405.8 241.0,406.4 241.8,406.9 242.6,407.4 243.4,407.9 244.3,408.3 245.1,408.6 245.9,408.9 246.8,409.2 247.6,409.4 248.4,409.5 249.2,409.6 250.1,409.5 250.9,409.5 251.7,409.4 252.6,409.2 253.4,408.9 254.2,408.7 255.0,408.3 255.9,408.0 256.7,407.6 257.5,407.2 258.4,406.7 259.2,406.3 260.0,405.9 260.8,405.5 261.7,405.1 262.5,404.7 263.3,404.4 264.2,404.1 265.0,403.9 265.8,403.6 266.6,403.5 267.5,403.4 268.3,403.3 269.1,403.3 270.0,403.4 270.8,403.5 271.6,403.6 272.4,403.8 273.3,404.1 274.1,404.5 274.9,404.9 275.8,405.4 276.6,405.9 277.4,406.6 278.2,407.3 279.1,408.1 279.9,408.9 280.7,409.9 281.6,410.9 282.4,412.0 283.2,413.2 284.0,414.4 284.9,415.7 285.7,417.1 286.5,418.5 287.4,419.9 288.2,421.3 289.0,422.8 289.8,424.3 290.7,425.8 291.5,427.3 292.3,428.9 293.2,430.3 294.0,431.8 294.8,433.3 295.6,434.7 296.5,436.1 297.3,437.5 298.1,438.9 299.0,440.2 299.8,441.4 300.6,442.6 301.4,443.8 302.3,444.9 303.1,446.0 303.9,447.0 304.8,448.0 305.6,448.9 306.4,449.7 307.2,450.6 308.1,451.3 308.9,452.1 309.7,452.7 310.6,453.4 311.4,453.9 312.2,454.5 313.0,455.0 313.9,455.5 314.7,455.9 315.5,456.3 316.4,456.6 317.2,457.0 318.0,457.3 318.8,457.6 319.7,457.8 320.5,458.1 321.3,458.3 322.2,458.5 323.0,458.6 323.8,458.8 324.6,458.9 325.5,459.1 326.3,459.2 327.1,459.3 328.0,459.4 328.8,459.5 329.6,459.6 330.4,459.7 331.3,459.7 332.1,459.8 332.9,459.9 333.8,459.9 334.6,460.0 335.4,460.0 336.2,460.1 337.1,460.1 337.9,460.2 338.7,460.2 339.6,460.2 340.4,460.3 341.2,460.3 342.0,460.3 342.9,460.4 343.7,460.4 344.5,460.4 345.4,460.4 346.2,460.5 347.0,460.5 347.8,460.5 348.7,460.5 349.5,460.6 350.3,460.6 351.2,460.6 352.0,460.6 352.8,460.6 353.6,460.7 354.5,460.7 355.3,460.7 356.1,460.7 357.0,460.7 357.8,460.8 358.6,460.8 359.4,460.8 360.3,460.8 361.1,460.8 361.9,460.8 362.8,460.9 363.6,460.9 364.4,460.9 365.2,460.9 366.1,460.9 366.9,460.9" fill="none" stroke="#ff1a1a" stroke-width="3.6" stroke-linejoin="round"/>
<polyline points="259.0,529.3 256.5,529.3 254.0,529.3 251.5,529.3 249.0,529.3 246.5,529.3 244.0,529.3 241.5,529.3 239.0,529.3 236.5,529.3 234.0,529.3 231.5,529.3 229.0,529.3 226.5,529.3 224.0,529.3 221.5,529.3 219.0,529.3 216.5,529.3 214.0,529.2 211.5,529.2 209.0,529.2 206.5,529.2 204.0,529.2 201.5,529.1 199.0,529.1 196.5,529.0 194.0,529.0 191.5,528.9 189.0,528.8 186.4,528.7 183.9,528.5 181.4,528.4 178.9,528.2 176.4,527.9 173.9,527.7 171.4,527.4 168.9,527.1 166.4,526.8 163.9,526.4 161.4,526.0 158.9,525.7 156.4,525.3 153.9,524.9 151.4,524.5 148.9,524.2 146.4,523.9 143.9,523.7 141.4,523.5 138.9,523.4 136.4,523.4 133.9,523.5 131.4,523.6 128.9,523.8 126.4,524.1 123.9,524.4 121.4,524.8 118.9,525.1 116.4,525.5 113.9,525.9 111.4,526.3 108.9,526.6 106.4,527.0 103.9,527.3 101.4,527.6 98.9,527.9 96.4,528.1 93.9,528.3 91.4,528.5 88.9,528.6 86.3,528.7 83.8,528.8 81.3,528.9 78.8,529.0 76.3,529.1 73.8,529.1 71.3,529.1 68.8,529.2 66.3,529.2 63.8,529.2 61.3,529.2 58.8,529.3 56.3,529.3 53.8,529.3 51.3,529.3 48.8,529.3 46.3,529.3 43.8,529.3 41.3,529.3 38.8,529.3 36.3,529.3" fill="none" stroke="#2038f8" stroke-width="2.8"/>
<polyline points="297.3,529.3 294.6,529.3 291.8,529.3 289.1,529.3 286.4,529.3 283.6,529.3 280.9,529.3 278.1,529.3 275.4,529.3 272.7,529.3 269.9,529.3 267.2,529.3 264.5,529.2 261.7,529.2 259.0,529.2 256.2,529.2 253.5,529.2 250.8,529.2 248.0,529.2 245.3,529.1 242.6,529.1 239.8,529.1 237.1,529.0 234.3,528.9 231.6,528.8 228.9,528.7 226.1,528.6 223.4,528.4 220.7,528.1 217.9,527.9 215.2,527.5 212.5,527.1 209.7,526.6 207.0,526.1 204.2,525.4 201.5,524.8 198.8,524.0 196.0,523.3 193.3,522.5 190.6,521.8 187.8,521.1 185.1,520.5 182.3,520.0 179.6,519.6 176.9,519.4 174.1,519.4 171.4,519.6 168.7,520.0 165.9,520.5 163.2,521.1 160.4,521.8 157.7,522.5 155.0,523.3 152.2,524.0 149.5,524.8 146.8,525.4 144.0,526.1 141.3,526.6 138.5,527.1 135.8,527.5 133.1,527.9 130.3,528.1 127.6,528.4 124.9,528.6 122.1,528.7 119.4,528.8 116.7,528.9 113.9,529.0 111.2,529.1 108.4,529.1 105.7,529.1 103.0,529.2 100.2,529.2 97.5,529.2 94.8,529.2 92.0,529.2 89.3,529.2 86.5,529.2 83.8,529.3 81.1,529.3 78.3,529.3 75.6,529.3 72.9,529.3 70.1,529.3 67.4,529.3 64.6,529.3 61.9,529.3 59.2,529.3 56.4,529.3 53.7,529.3" fill="none" stroke="#2038f8" stroke-width="2.8"/>
<polyline points="339.1,529.1 336.3,529.1 333.6,529.1 330.8,529.1 328.1,529.0 325.4,529.0 322.6,529.0 319.9,529.0 317.2,529.0 314.4,528.9 311.7,528.9 309.0,528.9 306.2,528.9 303.5,528.8 300.7,528.8 298.0,528.8 295.3,528.7 292.5,528.7 289.8,528.6 287.1,528.5 284.3,528.4 281.6,528.3 278.8,528.1 276.1,527.9 273.4,527.7 270.6,527.3 267.9,526.9 265.2,526.3 262.4,525.6 259.7,524.6 256.9,523.4 254.2,522.0 251.5,520.2 248.7,518.2 246.0,515.8 243.3,513.2 240.5,510.3 237.8,507.2 235.1,504.0 232.3,500.8 229.6,497.8 226.8,495.1 224.1,492.9 221.4,491.3 218.6,490.5 215.9,490.5 213.2,491.3 210.4,492.9 207.7,495.1 204.9,497.8 202.2,500.8 199.5,504.0 196.7,507.2 194.0,510.3 191.3,513.2 188.5,515.8 185.8,518.2 183.0,520.2 180.3,522.0 177.6,523.4 174.8,524.6 172.1,525.6 169.4,526.3 166.6,526.9 163.9,527.3 161.1,527.7 158.4,527.9 155.7,528.1 152.9,528.3 150.2,528.4 147.5,528.5 144.7,528.6 142.0,528.7 139.3,528.7 136.5,528.8 133.8,528.8 131.0,528.8 128.3,528.9 125.6,528.9 122.8,528.9 120.1,528.9 117.4,529.0 114.6,529.0 111.9,529.0 109.1,529.0 106.4,529.0 103.7,529.1 100.9,529.1 98.2,529.1 95.5,529.1" fill="none" stroke="#2038f8" stroke-width="2.8"/>
<polyline points="361.7,529.3 358.9,529.3 356.2,529.3 353.5,529.3 350.7,529.3 348.0,529.3 345.3,529.2 342.5,529.2 339.8,529.2 337.0,529.2 334.3,529.2 331.6,529.2 328.8,529.2 326.1,529.2 323.4,529.2 320.6,529.1 317.9,529.1 315.1,529.1 312.4,529.1 309.7,529.1 306.9,529.0 304.2,529.0 301.5,529.0 298.7,528.9 296.0,528.9 293.3,528.8 290.5,528.7 287.8,528.5 285.0,528.4 282.3,528.1 279.6,527.7 276.8,527.2 274.1,526.5 271.4,525.6 268.6,524.4 265.9,522.9 263.1,521.2 260.4,519.1 257.7,516.8 254.9,514.4 252.2,512.0 249.5,509.7 246.7,507.7 244.0,506.3 241.2,505.5 238.5,505.5 235.8,506.3 233.0,507.7 230.3,509.7 227.6,512.0 224.8,514.4 222.1,516.8 219.4,519.1 216.6,521.2 213.9,522.9 211.1,524.4 208.4,525.6 205.7,526.5 202.9,527.2 200.2,527.7 197.5,528.1 194.7,528.4 192.0,528.5 189.2,528.7 186.5,528.8 183.8,528.9 181.0,528.9 178.3,529.0 175.6,529.0 172.8,529.0 170.1,529.1 167.3,529.1 164.6,529.1 161.9,529.1 159.1,529.1 156.4,529.2 153.7,529.2 150.9,529.2 148.2,529.2 145.5,529.2 142.7,529.2 140.0,529.2 137.2,529.2 134.5,529.2 131.8,529.3 129.0,529.3 126.3,529.3 123.6,529.3 120.8,529.3 118.1,529.3" fill="none" stroke="#2038f8" stroke-width="2.8"/>
<polyline points="363.4,529.3 360.9,529.3 358.4,529.3 355.9,529.3 353.3,529.3 350.8,529.3 348.3,529.3 345.8,529.3 343.2,529.3 340.7,529.3 338.2,529.3 335.7,529.2 333.2,529.2 330.6,529.2 328.1,529.2 325.6,529.2 323.1,529.2 320.5,529.2 318.0,529.1 315.5,529.1 313.0,529.1 310.5,529.1 307.9,529.0 305.4,529.0 302.9,528.9 300.4,528.8 297.8,528.6 295.3,528.3 292.8,528.0 290.3,527.5 287.8,526.8 285.2,525.9 282.7,524.8 280.2,523.4 277.7,521.8 275.1,520.0 272.6,518.2 270.1,516.3 267.6,514.7 265.1,513.3 262.5,512.6 260.0,512.4 257.5,513.0 255.0,514.1 252.5,515.6 249.9,517.4 247.4,519.3 244.9,521.1 242.4,522.8 239.8,524.3 237.3,525.5 234.8,526.5 232.3,527.2 229.8,527.8 227.2,528.2 224.7,528.5 222.2,528.7 219.7,528.8 217.1,528.9 214.6,529.0 212.1,529.0 209.6,529.1 207.1,529.1 204.5,529.1 202.0,529.2 199.5,529.2 197.0,529.2 194.4,529.2 191.9,529.2 189.4,529.2 186.9,529.2 184.4,529.3 181.8,529.3 179.3,529.3 176.8,529.3 174.3,529.3 171.7,529.3 169.2,529.3 166.7,529.3 164.2,529.3 161.7,529.3 159.1,529.3 156.6,529.3 154.1,529.3 151.6,529.3 149.0,529.3 146.5,529.3 144.0,529.3 141.5,529.3 139.0,529.3" fill="none" stroke="#2038f8" stroke-width="2.8"/>
<polyline points="363.4,528.8 361.1,528.8 358.8,528.7 356.5,528.7 354.2,528.7 351.9,528.6 349.6,528.6 347.2,528.5 344.9,528.4 342.6,528.4 340.3,528.2 338.0,528.1 335.7,528.0 333.4,527.8 331.1,527.5 328.8,527.2 326.4,526.7 324.1,526.2 321.8,525.5 319.5,524.6 317.2,523.4 314.9,522.1 312.6,520.4 310.3,518.4 308.0,516.1 305.6,513.4 303.3,510.4 301.0,507.1 298.7,503.6 296.4,500.0 294.1,496.3 291.8,492.8 289.5,489.4 287.2,486.5 284.9,484.2 282.5,482.7 280.2,481.9 277.9,482.1 275.6,483.2 273.3,485.1 271.0,487.7 268.7,490.8 266.4,494.2 264.1,497.8 261.7,501.5 259.4,505.1 257.1,508.5 254.8,511.7 252.5,514.5 250.2,517.1 247.9,519.3 245.6,521.1 243.3,522.7 240.9,523.9 238.6,525.0 236.3,525.8 234.0,526.4 231.7,526.9 229.4,527.3 227.1,527.6 224.8,527.9 222.5,528.0 220.1,528.2 217.8,528.3 215.5,528.4 213.2,528.5 210.9,528.5 208.6,528.6 206.3,528.6 204.0,528.7 201.7,528.7 199.3,528.8 197.0,528.8 194.7,528.8 192.4,528.9 190.1,528.9 187.8,528.9 185.5,528.9 183.2,528.9 180.9,529.0 178.5,529.0 176.2,529.0 173.9,529.0 171.6,529.0 169.3,529.1 167.0,529.1 164.7,529.1 162.4,529.1 160.1,529.1 157.8,529.1" fill="none" stroke="#2038f8" stroke-width="2.8"/>
<line x1="36.5" y1="529.4" x2="349.5" y2="529.4" stroke="#2038f8" stroke-width="2.8"/>
<circle cx="36.3" cy="528.2" r="2.3" fill="none" stroke="#606060" stroke-width="0.8"/>
<circle cx="39.3" cy="528.4" r="2.3" fill="none" stroke="#606060" stroke-width="0.8"/>
<circle cx="42.2" cy="528.1" r="2.3" fill="none" stroke="#606060" stroke-width="0.8"/>
<circle cx="45.2" cy="528.2" r="2.3" fill="none" stroke="#606060" stroke-width="0.8"/>
<circle cx="48.1" cy="529.1" r="2.3" fill="none" stroke="#606060" stroke-width="0.8"/>
<circle cx="51.1" cy="528.3" r="2.3" fill="none" stroke="#606060" stroke-width="0.8"/>
<circle cx="54.0" cy="529.1" r="2.3" fill="none" stroke="#606060" stroke-width="0.8"/>
<circle cx="57.0" cy="529.1" r="2.3" fill="none" stroke="#606060" stroke-width="0.8"/>
<circle cx="60.0" cy="530.4" r="2.3" fill="none" stroke="#606060" stroke-width="0.8"/>
<circle cx="62.9" cy="527.7" r="2.3" fill="none" stroke="#606060" stroke-width="0.8"/>
<circle cx="65.9" cy="529.4" r="2.3" fill="none" stroke="#606060" stroke-width="0.8"/>
<circle cx="68.8" cy="528.6" r="2.3" fill="none" stroke="#606060" stroke-width="0.8"/>
<circle cx="71.8" cy="528.6" r="2.3" fill="none" stroke="#606060" stroke-width="0.8"/>
<circle cx="74.8" cy="527.4" r="2.3" fill="none" stroke="#606060" stroke-width="0.8"/>
<circle cx="77.7" cy="528.1" r="2.3" fill="none" stroke="#606060" stroke-width="0.8"/>
<circle cx="80.7" cy="529.0" r="2.3" fill="none" stroke="#606060" stroke-width="0.8"/>
<circle cx="83.6" cy="528.2" r="2.3" fill="none" stroke="#606060" stroke-width="0.8"/>
<circle cx="86.6" cy="528.2" r="2.3" fill="none" stroke="#606060" stroke-width="0.8"/>
<circle cx="89.5" cy="527.7" r="2.3" fill="none" stroke="#606060" stroke-width="0.8"/>
<circle cx="92.5" cy="528.6" r="2.3" fill="none" stroke="#606060" stroke-width="0.8"/>
<circle cx="95.5" cy="527.4" r="2.3" fill="none" stroke="#606060" stroke-width="0.8"/>
<circle cx="98.4" cy="525.4" r="2.3" fill="none" stroke="#606060" stroke-width="0.8"/>
<circle cx="101.4" cy="526.2" r="2.3" fill="none" stroke="#606060" stroke-width="0.8"/>
<circle cx="104.3" cy="524.8" r="2.3" fill="none" stroke="#606060" stroke-width="0.8"/>
<circle cx="107.3" cy="523.3" r="2.3" fill="none" stroke="#606060" stroke-width="0.8"/>
<circle cx="110.2" cy="525.0" r="2.3" fill="none" stroke="#606060" stroke-width="0.8"/>
<circle cx="113.2" cy="526.0" r="2.3" fill="none" stroke="#606060" stroke-width="0.8"/>
<circle cx="116.2" cy="524.4" r="2.3" fill="none" stroke="#606060" stroke-width="0.8"/>
<circle cx="119.1" cy="522.8" r="2.3" fill="none" stroke="#606060" stroke-width="0.8"/>
<circle cx="122.1" cy="522.4" r="2.3" fill="none" stroke="#606060" stroke-width="0.8"/>
<circle cx="125.0" cy="523.5" r="2.3" fill="none" stroke="#606060" stroke-width="0.8"/>
<circle cx="128.0" cy="522.1" r="2.3" fill="none" stroke="#606060" stroke-width="0.8"/>
<circle cx="131.0" cy="521.4" r="2.3" fill="none" stroke="#606060" stroke-width="0.8"/>
<circle cx="133.9" cy="520.8" r="2.3" fill="none" stroke="#606060" stroke-width="0.8"/>
<circle cx="136.9" cy="520.3" r="2.3" fill="none" stroke="#606060" stroke-width="0.8"/>
<circle cx="139.8" cy="520.4" r="2.3" fill="none" stroke="#606060" stroke-width="0.8"/>
<circle cx="142.8" cy="519.7" r="2.3" fill="none" stroke="#606060" stroke-width="0.8"/>
<circle cx="145.7" cy="519.0" r="2.3" fill="none" stroke="#606060" stroke-width="0.8"/>
<circle cx="148.7" cy="517.5" r="2.3" fill="none" stroke="#606060" stroke-width="0.8"/>
<circle cx="151.7" cy="518.2" r="2.3" fill="none" stroke="#606060" stroke-width="0.8"/>
<circle cx="154.6" cy="516.7" r="2.3" fill="none" stroke="#606060" stroke-width="0.8"/>
<circle cx="157.6" cy="517.5" r="2.3" fill="none" stroke="#606060" stroke-width="0.8"/>
<circle cx="160.5" cy="514.9" r="2.3" fill="none" stroke="#606060" stroke-width="0.8"/>
<circle cx="163.5" cy="515.2" r="2.3" fill="none" stroke="#606060" stroke-width="0.8"/>
<circle cx="166.5" cy="514.5" r="2.3" fill="none" stroke="#606060" stroke-width="0.8"/>
<circle cx="169.4" cy="512.7" r="2.3" fill="none" stroke="#606060" stroke-width="0.8"/>
<circle cx="172.4" cy="514.3" r="2.3" fill="none" stroke="#606060" stroke-width="0.8"/>
<circle cx="175.3" cy="513.1" r="2.3" fill="none" stroke="#606060" stroke-width="0.8"/>
<circle cx="178.3" cy="510.5" r="2.3" fill="none" stroke="#606060" stroke-width="0.8"/>
<circle cx="181.2" cy="510.3" r="2.3" fill="none" stroke="#606060" stroke-width="0.8"/>
<circle cx="184.2" cy="508.6" r="2.3" fill="none" stroke="#606060" stroke-width="0.8"/>
<circle cx="187.2" cy="504.5" r="2.3" fill="none" stroke="#606060" stroke-width="0.8"/>
<circle cx="190.1" cy="504.7" r="2.3" fill="none" stroke="#606060" stroke-width="0.8"/>
<circle cx="193.1" cy="502.1" r="2.3" fill="none" stroke="#606060" stroke-width="0.8"/>
<circle cx="196.0" cy="499.6" r="2.3" fill="none" stroke="#606060" stroke-width="0.8"/>
<circle cx="199.0" cy="495.7" r="2.3" fill="none" stroke="#606060" stroke-width="0.8"/>
<circle cx="201.9" cy="493.2" r="2.3" fill="none" stroke="#606060" stroke-width="0.8"/>
<circle cx="204.9" cy="490.0" r="2.3" fill="none" stroke="#606060" stroke-width="0.8"/>
<circle cx="207.9" cy="487.8" r="2.3" fill="none" stroke="#606060" stroke-width="0.8"/>
<circle cx="210.8" cy="484.1" r="2.3" fill="none" stroke="#606060" stroke-width="0.8"/>
<circle cx="213.8" cy="481.0" r="2.3" fill="none" stroke="#606060" stroke-width="0.8"/>
<circle cx="216.7" cy="479.9" r="2.3" fill="none" stroke="#606060" stroke-width="0.8"/>
<circle cx="219.7" cy="476.5" r="2.3" fill="none" stroke="#606060" stroke-width="0.8"/>
<circle cx="222.7" cy="475.3" r="2.3" fill="none" stroke="#606060" stroke-width="0.8"/>
<circle cx="225.6" cy="473.4" r="2.3" fill="none" stroke="#606060" stroke-width="0.8"/>
<circle cx="228.6" cy="475.6" r="2.3" fill="none" stroke="#606060" stroke-width="0.8"/>
<circle cx="231.5" cy="475.0" r="2.3" fill="none" stroke="#606060" stroke-width="0.8"/>
<circle cx="234.5" cy="475.1" r="2.3" fill="none" stroke="#606060" stroke-width="0.8"/>
<circle cx="237.4" cy="475.2" r="2.3" fill="none" stroke="#606060" stroke-width="0.8"/>
<circle cx="240.4" cy="475.2" r="2.3" fill="none" stroke="#606060" stroke-width="0.8"/>
<circle cx="243.4" cy="475.7" r="2.3" fill="none" stroke="#606060" stroke-width="0.8"/>
<circle cx="246.3" cy="475.5" r="2.3" fill="none" stroke="#606060" stroke-width="0.8"/>
<circle cx="249.3" cy="475.3" r="2.3" fill="none" stroke="#606060" stroke-width="0.8"/>
<circle cx="252.2" cy="474.9" r="2.3" fill="none" stroke="#606060" stroke-width="0.8"/>
<circle cx="255.2" cy="475.1" r="2.3" fill="none" stroke="#606060" stroke-width="0.8"/>
<circle cx="258.1" cy="473.0" r="2.3" fill="none" stroke="#606060" stroke-width="0.8"/>
<circle cx="261.1" cy="471.2" r="2.3" fill="none" stroke="#606060" stroke-width="0.8"/>
<circle cx="264.1" cy="469.7" r="2.3" fill="none" stroke="#606060" stroke-width="0.8"/>
<circle cx="267.0" cy="468.9" r="2.3" fill="none" stroke="#606060" stroke-width="0.8"/>
<circle cx="270.0" cy="470.4" r="2.3" fill="none" stroke="#606060" stroke-width="0.8"/>
<circle cx="272.9" cy="469.7" r="2.3" fill="none" stroke="#606060" stroke-width="0.8"/>
<circle cx="275.9" cy="470.2" r="2.3" fill="none" stroke="#606060" stroke-width="0.8"/>
<circle cx="278.9" cy="471.6" r="2.3" fill="none" stroke="#606060" stroke-width="0.8"/>
<circle cx="281.8" cy="473.8" r="2.3" fill="none" stroke="#606060" stroke-width="0.8"/>
<circle cx="284.8" cy="478.3" r="2.3" fill="none" stroke="#606060" stroke-width="0.8"/>
<circle cx="287.7" cy="483.5" r="2.3" fill="none" stroke="#606060" stroke-width="0.8"/>
<circle cx="290.7" cy="487.4" r="2.3" fill="none" stroke="#606060" stroke-width="0.8"/>
<circle cx="293.6" cy="492.7" r="2.3" fill="none" stroke="#606060" stroke-width="0.8"/>
<circle cx="296.6" cy="497.9" r="2.3" fill="none" stroke="#606060" stroke-width="0.8"/>
<circle cx="299.6" cy="503.1" r="2.3" fill="none" stroke="#606060" stroke-width="0.8"/>
<circle cx="302.5" cy="506.3" r="2.3" fill="none" stroke="#606060" stroke-width="0.8"/>
<circle cx="305.5" cy="511.5" r="2.3" fill="none" stroke="#606060" stroke-width="0.8"/>
<circle cx="308.4" cy="514.5" r="2.3" fill="none" stroke="#606060" stroke-width="0.8"/>
<circle cx="311.4" cy="518.9" r="2.3" fill="none" stroke="#606060" stroke-width="0.8"/>
<circle cx="314.4" cy="519.9" r="2.3" fill="none" stroke="#606060" stroke-width="0.8"/>
<circle cx="317.3" cy="522.9" r="2.3" fill="none" stroke="#606060" stroke-width="0.8"/>
<circle cx="320.3" cy="525.1" r="2.3" fill="none" stroke="#606060" stroke-width="0.8"/>
<circle cx="323.2" cy="524.7" r="2.3" fill="none" stroke="#606060" stroke-width="0.8"/>
<circle cx="326.2" cy="525.3" r="2.3" fill="none" stroke="#606060" stroke-width="0.8"/>
<circle cx="329.1" cy="526.6" r="2.3" fill="none" stroke="#606060" stroke-width="0.8"/>
<circle cx="332.1" cy="526.9" r="2.3" fill="none" stroke="#606060" stroke-width="0.8"/>
<circle cx="335.1" cy="526.4" r="2.3" fill="none" stroke="#606060" stroke-width="0.8"/>
<circle cx="338.0" cy="527.8" r="2.3" fill="none" stroke="#606060" stroke-width="0.8"/>
<circle cx="341.0" cy="529.2" r="2.3" fill="none" stroke="#606060" stroke-width="0.8"/>
<circle cx="343.9" cy="527.6" r="2.3" fill="none" stroke="#606060" stroke-width="0.8"/>
<circle cx="346.9" cy="527.7" r="2.3" fill="none" stroke="#606060" stroke-width="0.8"/>
<circle cx="349.8" cy="527.2" r="2.3" fill="none" stroke="#606060" stroke-width="0.8"/>
<circle cx="352.8" cy="528.4" r="2.3" fill="none" stroke="#606060" stroke-width="0.8"/>
<circle cx="355.8" cy="527.2" r="2.3" fill="none" stroke="#606060" stroke-width="0.8"/>
<circle cx="358.7" cy="527.4" r="2.3" fill="none" stroke="#606060" stroke-width="0.8"/>
<circle cx="361.7" cy="529.3" r="2.3" fill="none" stroke="#606060" stroke-width="0.8"/>
<circle cx="364.6" cy="527.7" r="2.3" fill="none" stroke="#606060" stroke-width="0.8"/>
<circle cx="367.6" cy="529.3" r="2.3" fill="none" stroke="#606060" stroke-width="0.8"/>
<polyline points="36.3,529.0 37.1,529.0 38.0,529.0 38.8,529.0 39.6,529.0 40.4,529.0 41.3,528.9 42.1,528.9 42.9,528.9 43.8,528.9 44.6,528.9 45.4,528.9 46.2,528.9 47.1,528.9 47.9,528.9 48.7,528.9 49.6,528.9 50.4,528.9 51.2,528.9 52.0,528.9 52.9,528.9 53.7,528.9 54.5,528.9 55.4,528.8 56.2,528.8 57.0,528.8 57.8,528.8 58.7,528.8 59.5,528.8 60.3,528.8 61.2,528.8 62.0,528.8 62.8,528.8 63.6,528.8 64.5,528.8 65.3,528.7 66.1,528.7 67.0,528.7 67.8,528.7 68.6,528.7 69.4,528.7 70.3,528.7 71.1,528.6 71.9,528.6 72.8,528.6 73.6,528.6 74.4,528.6 75.2,528.5 76.1,528.5 76.9,528.5 77.7,528.5 78.6,528.4 79.4,528.4 80.2,528.4 81.0,528.4 81.9,528.3 82.7,528.3 83.5,528.3 84.4,528.2 85.2,528.2 86.0,528.1 86.8,528.1 87.7,528.0 88.5,528.0 89.3,527.9 90.2,527.9 91.0,527.8 91.8,527.7 92.6,527.7 93.5,527.6 94.3,527.5 95.1,527.5 96.0,527.4 96.8,527.3 97.6,527.2 98.4,527.1 99.3,527.0 100.1,526.9 100.9,526.8 101.8,526.7 102.6,526.6 103.4,526.5 104.2,526.4 105.1,526.3 105.9,526.1 106.7,526.0 107.6,525.9 108.4,525.8 109.2,525.6 110.0,525.5 110.9,525.3 111.7,525.2 112.5,525.0 113.4,524.9 114.2,524.7 115.0,524.6 115.8,524.4 116.7,524.3 117.5,524.1 118.3,523.9 119.2,523.8 120.0,523.6 120.8,523.4 121.6,523.3 122.5,523.1 123.3,522.9 124.1,522.7 125.0,522.6 125.8,522.4 126.6,522.2 127.4,522.1 128.3,521.9 129.1,521.7 129.9,521.6 130.8,521.4 131.6,521.2 132.4,521.1 133.2,520.9 134.1,520.8 134.9,520.6 135.7,520.5 136.6,520.3 137.4,520.2 138.2,520.0 139.0,519.9 139.9,519.8 140.7,519.6 141.5,519.5 142.4,519.3 143.2,519.2 144.0,519.1 144.8,518.9 145.7,518.8 146.5,518.7 147.3,518.5 148.2,518.4 149.0,518.2 149.8,518.1 150.6,517.9 151.5,517.8 152.3,517.6 153.1,517.5 154.0,517.3 154.8,517.2 155.6,517.0 156.4,516.8 157.3,516.7 158.1,516.5 158.9,516.3 159.8,516.1 160.6,515.9 161.4,515.8 162.2,515.6 163.1,515.4 163.9,515.2 164.7,515.0 165.6,514.7 166.4,514.5 167.2,514.3 168.0,514.1 168.9,513.9 169.7,513.6 170.5,513.4 171.4,513.2 172.2,512.9 173.0,512.7 173.8,512.4 174.7,512.2 175.5,511.9 176.3,511.6 177.2,511.3 178.0,511.0 178.8,510.7 179.6,510.4 180.5,510.0 181.3,509.7 182.1,509.3 183.0,508.9 183.8,508.5 184.6,508.0 185.4,507.6 186.3,507.1 187.1,506.6 187.9,506.1 188.8,505.5 189.6,504.9 190.4,504.3 191.2,503.7 192.1,503.0 192.9,502.3 193.7,501.6 194.6,500.9 195.4,500.1 196.2,499.3 197.0,498.5 197.9,497.7 198.7,496.9 199.5,496.0 200.4,495.1 201.2,494.2 202.0,493.3 202.8,492.4 203.7,491.5 204.5,490.6 205.3,489.7 206.2,488.8 207.0,487.8 207.8,486.9 208.6,486.1 209.5,485.2 210.3,484.3 211.1,483.5 212.0,482.7 212.8,481.9 213.6,481.2 214.4,480.5 215.3,479.8 216.1,479.2 216.9,478.6 217.8,478.0 218.6,477.5 219.4,477.1 220.2,476.6 221.1,476.3 221.9,475.9 222.7,475.6 223.6,475.3 224.4,475.1 225.2,474.9 226.0,474.7 226.9,474.6 227.7,474.5 228.5,474.4 229.4,474.3 230.2,474.3 231.0,474.3 231.8,474.3 232.7,474.3 233.5,474.3 234.3,474.4 235.2,474.4 236.0,474.5 236.8,474.6 237.6,474.7 238.5,474.8 239.3,474.9 240.1,475.0 241.0,475.2 241.8,475.3 242.6,475.4 243.4,475.5 244.3,475.6 245.1,475.6 245.9,475.7 246.8,475.7 247.6,475.7 248.4,475.6 249.2,475.5 250.1,475.4 250.9,475.2 251.7,475.0 252.6,474.8 253.4,474.5 254.2,474.2 255.0,473.9 255.9,473.6 256.7,473.2 257.5,472.8 258.4,472.5 259.2,472.1 260.0,471.7 260.8,471.4 261.7,471.0 262.5,470.7 263.3,470.4 264.2,470.2 265.0,469.9 265.8,469.7 266.6,469.5 267.5,469.3 268.3,469.2 269.1,469.1 270.0,469.1 270.8,469.1 271.6,469.1 272.4,469.2 273.3,469.3 274.1,469.5 274.9,469.8 275.8,470.1 276.6,470.5 277.4,470.9 278.2,471.5 279.1,472.1 279.9,472.8 280.7,473.5 281.6,474.4 282.4,475.3 283.2,476.3 284.0,477.3 284.9,478.5 285.7,479.6 286.5,480.9 287.4,482.2 288.2,483.5 289.0,484.8 289.8,486.2 290.7,487.7 291.5,489.1 292.3,490.6 293.2,492.0 294.0,493.5 294.8,494.9 295.6,496.4 296.5,497.8 297.3,499.2 298.1,500.6 299.0,502.0 299.8,503.4 300.6,504.7 301.4,506.0 302.3,507.2 303.1,508.4 303.9,509.6 304.8,510.7 305.6,511.8 306.4,512.9 307.2,513.9 308.1,514.8 308.9,515.7 309.7,516.6 310.6,517.4 311.4,518.1 312.2,518.9 313.0,519.6 313.9,520.2 314.7,520.8 315.5,521.4 316.4,521.9 317.2,522.4 318.0,522.8 318.8,523.2 319.7,523.6 320.5,524.0 321.3,524.3 322.2,524.6 323.0,524.9 323.8,525.2 324.6,525.4 325.5,525.6 326.3,525.8 327.1,526.0 328.0,526.2 328.8,526.3 329.6,526.5 330.4,526.6 331.3,526.7 332.1,526.9 332.9,527.0 333.8,527.0 334.6,527.1 335.4,527.2 336.2,527.3 337.1,527.4 337.9,527.4 338.7,527.5 339.6,527.5 340.4,527.6 341.2,527.6 342.0,527.7 342.9,527.7 343.7,527.8 344.5,527.8 345.4,527.8 346.2,527.9 347.0,527.9 347.8,527.9 348.7,528.0 349.5,528.0 350.3,528.0 351.2,528.0 352.0,528.1 352.8,528.1 353.6,528.1 354.5,528.1 355.3,528.2 356.1,528.2 357.0,528.2 357.8,528.2 358.6,528.2 359.4,528.3 360.3,528.3 361.1,528.3 361.9,528.3 362.8,528.3 363.6,528.4 364.4,528.4 365.2,528.4 366.1,528.4 366.9,528.4" fill="none" stroke="#ff1a1a" stroke-width="3.6" stroke-linejoin="round"/>
<polyline points="259.0,597.2 256.5,597.2 254.0,597.2 251.5,597.2 249.0,597.2 246.5,597.2 244.0,597.2 241.5,597.2 239.0,597.2 236.5,597.2 234.0,597.2 231.5,597.2 229.0,597.2 226.5,597.2 224.0,597.2 221.5,597.2 219.0,597.2 216.5,597.2 214.0,597.2 211.5,597.2 209.0,597.1 206.5,597.1 204.0,597.1 201.5,597.1 199.0,597.0 196.5,597.0 194.0,596.9 191.5,596.9 189.0,596.8 186.4,596.7 183.9,596.6 181.4,596.4 178.9,596.3 176.4,596.1 173.9,595.9 171.4,595.6 168.9,595.4 166.4,595.1 163.9,594.8 161.4,594.5 158.9,594.2 156.4,593.9 153.9,593.5 151.4,593.2 148.9,593.0 146.4,592.7 143.9,592.5 141.4,592.4 138.9,592.3 136.4,592.3 133.9,592.4 131.4,592.5 128.9,592.7 126.4,592.9 123.9,593.1 121.4,593.4 118.9,593.7 116.4,594.1 113.9,594.4 111.4,594.7 108.9,595.0 106.4,595.3 103.9,595.6 101.4,595.8 98.9,596.0 96.4,596.2 93.9,596.4 91.4,596.5 88.9,596.6 86.3,596.8 83.8,596.8 81.3,596.9 78.8,597.0 76.3,597.0 73.8,597.1 71.3,597.1 68.8,597.1 66.3,597.1 63.8,597.2 61.3,597.2 58.8,597.2 56.3,597.2 53.8,597.2 51.3,597.2 48.8,597.2 46.3,597.2 43.8,597.2 41.3,597.2 38.8,597.2 36.3,597.2" fill="none" stroke="#2038f8" stroke-width="2.8"/>
<polyline points="297.3,597.2 294.6,597.2 291.8,597.2 289.1,597.2 286.4,597.2 283.6,597.2 280.9,597.2 278.1,597.2 275.4,597.2 272.7,597.2 269.9,597.2 267.2,597.2 264.5,597.2 261.7,597.2 259.0,597.2 256.2,597.1 253.5,597.1 250.8,597.1 248.0,597.1 245.3,597.1 242.6,597.1 239.8,597.0 237.1,597.0 234.3,596.9 231.6,596.8 228.9,596.8 226.1,596.6 223.4,596.5 220.7,596.3 217.9,596.1 215.2,595.8 212.5,595.5 209.7,595.1 207.0,594.6 204.2,594.1 201.5,593.6 198.8,593.0 196.0,592.4 193.3,591.8 190.6,591.2 187.8,590.6 185.1,590.2 182.3,589.8 179.6,589.5 176.9,589.3 174.1,589.3 171.4,589.5 168.7,589.8 165.9,590.2 163.2,590.6 160.4,591.2 157.7,591.8 155.0,592.4 152.2,593.0 149.5,593.6 146.8,594.1 144.0,594.6 141.3,595.1 138.5,595.5 135.8,595.8 133.1,596.1 130.3,596.3 127.6,596.5 124.9,596.6 122.1,596.8 119.4,596.8 116.7,596.9 113.9,597.0 111.2,597.0 108.4,597.1 105.7,597.1 103.0,597.1 100.2,597.1 97.5,597.1 94.8,597.1 92.0,597.2 89.3,597.2 86.5,597.2 83.8,597.2 81.1,597.2 78.3,597.2 75.6,597.2 72.9,597.2 70.1,597.2 67.4,597.2 64.6,597.2 61.9,597.2 59.2,597.2 56.4,597.2 53.7,597.2" fill="none" stroke="#2038f8" stroke-width="2.8"/>
<polyline points="335.6,597.1 332.8,597.1 330.1,597.1 327.4,597.1 324.6,597.1 321.9,597.1 319.2,597.1 316.4,597.0 313.7,597.0 310.9,597.0 308.2,597.0 305.5,597.0 302.7,597.0 300.0,596.9 297.3,596.9 294.5,596.9 291.8,596.9 289.0,596.8 286.3,596.8 283.6,596.7 280.8,596.7 278.1,596.6 275.4,596.5 272.6,596.4 269.9,596.2 267.2,596.0 264.4,595.7 261.7,595.3 258.9,594.8 256.2,594.2 253.5,593.5 250.7,592.5 248.0,591.4 245.3,590.1 242.5,588.6 239.8,586.9 237.0,585.0 234.3,583.0 231.6,581.0 228.8,579.0 226.1,577.1 223.4,575.3 220.6,573.9 217.9,572.9 215.1,572.4 212.4,572.4 209.7,572.9 206.9,573.9 204.2,575.3 201.5,577.1 198.7,579.0 196.0,581.0 193.3,583.0 190.5,585.0 187.8,586.9 185.0,588.6 182.3,590.1 179.6,591.4 176.8,592.5 174.1,593.5 171.4,594.2 168.6,594.8 165.9,595.3 163.1,595.7 160.4,596.0 157.7,596.2 154.9,596.4 152.2,596.5 149.5,596.6 146.7,596.7 144.0,596.7 141.2,596.8 138.5,596.8 135.8,596.9 133.0,596.9 130.3,596.9 127.6,596.9 124.8,597.0 122.1,597.0 119.4,597.0 116.6,597.0 113.9,597.0 111.1,597.0 108.4,597.1 105.7,597.1 102.9,597.1 100.2,597.1 97.5,597.1 94.7,597.1 92.0,597.1" fill="none" stroke="#2038f8" stroke-width="2.8"/>
<polyline points="359.2,597.2 356.5,597.2 353.8,597.2 351.0,597.1 348.3,597.1 345.6,597.1 342.8,597.1 340.1,597.1 337.3,597.1 334.6,597.1 331.9,597.1 329.1,597.1 326.4,597.1 323.7,597.0 320.9,597.0 318.2,597.0 315.5,597.0 312.7,597.0 310.0,596.9 307.2,596.9 304.5,596.9 301.8,596.8 299.0,596.8 296.3,596.7 293.6,596.7 290.8,596.6 288.1,596.5 285.3,596.3 282.6,596.1 279.9,595.8 277.1,595.4 274.4,594.8 271.7,594.0 268.9,592.9 266.2,591.6 263.4,589.9 260.7,587.9 258.0,585.5 255.2,582.9 252.5,580.2 249.8,577.4 247.0,574.7 244.3,572.5 241.5,570.8 238.8,569.9 236.1,569.9 233.3,570.8 230.6,572.5 227.9,574.7 225.1,577.4 222.4,580.2 219.7,582.9 216.9,585.5 214.2,587.9 211.4,589.9 208.7,591.6 206.0,592.9 203.2,594.0 200.5,594.8 197.8,595.4 195.0,595.8 192.3,596.1 189.5,596.3 186.8,596.5 184.1,596.6 181.3,596.7 178.6,596.7 175.9,596.8 173.1,596.8 170.4,596.9 167.6,596.9 164.9,596.9 162.2,597.0 159.4,597.0 156.7,597.0 154.0,597.0 151.2,597.0 148.5,597.1 145.8,597.1 143.0,597.1 140.3,597.1 137.5,597.1 134.8,597.1 132.1,597.1 129.3,597.1 126.6,597.1 123.9,597.1 121.1,597.2 118.4,597.2 115.6,597.2" fill="none" stroke="#2038f8" stroke-width="2.8"/>
<polyline points="363.4,597.2 360.9,597.2 358.3,597.2 355.8,597.2 353.3,597.2 350.7,597.2 348.2,597.2 345.6,597.2 343.1,597.1 340.5,597.1 338.0,597.1 335.5,597.1 332.9,597.1 330.4,597.1 327.8,597.1 325.3,597.1 322.8,597.0 320.2,597.0 317.7,597.0 315.1,597.0 312.6,596.9 310.0,596.9 307.5,596.8 305.0,596.8 302.4,596.7 299.9,596.6 297.3,596.4 294.8,596.1 292.3,595.8 289.7,595.2 287.2,594.5 284.6,593.5 282.1,592.3 279.5,590.7 277.0,588.8 274.5,586.7 271.9,584.4 269.4,582.0 266.8,579.9 264.3,578.0 261.8,576.8 259.2,576.3 256.7,576.7 254.1,577.8 251.6,579.5 249.0,581.7 246.5,584.0 244.0,586.3 241.4,588.5 238.9,590.4 236.3,592.1 233.8,593.4 231.3,594.4 228.7,595.1 226.2,595.7 223.6,596.1 221.1,596.4 218.6,596.6 216.0,596.7 213.5,596.8 210.9,596.8 208.4,596.9 205.8,596.9 203.3,597.0 200.8,597.0 198.2,597.0 195.7,597.0 193.1,597.1 190.6,597.1 188.1,597.1 185.5,597.1 183.0,597.1 180.4,597.1 177.9,597.1 175.3,597.1 172.8,597.2 170.3,597.2 167.7,597.2 165.2,597.2 162.6,597.2 160.1,597.2 157.6,597.2 155.0,597.2 152.5,597.2 149.9,597.2 147.4,597.2 144.8,597.2 142.3,597.2 139.8,597.2 137.2,597.2" fill="none" stroke="#2038f8" stroke-width="2.8"/>
<polyline points="363.4,596.8 361.1,596.8 358.8,596.8 356.5,596.7 354.1,596.7 351.8,596.6 349.5,596.6 347.2,596.6 344.8,596.5 342.5,596.4 340.2,596.4 337.9,596.3 335.5,596.1 333.2,596.0 330.9,595.8 328.6,595.5 326.3,595.2 323.9,594.7 321.6,594.2 319.3,593.5 317.0,592.6 314.6,591.4 312.3,590.1 310.0,588.5 307.7,586.6 305.4,584.3 303.0,581.9 300.7,579.1 298.4,576.2 296.1,573.1 293.7,569.9 291.4,566.8 289.1,563.9 286.8,561.2 284.5,559.1 282.1,557.6 279.8,556.7 277.5,556.7 275.2,557.4 272.8,558.9 270.5,561.0 268.2,563.5 265.9,566.4 263.5,569.5 261.2,572.7 258.9,575.8 256.6,578.8 254.3,581.6 251.9,584.1 249.6,586.3 247.3,588.3 245.0,589.9 242.6,591.3 240.3,592.4 238.0,593.4 235.7,594.1 233.4,594.7 231.0,595.1 228.7,595.5 226.4,595.7 224.1,596.0 221.7,596.1 219.4,596.2 217.1,596.3 214.8,596.4 212.5,596.5 210.1,596.5 207.8,596.6 205.5,596.6 203.2,596.7 200.8,596.7 198.5,596.7 196.2,596.8 193.9,596.8 191.5,596.8 189.2,596.9 186.9,596.9 184.6,596.9 182.3,596.9 179.9,596.9 177.6,596.9 175.3,597.0 173.0,597.0 170.6,597.0 168.3,597.0 166.0,597.0 163.7,597.0 161.4,597.0 159.0,597.0 156.7,597.1" fill="none" stroke="#2038f8" stroke-width="2.8"/>
<line x1="36.5" y1="597.3" x2="349.5" y2="597.3" stroke="#2038f8" stroke-width="2.8"/>
<circle cx="36.3" cy="598.2" r="2.3" fill="none" stroke="#606060" stroke-width="0.8"/>
<circle cx="39.3" cy="597.1" r="2.3" fill="none" stroke="#606060" stroke-width="0.8"/>
<circle cx="42.2" cy="597.4" r="2.3" fill="none" stroke="#606060" stroke-width="0.8"/>
<circle cx="45.2" cy="598.5" r="2.3" fill="none" stroke="#606060" stroke-width="0.8"/>
<circle cx="48.1" cy="596.7" r="2.3" fill="none" stroke="#606060" stroke-width="0.8"/>
<circle cx="51.1" cy="596.4" r="2.3" fill="none" stroke="#606060" stroke-width="0.8"/>
<circle cx="54.0" cy="595.8" r="2.3" fill="none" stroke="#606060" stroke-width="0.8"/>
<circle cx="57.0" cy="596.9" r="2.3" fill="none" stroke="#606060" stroke-width="0.8"/>
<circle cx="60.0" cy="598.0" r="2.3" fill="none" stroke="#606060" stroke-width="0.8"/>
<circle cx="62.9" cy="597.5" r="2.3" fill="none" stroke="#606060" stroke-width="0.8"/>
<circle cx="65.9" cy="596.0" r="2.3" fill="none" stroke="#606060" stroke-width="0.8"/>
<circle cx="68.8" cy="596.0" r="2.3" fill="none" stroke="#606060" stroke-width="0.8"/>
<circle cx="71.8" cy="596.3" r="2.3" fill="none" stroke="#606060" stroke-width="0.8"/>
<circle cx="74.8" cy="596.8" r="2.3" fill="none" stroke="#606060" stroke-width="0.8"/>
<circle cx="77.7" cy="596.4" r="2.3" fill="none" stroke="#606060" stroke-width="0.8"/>
<circle cx="80.7" cy="596.6" r="2.3" fill="none" stroke="#606060" stroke-width="0.8"/>
<circle cx="83.6" cy="596.6" r="2.3" fill="none" stroke="#606060" stroke-width="0.8"/>
<circle cx="86.6" cy="596.0" r="2.3" fill="none" stroke="#606060" stroke-width="0.8"/>
<circle cx="89.5" cy="596.0" r="2.3" fill="none" stroke="#606060" stroke-width="0.8"/>
<circle cx="92.5" cy="596.0" r="2.3" fill="none" stroke="#606060" stroke-width="0.8"/>
<circle cx="95.5" cy="595.6" r="2.3" fill="none" stroke="#606060" stroke-width="0.8"/>
<circle cx="98.4" cy="595.8" r="2.3" fill="none" stroke="#606060" stroke-width="0.8"/>
<circle cx="101.4" cy="596.6" r="2.3" fill="none" stroke="#606060" stroke-width="0.8"/>
<circle cx="104.3" cy="595.3" r="2.3" fill="none" stroke="#606060" stroke-width="0.8"/>
<circle cx="107.3" cy="594.5" r="2.3" fill="none" stroke="#606060" stroke-width="0.8"/>
<circle cx="110.2" cy="592.7" r="2.3" fill="none" stroke="#606060" stroke-width="0.8"/>
<circle cx="113.2" cy="593.9" r="2.3" fill="none" stroke="#606060" stroke-width="0.8"/>
<circle cx="116.2" cy="591.5" r="2.3" fill="none" stroke="#606060" stroke-width="0.8"/>
<circle cx="119.1" cy="591.5" r="2.3" fill="none" stroke="#606060" stroke-width="0.8"/>
<circle cx="122.1" cy="592.8" r="2.3" fill="none" stroke="#606060" stroke-width="0.8"/>
<circle cx="125.0" cy="592.2" r="2.3" fill="none" stroke="#606060" stroke-width="0.8"/>
<circle cx="128.0" cy="591.0" r="2.3" fill="none" stroke="#606060" stroke-width="0.8"/>
<circle cx="131.0" cy="589.3" r="2.3" fill="none" stroke="#606060" stroke-width="0.8"/>
<circle cx="133.9" cy="589.9" r="2.3" fill="none" stroke="#606060" stroke-width="0.8"/>
<circle cx="136.9" cy="589.2" r="2.3" fill="none" stroke="#606060" stroke-width="0.8"/>
<circle cx="139.8" cy="589.9" r="2.3" fill="none" stroke="#606060" stroke-width="0.8"/>
<circle cx="142.8" cy="590.8" r="2.3" fill="none" stroke="#606060" stroke-width="0.8"/>
<circle cx="145.7" cy="588.7" r="2.3" fill="none" stroke="#606060" stroke-width="0.8"/>
<circle cx="148.7" cy="587.5" r="2.3" fill="none" stroke="#606060" stroke-width="0.8"/>
<circle cx="151.7" cy="586.8" r="2.3" fill="none" stroke="#606060" stroke-width="0.8"/>
<circle cx="154.6" cy="587.2" r="2.3" fill="none" stroke="#606060" stroke-width="0.8"/>
<circle cx="157.6" cy="586.6" r="2.3" fill="none" stroke="#606060" stroke-width="0.8"/>
<circle cx="160.5" cy="585.3" r="2.3" fill="none" stroke="#606060" stroke-width="0.8"/>
<circle cx="163.5" cy="585.7" r="2.3" fill="none" stroke="#606060" stroke-width="0.8"/>
<circle cx="166.5" cy="584.1" r="2.3" fill="none" stroke="#606060" stroke-width="0.8"/>
<circle cx="169.4" cy="585.2" r="2.3" fill="none" stroke="#606060" stroke-width="0.8"/>
<circle cx="172.4" cy="584.4" r="2.3" fill="none" stroke="#606060" stroke-width="0.8"/>
<circle cx="175.3" cy="583.6" r="2.3" fill="none" stroke="#606060" stroke-width="0.8"/>
<circle cx="178.3" cy="581.5" r="2.3" fill="none" stroke="#606060" stroke-width="0.8"/>
<circle cx="181.2" cy="581.3" r="2.3" fill="none" stroke="#606060" stroke-width="0.8"/>
<circle cx="184.2" cy="579.7" r="2.3" fill="none" stroke="#606060" stroke-width="0.8"/>
<circle cx="187.2" cy="578.1" r="2.3" fill="none" stroke="#606060" stroke-width="0.8"/>
<circle cx="190.1" cy="576.7" r="2.3" fill="none" stroke="#606060" stroke-width="0.8"/>
<circle cx="193.1" cy="574.2" r="2.3" fill="none" stroke="#606060" stroke-width="0.8"/>
<circle cx="196.0" cy="572.2" r="2.3" fill="none" stroke="#606060" stroke-width="0.8"/>
<circle cx="199.0" cy="571.9" r="2.3" fill="none" stroke="#606060" stroke-width="0.8"/>
<circle cx="201.9" cy="568.9" r="2.3" fill="none" stroke="#606060" stroke-width="0.8"/>
<circle cx="204.9" cy="566.9" r="2.3" fill="none" stroke="#606060" stroke-width="0.8"/>
<circle cx="207.9" cy="565.2" r="2.3" fill="none" stroke="#606060" stroke-width="0.8"/>
<circle cx="210.8" cy="560.8" r="2.3" fill="none" stroke="#606060" stroke-width="0.8"/>
<circle cx="213.8" cy="559.3" r="2.3" fill="none" stroke="#606060" stroke-width="0.8"/>
<circle cx="216.7" cy="558.1" r="2.3" fill="none" stroke="#606060" stroke-width="0.8"/>
<circle cx="219.7" cy="556.3" r="2.3" fill="none" stroke="#606060" stroke-width="0.8"/>
<circle cx="222.7" cy="553.9" r="2.3" fill="none" stroke="#606060" stroke-width="0.8"/>
<circle cx="225.6" cy="553.4" r="2.3" fill="none" stroke="#606060" stroke-width="0.8"/>
<circle cx="228.6" cy="551.2" r="2.3" fill="none" stroke="#606060" stroke-width="0.8"/>
<circle cx="231.5" cy="548.7" r="2.3" fill="none" stroke="#606060" stroke-width="0.8"/>
<circle cx="234.5" cy="547.9" r="2.3" fill="none" stroke="#606060" stroke-width="0.8"/>
<circle cx="237.4" cy="548.4" r="2.3" fill="none" stroke="#606060" stroke-width="0.8"/>
<circle cx="240.4" cy="547.5" r="2.3" fill="none" stroke="#606060" stroke-width="0.8"/>
<circle cx="243.4" cy="545.0" r="2.3" fill="none" stroke="#606060" stroke-width="0.8"/>
<circle cx="246.3" cy="546.8" r="2.3" fill="none" stroke="#606060" stroke-width="0.8"/>
<circle cx="249.3" cy="545.3" r="2.3" fill="none" stroke="#606060" stroke-width="0.8"/>
<circle cx="252.2" cy="544.7" r="2.3" fill="none" stroke="#606060" stroke-width="0.8"/>
<circle cx="255.2" cy="542.1" r="2.3" fill="none" stroke="#606060" stroke-width="0.8"/>
<circle cx="258.1" cy="541.2" r="2.3" fill="none" stroke="#606060" stroke-width="0.8"/>
<circle cx="261.1" cy="539.8" r="2.3" fill="none" stroke="#606060" stroke-width="0.8"/>
<circle cx="264.1" cy="542.6" r="2.3" fill="none" stroke="#606060" stroke-width="0.8"/>
<circle cx="267.0" cy="540.7" r="2.3" fill="none" stroke="#606060" stroke-width="0.8"/>
<circle cx="270.0" cy="542.9" r="2.3" fill="none" stroke="#606060" stroke-width="0.8"/>
<circle cx="272.9" cy="542.3" r="2.3" fill="none" stroke="#606060" stroke-width="0.8"/>
<circle cx="275.9" cy="544.7" r="2.3" fill="none" stroke="#606060" stroke-width="0.8"/>
<circle cx="278.9" cy="545.7" r="2.3" fill="none" stroke="#606060" stroke-width="0.8"/>
<circle cx="281.8" cy="549.9" r="2.3" fill="none" stroke="#606060" stroke-width="0.8"/>
<circle cx="284.8" cy="554.8" r="2.3" fill="none" stroke="#606060" stroke-width="0.8"/>
<circle cx="287.7" cy="557.2" r="2.3" fill="none" stroke="#606060" stroke-width="0.8"/>
<circle cx="290.7" cy="563.6" r="2.3" fill="none" stroke="#606060" stroke-width="0.8"/>
<circle cx="293.6" cy="567.6" r="2.3" fill="none" stroke="#606060" stroke-width="0.8"/>
<circle cx="296.6" cy="570.9" r="2.3" fill="none" stroke="#606060" stroke-width="0.8"/>
<circle cx="299.6" cy="575.6" r="2.3" fill="none" stroke="#606060" stroke-width="0.8"/>
<circle cx="302.5" cy="579.4" r="2.3" fill="none" stroke="#606060" stroke-width="0.8"/>
<circle cx="305.5" cy="583.1" r="2.3" fill="none" stroke="#606060" stroke-width="0.8"/>
<circle cx="308.4" cy="585.6" r="2.3" fill="none" stroke="#606060" stroke-width="0.8"/>
<circle cx="311.4" cy="587.7" r="2.3" fill="none" stroke="#606060" stroke-width="0.8"/>
<circle cx="314.4" cy="590.0" r="2.3" fill="none" stroke="#606060" stroke-width="0.8"/>
<circle cx="317.3" cy="590.9" r="2.3" fill="none" stroke="#606060" stroke-width="0.8"/>
<circle cx="320.3" cy="591.9" r="2.3" fill="none" stroke="#606060" stroke-width="0.8"/>
<circle cx="323.2" cy="593.7" r="2.3" fill="none" stroke="#606060" stroke-width="0.8"/>
<circle cx="326.2" cy="595.1" r="2.3" fill="none" stroke="#606060" stroke-width="0.8"/>
<circle cx="329.1" cy="593.6" r="2.3" fill="none" stroke="#606060" stroke-width="0.8"/>
<circle cx="332.1" cy="595.2" r="2.3" fill="none" stroke="#606060" stroke-width="0.8"/>
<circle cx="335.1" cy="594.9" r="2.3" fill="none" stroke="#606060" stroke-width="0.8"/>
<circle cx="338.0" cy="594.9" r="2.3" fill="none" stroke="#606060" stroke-width="0.8"/>
<circle cx="341.0" cy="596.5" r="2.3" fill="none" stroke="#606060" stroke-width="0.8"/>
<circle cx="343.9" cy="595.5" r="2.3" fill="none" stroke="#606060" stroke-width="0.8"/>
<circle cx="346.9" cy="597.2" r="2.3" fill="none" stroke="#606060" stroke-width="0.8"/>
<circle cx="349.8" cy="595.5" r="2.3" fill="none" stroke="#606060" stroke-width="0.8"/>
<circle cx="352.8" cy="596.5" r="2.3" fill="none" stroke="#606060" stroke-width="0.8"/>
<circle cx="355.8" cy="596.1" r="2.3" fill="none" stroke="#606060" stroke-width="0.8"/>
<circle cx="358.7" cy="595.7" r="2.3" fill="none" stroke="#606060" stroke-width="0.8"/>
<circle cx="361.7" cy="596.8" r="2.3" fill="none" stroke="#606060" stroke-width="0.8"/>
<circle cx="364.6" cy="596.3" r="2.3" fill="none" stroke="#606060" stroke-width="0.8"/>
<circle cx="367.6" cy="597.0" r="2.3" fill="none" stroke="#606060" stroke-width="0.8"/>
<polyline points="36.3,596.9 37.1,596.9 38.0,596.9 38.8,596.9 39.6,596.9 40.4,596.9 41.3,596.9 42.1,596.9 42.9,596.9 43.8,596.9 44.6,596.9 45.4,596.9 46.2,596.9 47.1,596.9 47.9,596.9 48.7,596.9 49.6,596.9 50.4,596.9 51.2,596.9 52.0,596.9 52.9,596.9 53.7,596.9 54.5,596.8 55.4,596.8 56.2,596.8 57.0,596.8 57.8,596.8 58.7,596.8 59.5,596.8 60.3,596.8 61.2,596.8 62.0,596.8 62.8,596.8 63.6,596.8 64.5,596.8 65.3,596.8 66.1,596.7 67.0,596.7 67.8,596.7 68.6,596.7 69.4,596.7 70.3,596.7 71.1,596.7 71.9,596.7 72.8,596.6 73.6,596.6 74.4,596.6 75.2,596.6 76.1,596.6 76.9,596.6 77.7,596.5 78.6,596.5 79.4,596.5 80.2,596.5 81.0,596.4 81.9,596.4 82.7,596.4 83.5,596.3 84.4,596.3 85.2,596.3 86.0,596.2 86.8,596.2 87.7,596.2 88.5,596.1 89.3,596.1 90.2,596.0 91.0,596.0 91.8,595.9 92.6,595.9 93.5,595.8 94.3,595.8 95.1,595.7 96.0,595.6 96.8,595.6 97.6,595.5 98.4,595.4 99.3,595.3 100.1,595.3 100.9,595.2 101.8,595.1 102.6,595.0 103.4,594.9 104.2,594.8 105.1,594.7 105.9,594.6 106.7,594.5 107.6,594.4 108.4,594.3 109.2,594.2 110.0,594.0 110.9,593.9 111.7,593.8 112.5,593.7 113.4,593.6 114.2,593.4 115.0,593.3 115.8,593.2 116.7,593.0 117.5,592.9 118.3,592.8 119.2,592.6 120.0,592.5 120.8,592.3 121.6,592.2 122.5,592.1 123.3,591.9 124.1,591.8 125.0,591.6 125.8,591.5 126.6,591.4 127.4,591.2 128.3,591.1 129.1,590.9 129.9,590.8 130.8,590.7 131.6,590.5 132.4,590.4 133.2,590.3 134.1,590.2 134.9,590.0 135.7,589.9 136.6,589.8 137.4,589.7 138.2,589.6 139.0,589.5 139.9,589.3 140.7,589.2 141.5,589.1 142.4,589.0 143.2,588.9 144.0,588.8 144.8,588.7 145.7,588.6 146.5,588.5 147.3,588.3 148.2,588.2 149.0,588.1 149.8,588.0 150.6,587.9 151.5,587.8 152.3,587.6 153.1,587.5 154.0,587.4 154.8,587.3 155.6,587.1 156.4,587.0 157.3,586.8 158.1,586.7 158.9,586.5 159.8,586.4 160.6,586.2 161.4,586.1 162.2,585.9 163.1,585.7 163.9,585.6 164.7,585.4 165.6,585.2 166.4,585.0 167.2,584.8 168.0,584.6 168.9,584.5 169.7,584.3 170.5,584.0 171.4,583.8 172.2,583.6 173.0,583.4 173.8,583.2 174.7,583.0 175.5,582.7 176.3,582.5 177.2,582.2 178.0,582.0 178.8,581.7 179.6,581.4 180.5,581.2 181.3,580.9 182.1,580.6 183.0,580.3 183.8,579.9 184.6,579.6 185.4,579.2 186.3,578.9 187.1,578.5 187.9,578.1 188.8,577.7 189.6,577.2 190.4,576.8 191.2,576.3 192.1,575.8 192.9,575.3 193.7,574.8 194.6,574.3 195.4,573.8 196.2,573.2 197.0,572.6 197.9,572.1 198.7,571.5 199.5,570.9 200.4,570.3 201.2,569.6 202.0,569.0 202.8,568.4 203.7,567.7 204.5,567.1 205.3,566.4 206.2,565.8 207.0,565.1 207.8,564.5 208.6,563.8 209.5,563.2 210.3,562.6 211.1,561.9 212.0,561.3 212.8,560.7 213.6,560.1 214.4,559.5 215.3,558.9 216.1,558.4 216.9,557.8 217.8,557.2 218.6,556.7 219.4,556.2 220.2,555.7 221.1,555.2 221.9,554.7 222.7,554.2 223.6,553.7 224.4,553.2 225.2,552.8 226.0,552.3 226.9,551.9 227.7,551.5 228.5,551.1 229.4,550.7 230.2,550.3 231.0,549.9 231.8,549.6 232.7,549.3 233.5,549.0 234.3,548.7 235.2,548.4 236.0,548.2 236.8,547.9 237.6,547.7 238.5,547.5 239.3,547.3 240.1,547.2 241.0,547.0 241.8,546.8 242.6,546.7 243.4,546.5 244.3,546.3 245.1,546.1 245.9,545.9 246.8,545.6 247.6,545.4 248.4,545.1 249.2,544.8 250.1,544.5 250.9,544.2 251.7,543.9 252.6,543.5 253.4,543.2 254.2,542.8 255.0,542.5 255.9,542.2 256.7,541.9 257.5,541.6 258.4,541.3 259.2,541.1 260.0,540.9 260.8,540.8 261.7,540.7 262.5,540.6 263.3,540.6 264.2,540.6 265.0,540.6 265.8,540.7 266.6,540.8 267.5,541.0 268.3,541.1 269.1,541.4 270.0,541.6 270.8,541.9 271.6,542.2 272.4,542.6 273.3,543.0 274.1,543.5 274.9,544.0 275.8,544.5 276.6,545.1 277.4,545.8 278.2,546.5 279.1,547.3 279.9,548.1 280.7,549.0 281.6,549.9 282.4,550.9 283.2,551.9 284.0,553.0 284.9,554.1 285.7,555.3 286.5,556.4 287.4,557.7 288.2,558.9 289.0,560.2 289.8,561.4 290.7,562.7 291.5,564.0 292.3,565.3 293.2,566.6 294.0,567.8 294.8,569.1 295.6,570.3 296.5,571.6 297.3,572.8 298.1,574.0 299.0,575.1 299.8,576.3 300.6,577.4 301.4,578.4 302.3,579.5 303.1,580.5 303.9,581.4 304.8,582.4 305.6,583.3 306.4,584.1 307.2,584.9 308.1,585.7 308.9,586.4 309.7,587.1 310.6,587.8 311.4,588.4 312.2,588.9 313.0,589.5 313.9,590.0 314.7,590.5 315.5,590.9 316.4,591.3 317.2,591.7 318.0,592.1 318.8,592.4 319.7,592.7 320.5,593.0 321.3,593.2 322.2,593.5 323.0,593.7 323.8,593.9 324.6,594.1 325.5,594.3 326.3,594.4 327.1,594.6 328.0,594.7 328.8,594.8 329.6,594.9 330.4,595.0 331.3,595.1 332.1,595.2 332.9,595.3 333.8,595.4 334.6,595.4 335.4,595.5 336.2,595.5 337.1,595.6 337.9,595.6 338.7,595.7 339.6,595.7 340.4,595.8 341.2,595.8 342.0,595.9 342.9,595.9 343.7,595.9 344.5,595.9 345.4,596.0 346.2,596.0 347.0,596.0 347.8,596.1 348.7,596.1 349.5,596.1 350.3,596.1 351.2,596.2 352.0,596.2 352.8,596.2 353.6,596.2 354.5,596.2 355.3,596.3 356.1,596.3 357.0,596.3 357.8,596.3 358.6,596.3 359.4,596.3 360.3,596.4 361.1,596.4 361.9,596.4 362.8,596.4 363.6,596.4 364.4,596.4 365.2,596.4 366.1,596.5 366.9,596.5" fill="none" stroke="#ff1a1a" stroke-width="3.6" stroke-linejoin="round"/>
<line x1="135.7" y1="363" x2="135.7" y2="600" stroke="#111" stroke-width="1.3" stroke-dasharray="4.5,3"/>
<line x1="176.4" y1="332" x2="176.4" y2="600" stroke="#111" stroke-width="1.3" stroke-dasharray="4.5,3"/>
<line x1="215.5" y1="308" x2="215.5" y2="600" stroke="#111" stroke-width="1.3" stroke-dasharray="4.5,3"/>
<line x1="243.4" y1="307" x2="243.4" y2="600" stroke="#111" stroke-width="1.3" stroke-dasharray="4.5,3"/>
<line x1="261.5" y1="325.5" x2="261.5" y2="600" stroke="#111" stroke-width="1.3" stroke-dasharray="4.5,3"/>
<line x1="279.9" y1="350" x2="279.9" y2="600" stroke="#111" stroke-width="1.3" stroke-dasharray="4.5,3"/>
<line x1="36.6" y1="289" x2="36.6" y2="601" stroke="#000" stroke-width="1.8"/>
<line x1="35.7" y1="600.2" x2="367.5" y2="600.2" stroke="#000" stroke-width="1.6"/>
<line x1="36.3" y1="600" x2="36.3" y2="608.3" stroke="#000" stroke-width="1.6"/>
<text x="36.3" y="627.8" font-size="18.2" text-anchor="middle">292</text>
<line x1="71.1" y1="600" x2="71.1" y2="605" stroke="#000" stroke-width="1.6"/>
<line x1="105.9" y1="600" x2="105.9" y2="608.3" stroke="#000" stroke-width="1.6"/>
<text x="105.9" y="627.8" font-size="18.2" text-anchor="middle">290</text>
<line x1="140.7" y1="600" x2="140.7" y2="605" stroke="#000" stroke-width="1.6"/>
<line x1="175.5" y1="600" x2="175.5" y2="608.3" stroke="#000" stroke-width="1.6"/>
<text x="175.5" y="627.8" font-size="18.2" text-anchor="middle">288</text>
<line x1="210.3" y1="600" x2="210.3" y2="605" stroke="#000" stroke-width="1.6"/>
<line x1="245.1" y1="600" x2="245.1" y2="608.3" stroke="#000" stroke-width="1.6"/>
<text x="245.1" y="627.8" font-size="18.2" text-anchor="middle">286</text>
<line x1="279.9" y1="600" x2="279.9" y2="605" stroke="#000" stroke-width="1.6"/>
<line x1="314.7" y1="600" x2="314.7" y2="608.3" stroke="#000" stroke-width="1.6"/>
<text x="314.7" y="627.8" font-size="18.2" text-anchor="middle">284</text>
<line x1="349.5" y1="600" x2="349.5" y2="605" stroke="#000" stroke-width="1.6"/>
<text x="201.8" y="648.3" font-size="18.5" text-anchor="middle"><tspan font-style="italic">Binding energy</tspan> (eV)</text>
<text transform="translate(26.4,435.8) rotate(-90)" font-size="18.9" text-anchor="middle"><tspan font-style="italic">Normalized intensity</tspan> (a.u.)</text>
<text x="83" y="301.5" font-size="26" text-anchor="middle">(b)</text>
<text x="131.2" y="356.6" font-size="15.5" text-anchor="middle">O-C=O</text>
<text x="170.8" y="326.9" font-size="15.5" text-anchor="middle">N-C=O</text>
<text x="211.8" y="300.3" font-size="15.5" text-anchor="middle">C-O</text>
<text x="246.8" y="300.3" font-size="15.5" text-anchor="middle">C-N</text>
<text x="308" y="345.6" font-size="15.5" text-anchor="middle">C-C, C-H</text>
<text x="257" y="320.3" font-size="15.5">C<tspan font-size="10.5" dy="3">tert.</tspan></text>
<text x="69.5" y="388.6" font-size="15.5" text-anchor="middle">0 nm</text>
<text x="69.5" y="458.2" font-size="15.5" text-anchor="middle">50 nm</text>
<text x="68" y="525.8" font-size="15.5" text-anchor="middle">100 nm</text>
<text x="68" y="590" font-size="15.5" text-anchor="middle">150 nm</text></svg></body></html>
